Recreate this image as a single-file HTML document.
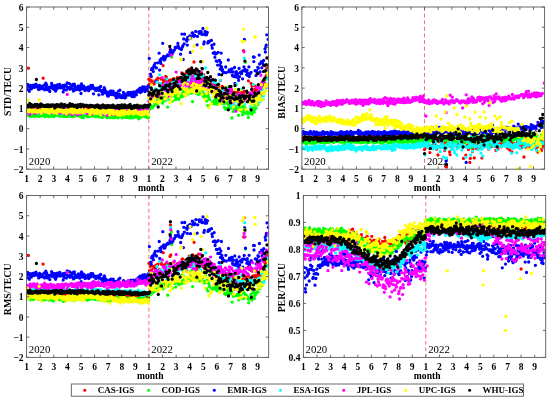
<!DOCTYPE html><html><head><meta charset="utf-8"><style>html,body{margin:0;padding:0;background:#fff;}svg{display:block;}text{font-family:"Liberation Serif","Times New Roman",serif;}</style></head><body>
<svg width="550" height="401" viewBox="0 0 550 401">
<rect width="550" height="401" fill="#fff"/>
<text x="28.8" y="165.2" font-size="10.8">2020</text>
<text x="151.2" y="165.2" font-size="10.8">2022</text>
<line x1="148.8" y1="7.0" x2="148.8" y2="169.2" stroke="#ff3040" stroke-opacity="0.7" stroke-width="1" stroke-dasharray="4,2.6"/>
<clipPath id="c1"><rect x="26.6" y="7.0" width="241.9" height="162.2"/></clipPath>
<g clip-path="url(#c1)" fill="none" stroke-linecap="round" stroke-width="3.3">
<path stroke="#ff0000" d="M26.6 107.6h0M27.0 109.7h0M27.5 109.9h0M27.9 112.1h0M28.4 68.2h0M28.8 109.7h0M29.3 109.9h0M29.7 109.1h0M30.2 109.0h0M30.6 110.5h0M31.1 110.3h0M31.5 109.9h0M32.0 108.7h0M32.4 108.8h0M32.8 110.7h0M33.3 110.6h0M33.7 108.7h0M34.2 107.8h0M34.6 109.5h0M35.1 110.1h0M35.5 108.3h0M36.0 109.7h0M36.4 108.7h0M36.9 107.9h0M37.3 108.8h0M37.8 109.4h0M38.2 108.7h0M38.6 110.1h0M39.1 109.6h0M39.5 110.0h0M40.0 109.7h0M40.4 110.0h0M40.9 109.6h0M41.3 109.8h0M41.8 109.4h0M42.2 109.4h0M42.7 109.2h0M43.1 78.2h0M43.6 111.0h0M44.0 108.2h0M44.5 109.7h0M44.9 110.7h0M45.3 109.7h0M45.8 109.4h0M46.2 108.4h0M46.7 110.6h0M47.1 109.3h0M47.6 109.4h0M48.0 111.2h0M48.5 110.7h0M48.9 108.9h0M49.4 108.8h0M49.8 108.4h0M50.3 109.0h0M50.7 109.1h0M51.1 109.4h0M51.6 108.3h0M52.0 110.4h0M52.5 109.7h0M52.9 109.1h0M53.4 111.1h0M53.8 108.2h0M54.3 110.3h0M54.7 109.6h0M55.2 107.3h0M55.6 110.4h0M56.1 110.1h0M56.5 108.0h0M56.9 110.6h0M57.4 110.0h0M57.8 109.0h0M58.3 109.1h0M58.7 108.9h0M59.2 109.2h0M59.6 108.2h0M60.1 108.5h0M60.5 109.0h0M61.0 110.3h0M61.4 110.3h0M61.9 111.5h0M62.3 108.9h0M62.7 111.4h0M63.2 108.7h0M63.6 107.7h0M64.1 110.7h0M64.5 110.3h0M65.0 110.1h0M65.4 108.7h0M65.9 110.5h0M66.3 109.7h0M66.8 110.1h0M67.2 109.8h0M67.7 108.3h0M68.1 110.6h0M68.5 109.5h0M69.0 109.3h0M69.4 108.7h0M69.9 110.9h0M70.3 108.5h0M70.8 109.2h0M71.2 108.7h0M71.7 109.5h0M72.1 111.3h0M72.6 110.3h0M73.0 108.8h0M73.5 109.6h0M73.9 109.7h0M74.4 107.8h0M74.8 107.4h0M75.2 109.7h0M75.7 107.7h0M76.1 111.7h0M76.6 111.7h0M77.0 108.8h0M77.5 109.9h0M77.9 109.1h0M78.4 109.1h0M78.8 109.7h0M79.3 109.0h0M79.7 109.5h0M80.2 111.2h0M80.6 109.4h0M81.0 109.5h0M81.5 107.8h0M81.9 110.8h0M82.4 109.6h0M82.8 110.1h0M83.3 109.8h0M83.7 108.0h0M84.2 109.3h0M84.6 110.1h0M85.1 109.5h0M85.5 108.9h0M86.0 110.7h0M86.4 110.0h0M86.8 108.1h0M87.3 108.8h0M87.7 109.7h0M88.2 110.2h0M88.6 109.9h0M89.1 111.3h0M89.5 108.7h0M90.0 109.4h0M90.4 109.6h0M90.9 111.0h0M91.3 110.4h0M91.8 109.2h0M92.2 109.5h0M92.6 110.2h0M93.1 109.2h0M93.5 108.8h0M94.0 110.4h0M94.4 110.3h0M94.9 110.6h0M95.3 110.9h0M95.8 108.9h0M96.2 109.2h0M96.7 109.4h0M97.1 110.9h0M97.6 110.8h0M98.0 109.8h0M98.5 110.2h0M98.9 109.6h0M99.3 110.5h0M99.8 109.1h0M100.2 107.9h0M100.7 108.2h0M101.1 108.1h0M101.6 109.7h0M102.0 108.8h0M102.5 110.1h0M102.9 108.8h0M103.4 110.2h0M103.8 110.3h0M104.3 110.4h0M104.7 109.1h0M105.1 109.5h0M105.6 109.6h0M106.0 110.9h0M106.5 109.6h0M106.9 111.2h0M107.4 108.3h0M107.8 109.9h0M108.3 109.6h0M108.7 109.9h0M109.2 111.4h0M109.6 111.2h0M110.1 109.8h0M110.5 108.3h0M110.9 110.9h0M111.4 110.5h0M111.8 109.9h0M112.3 111.5h0M112.7 111.5h0M113.2 110.2h0M113.6 109.9h0M114.1 110.2h0M114.5 108.3h0M115.0 110.0h0M115.4 109.5h0M115.9 108.2h0M116.3 108.1h0M116.7 111.4h0M117.2 110.2h0M117.6 108.7h0M118.1 111.2h0M118.5 110.8h0M119.0 111.2h0M119.4 111.2h0M119.9 111.0h0M120.3 109.7h0M120.8 108.6h0M121.2 108.3h0M121.7 109.8h0M122.1 111.9h0M122.5 109.9h0M123.0 110.2h0M123.4 109.5h0M123.9 110.0h0M124.3 111.7h0M124.8 109.5h0M125.2 112.0h0M125.7 110.6h0M126.1 109.6h0M126.6 109.5h0M127.0 108.3h0M127.5 112.3h0M127.9 109.5h0M128.4 109.2h0M128.8 110.2h0M129.2 109.3h0M129.7 111.0h0M130.1 109.2h0M130.6 109.4h0M131.0 110.9h0M131.5 110.6h0M131.9 110.1h0M132.4 110.6h0M132.8 108.9h0M133.3 109.7h0M133.7 108.6h0M134.2 108.7h0M134.6 109.9h0M135.0 110.1h0M135.5 110.9h0M135.9 110.7h0M136.4 110.7h0M136.8 109.6h0M137.3 110.8h0M137.7 109.9h0M138.2 109.7h0M138.6 110.4h0M139.1 110.1h0M139.5 108.5h0M140.0 108.3h0M140.4 110.7h0M140.8 110.2h0M141.3 110.3h0M141.7 110.2h0M142.2 108.4h0M142.6 109.3h0M143.1 108.7h0M143.5 108.2h0M144.0 110.4h0M144.4 110.2h0M144.9 109.9h0M145.3 108.9h0M145.8 110.1h0M146.2 109.3h0M146.6 108.8h0M147.1 108.8h0M147.5 109.5h0M148.0 110.8h0M148.4 111.6h0M148.8 79.2h0M149.3 84.4h0M150.2 80.7h0M150.6 80.5h0M151.1 76.7h0M151.5 83.8h0M152.0 80.8h0M153.8 83.6h0M154.2 83.9h0M155.1 81.8h0M156.0 80.5h0M156.9 79.4h0M157.3 80.1h0M157.8 78.2h0M159.6 83.6h0M160.9 78.4h0M161.3 79.1h0M162.2 83.5h0M163.1 65.6h0M163.6 80.4h0M164.5 81.5h0M165.4 79.7h0M165.8 76.3h0M166.3 77.2h0M167.2 80.1h0M167.6 80.9h0M168.0 87.8h0M168.9 80.3h0M169.4 80.6h0M169.8 81.2h0M170.3 49.5h0M170.7 79.8h0M171.2 79.8h0M171.6 80.3h0M173.9 78.7h0M174.3 94.6h0M174.7 84.7h0M175.2 94.6h0M175.6 88.7h0M176.1 81.4h0M176.5 86.6h0M177.0 79.1h0M177.4 77.3h0M178.3 78.1h0M179.2 82.5h0M179.7 79.9h0M181.0 78.1h0M181.9 73.0h0M182.3 73.3h0M182.8 80.4h0M183.2 76.6h0M183.7 76.0h0M184.1 76.9h0M184.6 78.7h0M185.5 74.0h0M185.9 77.5h0M186.8 80.2h0M187.3 73.4h0M187.7 84.4h0M188.1 76.7h0M189.0 69.2h0M189.9 77.1h0M190.4 76.6h0M190.8 86.7h0M191.3 79.1h0M191.7 76.8h0M192.6 70.2h0M193.1 77.1h0M193.5 75.8h0M194.0 62.0h0M194.4 75.5h0M195.3 85.3h0M195.7 81.7h0M196.2 76.7h0M196.6 76.4h0M197.1 78.5h0M197.5 71.0h0M198.0 83.4h0M198.4 73.0h0M198.9 78.6h0M199.8 72.9h0M200.2 80.0h0M200.7 80.6h0M201.1 77.9h0M201.5 73.0h0M202.0 79.4h0M202.4 76.8h0M202.9 81.6h0M203.3 76.0h0M203.8 74.8h0M204.2 80.5h0M206.0 81.8h0M206.5 81.9h0M207.3 81.0h0M207.8 83.4h0M210.0 85.5h0M211.4 79.7h0M211.8 83.7h0M212.3 92.7h0M212.7 88.6h0M213.6 85.0h0M214.0 83.1h0M214.5 86.9h0M214.9 84.9h0M215.4 84.4h0M215.8 91.8h0M216.7 88.8h0M217.2 89.5h0M217.6 88.3h0M219.0 95.2h0M219.4 87.8h0M219.9 94.7h0M220.3 80.7h0M220.7 93.6h0M221.2 91.4h0M221.6 96.1h0M222.1 86.3h0M222.5 93.0h0M223.0 88.4h0M223.9 87.6h0M224.3 94.7h0M224.8 87.9h0M225.2 93.6h0M226.1 91.8h0M226.6 91.2h0M227.0 92.1h0M227.4 95.1h0M227.9 96.6h0M228.3 97.8h0M229.7 98.0h0M230.6 91.5h0M231.0 96.2h0M231.5 90.7h0M231.9 97.9h0M232.4 92.1h0M232.8 92.9h0M233.3 93.0h0M233.7 97.5h0M234.1 105.5h0M234.6 92.5h0M235.0 97.2h0M235.5 95.7h0M235.9 93.1h0M236.4 95.0h0M236.8 92.5h0M238.2 92.1h0M240.4 95.6h0M240.8 97.0h0M241.3 92.4h0M241.7 97.6h0M242.6 93.0h0M243.1 98.8h0M243.5 50.7h0M244.0 94.0h0M244.4 91.5h0M245.3 93.2h0M245.8 93.9h0M246.2 94.1h0M247.5 94.9h0M248.0 98.3h0M248.4 80.8h0M248.9 95.7h0M249.8 94.5h0M251.1 83.4h0M252.0 86.3h0M252.9 91.8h0M253.4 91.9h0M253.8 96.4h0M254.2 89.8h0M254.7 85.8h0M255.1 89.4h0M255.6 92.0h0M256.0 95.5h0M256.5 86.9h0M256.9 89.1h0M257.4 90.9h0M258.7 87.2h0M260.1 91.5h0M260.5 87.2h0M261.4 83.8h0M261.8 85.1h0M262.3 91.2h0M262.7 87.4h0M263.2 82.4h0M264.5 83.4h0M265.0 78.7h0M265.4 77.7h0M266.3 75.5h0M266.8 68.4h0M268.1 66.3h0"/>
<path stroke="#00ff00" d="M26.6 115.3h0M27.0 115.1h0M27.5 113.8h0M27.9 111.3h0M28.4 113.7h0M28.8 114.3h0M29.3 115.8h0M29.7 114.9h0M30.2 116.3h0M30.6 115.1h0M31.1 116.3h0M31.5 113.8h0M32.0 112.7h0M32.4 114.0h0M32.8 112.0h0M33.3 116.3h0M33.7 114.1h0M34.2 115.2h0M34.6 114.9h0M35.1 116.3h0M35.5 115.1h0M36.0 115.2h0M36.4 115.9h0M36.9 113.8h0M37.3 114.2h0M37.8 113.7h0M38.2 115.7h0M38.6 115.8h0M39.1 116.4h0M39.5 114.1h0M40.0 114.0h0M40.4 115.1h0M40.9 115.9h0M41.3 115.0h0M41.8 114.5h0M42.2 114.5h0M42.7 115.4h0M43.1 113.8h0M43.6 113.6h0M44.0 116.1h0M44.5 114.7h0M44.9 115.0h0M45.3 116.6h0M45.8 115.7h0M46.2 114.8h0M46.7 113.7h0M47.1 115.9h0M47.6 115.5h0M48.0 115.3h0M48.5 115.6h0M48.9 116.7h0M49.4 114.2h0M49.8 115.4h0M50.3 114.6h0M50.7 114.3h0M51.1 115.6h0M51.6 116.2h0M52.0 115.9h0M52.5 115.7h0M52.9 116.1h0M53.4 115.5h0M53.8 116.7h0M54.3 115.6h0M54.7 115.8h0M55.2 114.9h0M55.6 114.6h0M56.1 113.1h0M56.5 113.8h0M56.9 114.3h0M57.4 115.1h0M57.8 115.0h0M58.3 114.7h0M58.7 115.4h0M59.2 115.1h0M59.6 116.1h0M60.1 114.7h0M60.5 116.1h0M61.0 115.6h0M61.4 115.7h0M61.9 112.2h0M62.3 115.0h0M62.7 114.0h0M63.2 116.5h0M63.6 114.5h0M64.1 115.4h0M64.5 114.1h0M65.0 115.5h0M65.4 116.4h0M65.9 114.3h0M66.3 115.1h0M66.8 116.6h0M67.2 115.2h0M67.7 116.2h0M68.1 114.3h0M68.5 115.0h0M69.0 114.7h0M69.4 116.2h0M69.9 113.6h0M70.3 115.8h0M70.8 114.8h0M71.2 115.4h0M71.7 115.0h0M72.1 116.5h0M72.6 115.0h0M73.0 114.7h0M73.5 116.6h0M73.9 114.0h0M74.4 116.2h0M74.8 115.8h0M75.2 115.8h0M75.7 113.8h0M76.1 115.7h0M76.6 115.6h0M77.0 114.8h0M77.5 115.0h0M77.9 113.8h0M78.4 115.6h0M78.8 115.8h0M79.3 116.0h0M79.7 116.0h0M80.2 114.3h0M80.6 114.6h0M81.0 115.5h0M81.5 115.3h0M81.9 117.6h0M82.4 114.2h0M82.8 114.7h0M83.3 117.5h0M83.7 115.8h0M84.2 115.3h0M84.6 113.6h0M85.1 114.9h0M85.5 113.8h0M86.0 113.4h0M86.4 114.4h0M86.8 116.2h0M87.3 116.7h0M87.7 115.5h0M88.2 114.3h0M88.6 114.7h0M89.1 116.6h0M89.5 114.4h0M90.0 116.2h0M90.4 115.6h0M90.9 114.0h0M91.3 115.0h0M91.8 115.8h0M92.2 116.0h0M92.6 115.1h0M93.1 114.9h0M93.5 115.3h0M94.0 116.0h0M94.4 114.7h0M94.9 114.3h0M95.3 116.5h0M95.8 114.5h0M96.2 116.0h0M96.7 115.6h0M97.1 114.3h0M97.6 116.7h0M98.0 115.5h0M98.5 113.5h0M98.9 113.8h0M99.3 116.1h0M99.8 116.7h0M100.2 114.1h0M100.7 115.3h0M101.1 115.3h0M101.6 117.3h0M102.0 115.5h0M102.5 117.4h0M102.9 116.0h0M103.4 113.6h0M103.8 114.3h0M104.3 114.0h0M104.7 115.7h0M105.1 115.4h0M105.6 116.3h0M106.0 113.6h0M106.5 116.5h0M106.9 117.5h0M107.4 116.5h0M107.8 114.8h0M108.3 116.6h0M108.7 115.8h0M109.2 117.6h0M109.6 116.8h0M110.1 117.5h0M110.5 117.3h0M110.9 116.3h0M111.4 115.4h0M111.8 113.9h0M112.3 115.4h0M112.7 117.3h0M113.2 117.3h0M113.6 117.8h0M114.1 116.2h0M114.5 117.2h0M115.0 116.4h0M115.4 117.4h0M115.9 114.4h0M116.3 116.5h0M116.7 115.3h0M117.2 116.5h0M117.6 113.6h0M118.1 117.8h0M118.5 115.5h0M119.0 114.6h0M119.4 116.2h0M119.9 115.0h0M120.3 116.2h0M120.8 114.8h0M121.2 116.1h0M121.7 114.1h0M122.1 117.9h0M122.5 115.2h0M123.0 116.7h0M123.4 116.6h0M123.9 115.5h0M124.3 116.8h0M124.8 116.9h0M125.2 115.5h0M125.7 117.4h0M126.1 116.4h0M126.6 115.0h0M127.0 117.1h0M127.5 114.8h0M127.9 117.4h0M128.4 115.9h0M128.8 116.1h0M129.2 117.8h0M129.7 115.4h0M130.1 117.9h0M130.6 114.7h0M131.0 114.5h0M131.5 117.0h0M131.9 116.2h0M132.4 116.5h0M132.8 117.9h0M133.3 117.3h0M133.7 116.4h0M134.2 116.3h0M134.6 114.9h0M135.0 116.9h0M135.5 117.0h0M135.9 115.6h0M136.4 115.5h0M136.8 116.6h0M137.3 116.1h0M137.7 117.0h0M138.2 116.6h0M138.6 118.8h0M139.1 118.3h0M139.5 115.4h0M140.0 117.0h0M140.4 117.5h0M140.8 115.7h0M141.3 113.9h0M141.7 115.1h0M142.2 115.7h0M142.6 116.2h0M143.1 114.1h0M143.5 114.2h0M144.0 115.8h0M144.4 116.5h0M144.9 115.9h0M145.3 115.4h0M145.8 116.2h0M146.2 116.6h0M146.6 116.7h0M147.1 117.6h0M147.5 116.3h0M148.0 115.7h0M148.4 117.5h0M148.8 109.5h0M149.3 109.5h0M149.7 106.9h0M150.2 107.2h0M150.6 108.3h0M151.1 105.7h0M151.5 107.8h0M152.0 99.5h0M152.4 107.8h0M154.2 105.7h0M154.6 102.7h0M155.5 103.5h0M156.4 103.4h0M156.9 104.1h0M157.3 100.4h0M157.8 103.3h0M160.0 98.6h0M160.5 99.8h0M160.9 98.2h0M161.8 101.4h0M162.2 102.1h0M162.7 103.2h0M163.1 100.7h0M163.6 97.1h0M164.5 100.3h0M164.9 99.5h0M165.4 96.9h0M165.8 100.3h0M166.3 99.4h0M167.6 107.1h0M168.0 99.0h0M168.9 96.8h0M169.4 99.0h0M170.7 95.6h0M171.2 96.1h0M171.6 57.0h0M172.5 101.0h0M173.0 90.7h0M173.9 95.0h0M174.3 96.4h0M174.7 93.8h0M175.6 99.7h0M176.1 97.2h0M176.5 95.2h0M177.0 96.6h0M177.4 96.2h0M177.9 94.6h0M178.3 98.4h0M178.8 99.3h0M179.2 96.9h0M180.1 96.8h0M180.6 95.9h0M181.4 89.2h0M181.9 96.8h0M182.8 93.2h0M183.2 93.9h0M183.7 90.4h0M184.1 95.6h0M184.6 91.7h0M185.0 91.1h0M185.5 82.6h0M186.4 91.5h0M186.8 92.6h0M187.7 92.5h0M188.6 93.8h0M189.0 85.9h0M189.5 87.9h0M189.9 91.1h0M190.4 90.0h0M190.8 90.7h0M191.3 93.2h0M191.7 83.4h0M192.6 101.7h0M193.1 92.6h0M194.4 90.3h0M195.3 90.5h0M195.7 88.8h0M196.2 91.0h0M196.6 93.6h0M197.1 90.2h0M197.5 91.7h0M198.0 93.7h0M198.4 94.4h0M199.3 92.1h0M199.8 90.9h0M200.2 93.8h0M200.7 91.8h0M201.1 92.6h0M201.5 91.6h0M202.0 91.1h0M202.4 91.3h0M202.9 95.6h0M203.8 96.8h0M204.2 94.1h0M204.7 94.0h0M205.1 96.2h0M205.6 89.6h0M206.0 94.4h0M206.5 100.9h0M207.3 96.2h0M207.8 105.7h0M208.2 94.8h0M208.7 97.5h0M209.1 99.1h0M209.6 99.5h0M211.8 102.9h0M212.3 102.2h0M213.6 101.6h0M214.0 103.8h0M214.5 100.3h0M214.9 102.0h0M215.4 99.7h0M216.7 104.1h0M217.2 99.3h0M217.6 101.7h0M218.5 104.0h0M219.0 102.9h0M219.4 101.0h0M221.2 102.8h0M223.0 103.6h0M223.9 103.4h0M224.3 107.2h0M225.2 96.3h0M225.7 109.2h0M226.6 108.5h0M227.0 103.4h0M227.9 102.4h0M228.3 109.3h0M228.8 105.2h0M229.2 106.4h0M230.1 108.3h0M231.0 107.5h0M231.5 106.1h0M231.9 118.0h0M233.3 111.5h0M234.1 109.3h0M235.9 106.6h0M236.4 109.5h0M237.3 109.3h0M237.7 109.4h0M238.6 115.3h0M239.1 107.5h0M240.4 110.5h0M241.3 108.4h0M241.7 111.1h0M242.2 105.8h0M242.6 114.7h0M243.1 103.4h0M243.5 113.0h0M244.0 106.5h0M244.4 109.8h0M244.9 107.8h0M245.3 62.2h0M246.2 113.1h0M246.7 112.3h0M247.1 111.6h0M247.5 112.5h0M248.0 113.9h0M248.4 117.5h0M248.9 112.8h0M249.3 112.8h0M250.2 102.1h0M250.7 108.4h0M251.6 114.2h0M252.0 112.0h0M252.5 111.0h0M252.9 107.3h0M253.4 112.4h0M253.8 111.5h0M254.2 112.3h0M255.1 109.2h0M255.6 104.8h0M256.0 107.9h0M256.5 103.5h0M257.4 97.8h0M257.8 104.5h0M258.7 100.8h0M259.6 101.6h0M260.1 98.7h0M260.9 94.9h0M261.8 99.6h0M262.7 95.7h0M263.6 93.8h0M264.5 92.0h0M265.4 85.6h0M265.9 83.9h0M267.2 78.5h0M267.6 77.3h0M268.1 77.1h0"/>
<path stroke="#0000ff" d="M26.6 87.9h0M27.0 89.6h0M27.5 84.4h0M27.9 84.8h0M28.4 87.1h0M28.8 87.9h0M29.3 91.3h0M29.7 88.8h0M30.2 85.4h0M30.6 86.2h0M31.1 87.1h0M31.5 88.8h0M32.0 87.8h0M32.4 85.5h0M32.8 85.9h0M33.3 86.8h0M33.7 85.1h0M34.2 87.4h0M34.6 86.5h0M35.1 86.8h0M35.5 86.6h0M36.0 84.1h0M36.4 85.7h0M36.9 85.7h0M37.3 86.3h0M37.8 87.4h0M38.2 86.6h0M38.6 89.6h0M39.1 86.0h0M39.5 85.3h0M40.0 86.7h0M40.4 86.5h0M40.9 88.8h0M41.3 87.3h0M41.8 86.5h0M42.2 87.7h0M42.7 88.4h0M43.1 88.6h0M43.6 88.7h0M44.0 85.1h0M44.5 89.8h0M44.9 85.3h0M45.3 85.2h0M45.8 83.1h0M46.2 87.6h0M46.7 84.8h0M47.1 89.7h0M47.6 88.4h0M48.0 88.3h0M48.5 88.6h0M48.9 87.5h0M49.4 87.5h0M49.8 91.5h0M50.3 87.2h0M50.7 87.1h0M51.1 88.1h0M51.6 83.5h0M52.0 84.8h0M52.5 87.6h0M52.9 87.7h0M53.4 86.3h0M53.8 89.3h0M54.3 85.8h0M54.7 86.5h0M55.2 85.6h0M55.6 91.1h0M56.1 88.7h0M56.5 89.2h0M56.9 87.3h0M57.4 84.9h0M57.8 88.1h0M58.3 86.7h0M58.7 86.9h0M59.2 87.3h0M59.6 84.3h0M60.1 87.7h0M60.5 87.9h0M61.0 87.1h0M61.4 86.7h0M61.9 87.6h0M62.3 87.0h0M62.7 85.5h0M63.2 91.9h0M63.6 87.8h0M64.1 89.6h0M64.5 85.1h0M65.0 85.8h0M65.4 85.5h0M65.9 85.8h0M66.3 89.9h0M66.8 86.7h0M67.2 83.0h0M67.7 88.1h0M68.1 87.5h0M68.5 88.0h0M69.0 88.3h0M69.4 83.6h0M69.9 89.2h0M70.3 86.8h0M70.8 87.5h0M71.2 87.2h0M71.7 88.6h0M72.1 84.8h0M72.6 85.7h0M73.0 84.4h0M73.5 91.0h0M73.9 90.7h0M74.4 84.1h0M74.8 88.5h0M75.2 86.5h0M75.7 87.2h0M76.1 87.9h0M76.6 89.5h0M77.0 88.4h0M77.5 87.8h0M77.9 88.6h0M78.4 85.8h0M78.8 89.4h0M79.3 86.9h0M79.7 90.0h0M80.2 86.6h0M80.6 85.9h0M81.0 93.5h0M81.5 83.9h0M81.9 87.4h0M82.4 88.9h0M82.8 86.2h0M83.3 88.9h0M83.7 86.1h0M84.2 88.5h0M84.6 89.1h0M85.1 90.5h0M85.5 87.9h0M86.0 87.8h0M86.4 88.1h0M86.8 88.8h0M87.3 88.7h0M87.7 89.8h0M88.2 87.0h0M88.6 90.7h0M89.1 88.4h0M89.5 87.2h0M90.0 89.2h0M90.4 88.9h0M90.9 85.4h0M91.3 87.7h0M91.8 85.9h0M92.2 88.1h0M92.6 85.5h0M93.1 87.5h0M93.5 93.8h0M94.0 88.4h0M94.4 89.1h0M94.9 88.1h0M95.3 89.0h0M95.8 90.4h0M96.2 89.2h0M96.7 88.9h0M97.1 88.1h0M97.6 88.8h0M98.0 88.3h0M98.5 90.3h0M98.9 94.8h0M99.3 88.9h0M99.8 87.1h0M100.2 90.2h0M100.7 86.5h0M101.1 91.2h0M101.6 90.8h0M102.0 91.5h0M102.5 94.2h0M102.9 93.5h0M103.4 89.9h0M103.8 92.4h0M104.3 87.7h0M104.7 89.0h0M105.1 92.6h0M105.6 92.7h0M106.0 91.2h0M106.5 93.3h0M106.9 92.5h0M107.4 95.6h0M107.8 93.1h0M108.3 96.2h0M108.7 92.3h0M109.2 92.5h0M109.6 94.5h0M110.1 91.5h0M110.5 91.4h0M110.9 91.0h0M111.4 94.2h0M111.8 94.6h0M112.3 94.5h0M112.7 92.0h0M113.2 91.2h0M113.6 94.5h0M114.1 94.4h0M114.5 93.6h0M115.0 95.4h0M115.4 93.8h0M115.9 93.2h0M116.3 97.8h0M116.7 93.7h0M117.2 96.9h0M117.6 94.8h0M118.1 97.0h0M118.5 91.1h0M119.0 95.6h0M119.4 94.3h0M119.9 90.2h0M120.3 97.2h0M120.8 96.5h0M121.2 97.1h0M121.7 97.7h0M122.1 97.5h0M122.5 95.4h0M123.0 96.6h0M123.4 92.5h0M123.9 94.6h0M124.3 93.4h0M124.8 97.9h0M125.2 95.6h0M125.7 97.4h0M126.1 95.7h0M126.6 94.6h0M127.0 94.9h0M127.5 94.7h0M127.9 92.7h0M128.4 95.0h0M128.8 95.0h0M129.2 92.7h0M129.7 94.1h0M130.1 94.8h0M130.6 95.1h0M131.0 92.5h0M131.5 93.7h0M131.9 96.6h0M132.4 94.6h0M132.8 95.8h0M133.3 92.7h0M133.7 92.0h0M134.2 96.7h0M134.6 93.4h0M135.0 92.8h0M135.5 92.5h0M135.9 92.9h0M136.4 94.8h0M136.8 90.9h0M137.3 91.8h0M137.7 90.4h0M138.2 89.9h0M138.6 91.8h0M139.1 89.3h0M139.5 89.3h0M140.0 88.1h0M140.4 92.6h0M140.8 90.1h0M141.3 91.8h0M141.7 91.3h0M142.2 89.3h0M142.6 86.9h0M143.1 87.7h0M143.5 89.2h0M144.0 89.1h0M144.4 86.9h0M144.9 91.5h0M145.3 89.7h0M145.8 89.2h0M146.2 88.0h0M146.6 88.7h0M147.1 87.6h0M147.5 90.5h0M148.0 85.9h0M148.4 87.2h0M149.3 58.4h0M150.6 74.2h0M151.1 76.2h0M151.5 69.7h0M152.0 68.3h0M152.9 68.7h0M153.3 71.4h0M153.8 66.7h0M154.2 65.3h0M154.6 66.3h0M155.1 63.3h0M156.0 81.6h0M156.4 67.9h0M157.8 62.8h0M159.1 53.2h0M159.6 70.1h0M160.0 60.1h0M160.5 61.4h0M160.9 63.4h0M161.3 58.7h0M162.7 43.3h0M163.1 57.6h0M163.6 56.4h0M164.0 59.9h0M164.5 59.9h0M164.9 59.4h0M165.4 57.9h0M166.3 56.4h0M167.2 55.6h0M167.6 54.9h0M168.5 55.5h0M169.4 55.1h0M169.8 52.1h0M170.3 54.4h0M170.7 50.0h0M171.2 51.7h0M171.6 53.6h0M172.1 54.0h0M172.5 51.3h0M173.0 52.2h0M174.3 50.1h0M175.2 47.3h0M175.6 48.0h0M177.0 47.0h0M177.9 43.5h0M178.3 46.3h0M178.8 48.1h0M179.7 48.6h0M180.6 54.2h0M181.4 49.5h0M181.9 34.1h0M182.3 47.3h0M182.8 46.0h0M183.2 59.4h0M183.7 38.9h0M184.1 43.8h0M184.6 34.2h0M186.4 39.7h0M186.8 41.1h0M187.3 45.1h0M187.7 37.4h0M189.0 38.8h0M189.5 36.7h0M189.9 36.0h0M190.4 52.4h0M190.8 37.8h0M192.2 32.9h0M192.6 33.0h0M193.1 35.5h0M194.0 36.3h0M194.4 35.1h0M194.8 35.6h0M195.7 31.4h0M197.1 44.8h0M197.5 36.4h0M198.9 31.9h0M199.3 33.3h0M199.8 31.7h0M200.2 32.9h0M200.7 33.2h0M201.1 31.7h0M202.0 34.4h0M202.4 33.9h0M202.9 28.5h0M203.8 43.9h0M204.2 41.9h0M204.7 34.7h0M205.1 31.3h0M205.6 33.0h0M206.5 34.8h0M206.9 32.4h0M207.3 32.4h0M207.8 43.0h0M208.2 41.7h0M209.1 42.0h0M209.6 41.2h0M211.4 40.4h0M211.8 45.5h0M212.3 48.2h0M213.2 53.2h0M214.0 44.2h0M214.5 52.5h0M214.9 57.3h0M215.4 54.1h0M216.3 61.0h0M216.7 53.3h0M217.2 61.3h0M217.6 65.1h0M218.1 52.3h0M219.0 74.4h0M219.4 60.3h0M219.9 65.1h0M220.3 69.0h0M220.7 62.5h0M221.2 53.1h0M221.6 67.0h0M222.1 70.6h0M222.5 69.7h0M223.4 72.7h0M224.3 72.3h0M225.7 67.0h0M226.1 72.7h0M228.3 60.0h0M228.8 71.5h0M229.2 69.9h0M230.1 71.8h0M231.0 71.8h0M231.5 69.1h0M231.9 68.9h0M232.4 75.2h0M232.8 75.9h0M233.3 71.9h0M234.1 76.5h0M234.6 67.5h0M235.0 83.3h0M235.5 76.8h0M235.9 74.1h0M236.4 71.7h0M236.8 75.3h0M237.7 73.7h0M238.2 78.3h0M238.6 80.3h0M239.1 68.5h0M239.5 76.6h0M240.4 72.4h0M241.3 73.7h0M241.7 73.5h0M242.2 71.1h0M242.6 78.8h0M243.5 70.7h0M244.0 67.0h0M244.4 39.5h0M245.3 69.7h0M245.8 71.3h0M246.7 74.8h0M247.1 70.3h0M247.5 73.1h0M248.0 75.4h0M248.9 66.9h0M249.3 76.6h0M249.8 73.9h0M250.2 73.5h0M251.1 72.3h0M253.4 57.0h0M253.8 61.6h0M254.2 57.2h0M255.1 70.7h0M256.0 75.6h0M256.5 70.9h0M256.9 72.4h0M257.4 72.8h0M257.8 67.3h0M258.3 68.2h0M259.2 55.1h0M259.6 64.0h0M260.1 72.0h0M261.4 61.7h0M261.8 67.8h0M262.7 63.3h0M263.2 64.8h0M263.6 60.4h0M265.0 48.9h0M265.4 52.1h0M265.9 46.7h0M266.3 45.1h0M266.8 34.8h0M268.1 39.3h0"/>
<path stroke="#00ffff" d="M26.6 112.7h0M27.0 112.1h0M27.5 112.1h0M27.9 108.8h0M28.4 111.6h0M28.8 112.5h0M29.3 111.5h0M29.7 109.7h0M30.2 111.4h0M30.6 111.5h0M31.1 111.0h0M31.5 112.4h0M32.0 111.1h0M32.4 110.7h0M32.8 111.5h0M33.3 111.6h0M33.7 111.1h0M34.2 111.3h0M34.6 111.5h0M35.1 112.4h0M35.5 111.8h0M36.0 111.3h0M36.4 111.0h0M36.9 110.8h0M37.3 112.4h0M37.8 112.1h0M38.2 113.3h0M38.6 111.7h0M39.1 110.7h0M39.5 111.1h0M40.0 110.1h0M40.4 110.9h0M40.9 111.7h0M41.3 111.8h0M41.8 111.2h0M42.2 112.2h0M42.7 111.8h0M43.1 111.6h0M43.6 111.3h0M44.0 110.4h0M44.5 111.3h0M44.9 110.3h0M45.3 112.2h0M45.8 110.3h0M46.2 112.4h0M46.7 111.1h0M47.1 111.1h0M47.6 112.2h0M48.0 111.1h0M48.5 112.1h0M48.9 111.7h0M49.4 112.4h0M49.8 111.4h0M50.3 110.8h0M50.7 113.2h0M51.1 110.8h0M51.6 111.8h0M52.0 110.5h0M52.5 112.5h0M52.9 111.8h0M53.4 111.1h0M53.8 111.4h0M54.3 111.1h0M54.7 111.5h0M55.2 110.5h0M55.6 112.4h0M56.1 111.1h0M56.5 111.3h0M56.9 111.4h0M57.4 113.0h0M57.8 110.7h0M58.3 110.6h0M58.7 111.7h0M59.2 112.1h0M59.6 110.8h0M60.1 111.5h0M60.5 111.7h0M61.0 112.5h0M61.4 113.5h0M61.9 109.8h0M62.3 110.8h0M62.7 112.0h0M63.2 111.7h0M63.6 110.0h0M64.1 110.2h0M64.5 110.2h0M65.0 110.6h0M65.4 110.8h0M65.9 112.0h0M66.3 111.3h0M66.8 111.0h0M67.2 111.4h0M67.7 111.0h0M68.1 111.3h0M68.5 110.6h0M69.0 110.2h0M69.4 112.0h0M69.9 110.9h0M70.3 112.0h0M70.8 111.9h0M71.2 111.4h0M71.7 111.7h0M72.1 111.4h0M72.6 111.1h0M73.0 111.3h0M73.5 111.5h0M73.9 111.6h0M74.4 110.3h0M74.8 110.8h0M75.2 110.8h0M75.7 111.1h0M76.1 110.8h0M76.6 111.2h0M77.0 111.9h0M77.5 111.4h0M77.9 111.7h0M78.4 109.8h0M78.8 110.0h0M79.3 111.3h0M79.7 110.4h0M80.2 112.5h0M80.6 109.3h0M81.0 112.2h0M81.5 112.5h0M81.9 110.1h0M82.4 111.1h0M82.8 111.6h0M83.3 110.5h0M83.7 111.8h0M84.2 112.0h0M84.6 111.8h0M85.1 111.3h0M85.5 112.1h0M86.0 113.1h0M86.4 111.1h0M86.8 111.4h0M87.3 110.9h0M87.7 111.4h0M88.2 110.9h0M88.6 112.5h0M89.1 111.7h0M89.5 112.7h0M90.0 112.5h0M90.4 112.3h0M90.9 110.7h0M91.3 112.3h0M91.8 111.4h0M92.2 111.4h0M92.6 111.3h0M93.1 113.2h0M93.5 112.0h0M94.0 110.9h0M94.4 113.2h0M94.9 112.9h0M95.3 113.5h0M95.8 111.7h0M96.2 110.1h0M96.7 111.9h0M97.1 113.1h0M97.6 113.1h0M98.0 110.7h0M98.5 111.5h0M98.9 110.0h0M99.3 112.3h0M99.8 110.1h0M100.2 110.8h0M100.7 110.7h0M101.1 111.9h0M101.6 110.1h0M102.0 111.4h0M102.5 111.8h0M102.9 113.1h0M103.4 111.2h0M103.8 111.5h0M104.3 113.0h0M104.7 112.2h0M105.1 110.9h0M105.6 110.4h0M106.0 112.7h0M106.5 111.1h0M106.9 111.4h0M107.4 111.2h0M107.8 111.6h0M108.3 112.3h0M108.7 110.8h0M109.2 112.2h0M109.6 112.6h0M110.1 109.7h0M110.5 112.3h0M110.9 111.8h0M111.4 112.8h0M111.8 112.0h0M112.3 112.7h0M112.7 111.9h0M113.2 111.1h0M113.6 111.3h0M114.1 111.2h0M114.5 111.1h0M115.0 111.8h0M115.4 111.4h0M115.9 110.8h0M116.3 111.9h0M116.7 110.9h0M117.2 113.7h0M117.6 110.9h0M118.1 111.2h0M118.5 111.5h0M119.0 112.1h0M119.4 111.8h0M119.9 111.4h0M120.3 111.5h0M120.8 112.4h0M121.2 112.7h0M121.7 111.1h0M122.1 112.5h0M122.5 111.7h0M123.0 112.2h0M123.4 111.3h0M123.9 110.9h0M124.3 112.3h0M124.8 110.8h0M125.2 111.5h0M125.7 112.1h0M126.1 110.7h0M126.6 110.2h0M127.0 110.5h0M127.5 111.2h0M127.9 111.1h0M128.4 110.9h0M128.8 110.3h0M129.2 111.7h0M129.7 111.5h0M130.1 111.1h0M130.6 110.4h0M131.0 111.7h0M131.5 111.2h0M131.9 110.5h0M132.4 111.9h0M132.8 112.6h0M133.3 110.8h0M133.7 111.1h0M134.2 110.8h0M134.6 112.5h0M135.0 111.0h0M135.5 110.9h0M135.9 111.1h0M136.4 111.0h0M136.8 111.2h0M137.3 111.2h0M137.7 112.6h0M138.2 110.1h0M138.6 112.6h0M139.1 110.1h0M139.5 112.3h0M140.0 111.3h0M140.4 110.6h0M140.8 111.6h0M141.3 110.4h0M141.7 113.3h0M142.2 112.7h0M142.6 109.0h0M143.1 111.9h0M143.5 110.6h0M144.0 111.3h0M144.4 111.5h0M144.9 111.9h0M145.3 112.8h0M145.8 111.3h0M146.2 110.1h0M146.6 111.3h0M147.1 111.3h0M147.5 111.0h0M148.0 112.3h0M148.4 111.9h0M148.8 98.4h0M149.3 93.6h0M149.7 92.6h0M150.2 95.6h0M150.6 93.5h0M151.1 93.6h0M151.5 88.6h0M152.4 96.1h0M152.9 95.4h0M153.3 90.6h0M154.6 91.4h0M155.5 88.8h0M156.9 82.2h0M157.3 91.5h0M157.8 91.3h0M158.2 91.2h0M159.6 74.8h0M160.0 90.5h0M160.5 83.4h0M160.9 89.8h0M161.3 87.8h0M161.8 92.7h0M162.2 90.6h0M162.7 93.6h0M164.0 85.2h0M164.5 88.9h0M164.9 86.0h0M165.4 84.5h0M165.8 83.1h0M166.3 95.2h0M166.7 79.1h0M167.2 87.6h0M167.6 88.5h0M168.0 99.4h0M169.4 84.8h0M169.8 84.5h0M170.3 85.9h0M170.7 85.7h0M171.6 83.0h0M172.5 90.2h0M173.9 84.9h0M174.3 80.6h0M174.7 81.5h0M175.6 81.7h0M176.1 83.3h0M176.5 85.1h0M177.0 82.5h0M177.4 83.7h0M177.9 89.5h0M178.8 82.7h0M179.2 83.5h0M179.7 82.0h0M180.1 81.8h0M181.0 83.9h0M181.4 83.0h0M182.3 83.3h0M182.8 79.1h0M183.7 76.3h0M184.1 79.2h0M184.6 79.2h0M185.5 77.1h0M185.9 81.1h0M186.4 80.8h0M186.8 83.0h0M187.3 75.5h0M188.6 79.7h0M189.5 73.7h0M189.9 75.5h0M190.4 76.5h0M191.3 77.9h0M192.2 80.8h0M192.6 77.7h0M193.1 77.5h0M193.5 78.4h0M194.0 77.1h0M194.4 80.7h0M194.8 79.9h0M195.3 73.9h0M195.7 74.9h0M196.2 76.6h0M196.6 81.2h0M197.1 78.9h0M198.4 74.2h0M199.3 85.1h0M199.8 81.3h0M200.2 77.6h0M200.7 85.3h0M202.4 75.0h0M203.3 76.0h0M204.7 79.9h0M205.1 83.2h0M205.6 67.9h0M206.0 83.4h0M206.5 80.1h0M206.9 81.7h0M207.3 79.7h0M207.8 85.4h0M209.1 82.4h0M209.6 84.3h0M210.0 79.6h0M210.5 85.7h0M210.9 83.9h0M211.4 84.2h0M211.8 85.1h0M212.3 85.9h0M212.7 82.0h0M213.2 90.2h0M214.0 81.1h0M214.5 87.4h0M215.4 82.7h0M216.7 94.3h0M217.2 90.2h0M218.1 83.8h0M219.0 89.4h0M219.4 93.9h0M219.9 89.9h0M220.3 80.3h0M220.7 88.8h0M221.2 91.3h0M221.6 91.6h0M222.1 93.2h0M223.4 90.4h0M223.9 92.6h0M224.8 91.0h0M225.2 94.5h0M227.4 91.2h0M227.9 87.1h0M229.2 97.0h0M229.7 93.4h0M230.1 95.1h0M230.6 93.0h0M231.0 101.8h0M231.5 105.9h0M231.9 101.5h0M232.4 102.4h0M232.8 100.5h0M233.3 97.9h0M233.7 105.4h0M234.6 101.8h0M235.0 93.9h0M235.5 95.1h0M235.9 101.0h0M236.4 84.5h0M236.8 98.8h0M238.2 104.3h0M238.6 97.0h0M239.5 95.5h0M240.4 98.3h0M240.8 96.4h0M241.3 98.0h0M241.7 89.1h0M242.2 97.7h0M243.1 95.9h0M243.5 103.7h0M244.0 101.8h0M244.4 58.2h0M244.9 103.9h0M245.8 99.3h0M247.1 99.5h0M247.5 97.7h0M248.0 101.1h0M248.4 95.0h0M248.9 97.7h0M249.8 99.4h0M250.2 102.5h0M250.7 106.1h0M251.1 98.9h0M251.6 94.3h0M252.0 98.2h0M252.5 104.8h0M253.4 84.6h0M253.8 99.6h0M255.1 99.2h0M255.6 97.9h0M256.5 98.6h0M256.9 100.2h0M257.4 97.8h0M258.3 92.6h0M258.7 101.5h0M260.1 101.2h0M260.5 89.0h0M260.9 92.4h0M261.4 88.8h0M261.8 85.4h0M262.7 90.8h0M263.2 99.2h0M263.6 95.4h0M264.1 87.0h0M264.5 88.0h0M265.9 79.6h0M266.8 78.9h0M267.2 73.7h0M267.6 70.8h0"/>
<path stroke="#ff00ff" d="M26.6 111.4h0M27.0 109.6h0M27.5 109.9h0M27.9 112.0h0M28.4 112.5h0M28.8 111.5h0M29.3 113.6h0M29.7 114.6h0M30.2 109.7h0M30.6 110.2h0M31.1 110.0h0M31.5 111.0h0M32.0 112.0h0M32.4 111.2h0M32.8 110.1h0M33.3 111.1h0M33.7 110.6h0M34.2 113.0h0M34.6 111.2h0M35.1 111.0h0M35.5 111.2h0M36.0 109.9h0M36.4 113.0h0M36.9 109.8h0M37.3 108.9h0M37.8 110.2h0M38.2 112.2h0M38.6 110.2h0M39.1 111.8h0M39.5 109.9h0M40.0 111.9h0M40.4 109.8h0M40.9 111.2h0M41.3 110.2h0M41.8 109.3h0M42.2 111.9h0M42.7 111.7h0M43.1 110.0h0M43.6 110.6h0M44.0 110.8h0M44.5 108.4h0M44.9 111.9h0M45.3 111.6h0M45.8 108.1h0M46.2 109.9h0M46.7 111.6h0M47.1 112.0h0M47.6 111.2h0M48.0 108.6h0M48.5 111.9h0M48.9 112.7h0M49.4 111.5h0M49.8 110.5h0M50.3 110.1h0M50.7 111.2h0M51.1 109.8h0M51.6 112.5h0M52.0 110.6h0M52.5 112.5h0M52.9 112.2h0M53.4 110.5h0M53.8 110.5h0M54.3 111.5h0M54.7 110.8h0M55.2 111.3h0M55.6 112.0h0M56.1 112.9h0M56.5 111.3h0M56.9 111.0h0M57.4 109.1h0M57.8 109.2h0M58.3 113.2h0M58.7 111.9h0M59.2 111.6h0M59.6 110.8h0M60.1 109.6h0M60.5 110.2h0M61.0 110.6h0M61.4 112.9h0M61.9 111.7h0M62.3 111.3h0M62.7 111.0h0M63.2 112.5h0M63.6 111.0h0M64.1 109.7h0M64.5 113.6h0M65.0 110.7h0M65.4 110.6h0M65.9 109.6h0M66.3 107.7h0M66.8 114.1h0M67.2 94.4h0M67.7 109.9h0M68.1 112.1h0M68.5 110.8h0M69.0 112.1h0M69.4 111.9h0M69.9 109.4h0M70.3 111.1h0M70.8 110.6h0M71.2 113.5h0M71.7 110.4h0M72.1 114.7h0M72.6 112.0h0M73.0 110.7h0M73.5 113.4h0M73.9 111.2h0M74.4 111.0h0M74.8 109.8h0M75.2 112.9h0M75.7 111.2h0M76.1 112.9h0M76.6 110.7h0M77.0 111.0h0M77.5 114.8h0M77.9 112.8h0M78.4 107.5h0M78.8 109.4h0M79.3 110.9h0M79.7 111.4h0M80.2 108.5h0M80.6 113.9h0M81.0 110.5h0M81.5 113.0h0M81.9 111.6h0M82.4 111.7h0M82.8 111.0h0M83.3 111.4h0M83.7 110.2h0M84.2 112.8h0M84.6 109.4h0M85.1 112.2h0M85.5 110.5h0M86.0 111.6h0M86.4 109.2h0M86.8 112.0h0M87.3 113.6h0M87.7 111.1h0M88.2 110.7h0M88.6 110.8h0M89.1 112.4h0M89.5 110.8h0M90.0 110.5h0M90.4 111.4h0M90.9 111.0h0M91.3 114.6h0M91.8 113.2h0M92.2 106.1h0M92.6 112.8h0M93.1 111.4h0M93.5 108.9h0M94.0 111.0h0M94.4 112.9h0M94.9 111.0h0M95.3 112.6h0M95.8 112.8h0M96.2 112.3h0M96.7 111.1h0M97.1 108.8h0M97.6 111.1h0M98.0 111.5h0M98.5 109.4h0M98.9 111.3h0M99.3 110.8h0M99.8 111.5h0M100.2 108.8h0M100.7 109.4h0M101.1 109.7h0M101.6 111.9h0M102.0 111.5h0M102.5 111.1h0M102.9 113.1h0M103.4 114.4h0M103.8 111.2h0M104.3 110.8h0M104.7 112.5h0M105.1 110.8h0M105.6 109.7h0M106.0 109.9h0M106.5 112.0h0M106.9 110.9h0M107.4 115.3h0M107.8 108.8h0M108.3 113.1h0M108.7 110.9h0M109.2 110.0h0M109.6 113.6h0M110.1 114.4h0M110.5 110.2h0M110.9 106.7h0M111.4 111.1h0M111.8 112.4h0M112.3 109.7h0M112.7 114.2h0M113.2 112.2h0M113.6 111.9h0M114.1 110.1h0M114.5 112.7h0M115.0 114.6h0M115.4 113.1h0M115.9 112.7h0M116.3 111.7h0M116.7 107.3h0M117.2 109.0h0M117.6 111.0h0M118.1 111.6h0M118.5 110.0h0M119.0 110.5h0M119.4 111.8h0M119.9 108.8h0M120.3 109.9h0M120.8 109.9h0M121.2 111.0h0M121.7 111.7h0M122.1 113.1h0M122.5 112.4h0M123.0 112.0h0M123.4 110.1h0M123.9 111.3h0M124.3 111.0h0M124.8 112.4h0M125.2 113.0h0M125.7 109.1h0M126.1 110.5h0M126.6 112.8h0M127.0 112.7h0M127.5 110.5h0M127.9 110.2h0M128.4 108.8h0M128.8 111.6h0M129.2 111.0h0M129.7 109.5h0M130.1 112.2h0M130.6 112.7h0M131.0 112.3h0M131.5 111.4h0M131.9 110.4h0M132.4 112.3h0M132.8 111.8h0M133.3 111.5h0M133.7 112.7h0M134.2 112.4h0M134.6 109.5h0M135.0 110.8h0M135.5 111.5h0M135.9 110.3h0M136.4 111.4h0M136.8 111.1h0M137.3 107.0h0M137.7 109.8h0M138.2 111.0h0M138.6 109.5h0M139.1 108.9h0M139.5 112.8h0M140.0 112.2h0M140.4 110.8h0M140.8 111.2h0M141.3 110.9h0M141.7 112.4h0M142.2 109.8h0M142.6 112.2h0M143.1 112.5h0M143.5 111.2h0M144.0 107.8h0M144.4 111.8h0M144.9 110.3h0M145.3 110.5h0M145.8 111.8h0M146.2 111.6h0M146.6 113.3h0M147.1 111.0h0M147.5 113.6h0M148.0 108.4h0M148.4 111.1h0M148.8 101.3h0M149.3 105.1h0M149.7 94.9h0M150.2 97.0h0M151.1 100.4h0M151.5 93.5h0M152.0 97.2h0M152.9 94.5h0M153.3 96.1h0M153.8 97.5h0M155.5 90.9h0M156.0 96.3h0M156.4 96.9h0M156.9 93.4h0M157.3 93.7h0M157.8 96.9h0M158.2 92.5h0M158.7 96.1h0M159.6 96.0h0M160.5 92.7h0M160.9 93.5h0M161.3 94.4h0M161.8 96.8h0M162.2 77.6h0M162.7 93.3h0M163.1 85.4h0M164.0 87.5h0M164.9 88.1h0M165.4 87.0h0M165.8 90.4h0M166.7 82.2h0M168.0 93.2h0M168.5 90.0h0M168.9 96.6h0M169.8 87.2h0M170.3 87.2h0M170.7 89.0h0M171.2 55.2h0M172.5 86.8h0M173.4 89.2h0M173.9 85.0h0M174.3 83.8h0M175.2 85.1h0M176.1 72.1h0M176.5 88.6h0M177.0 86.9h0M177.4 88.9h0M177.9 87.3h0M178.3 82.0h0M178.8 88.7h0M179.2 86.8h0M179.7 81.3h0M180.6 85.5h0M181.4 84.8h0M181.9 81.4h0M182.8 84.5h0M183.7 85.2h0M184.6 84.9h0M185.5 83.0h0M186.4 82.5h0M186.8 87.9h0M187.3 85.4h0M187.7 86.5h0M188.6 82.8h0M189.0 85.5h0M189.9 85.8h0M190.4 84.4h0M190.8 82.6h0M191.3 81.4h0M191.7 79.2h0M192.2 76.6h0M192.6 82.3h0M193.1 87.9h0M194.0 78.9h0M194.8 89.5h0M195.3 92.5h0M195.7 81.3h0M196.2 86.7h0M196.6 85.6h0M197.1 83.2h0M197.5 84.8h0M198.4 84.2h0M198.9 79.9h0M199.3 81.6h0M199.8 81.9h0M200.7 71.8h0M201.5 82.3h0M202.0 85.8h0M202.9 84.8h0M203.3 82.4h0M203.8 79.6h0M204.2 87.0h0M205.1 86.7h0M205.6 78.5h0M206.0 82.9h0M206.5 83.2h0M206.9 83.0h0M207.3 82.3h0M208.2 88.5h0M208.7 88.1h0M209.1 91.4h0M209.6 87.1h0M210.0 82.9h0M210.5 77.2h0M210.9 84.7h0M211.4 86.7h0M211.8 84.6h0M212.3 86.1h0M212.7 92.0h0M213.2 88.9h0M214.0 86.6h0M214.5 91.5h0M215.8 94.4h0M216.7 94.9h0M217.2 90.8h0M217.6 89.5h0M218.1 90.9h0M218.5 94.0h0M219.0 94.0h0M219.4 90.3h0M219.9 91.2h0M220.3 92.8h0M220.7 93.7h0M221.2 93.0h0M221.6 94.3h0M222.1 96.5h0M222.5 93.6h0M223.0 100.8h0M223.9 93.6h0M224.3 94.2h0M224.8 98.6h0M225.2 89.8h0M225.7 94.8h0M226.1 97.0h0M226.6 92.8h0M227.9 97.2h0M228.3 97.3h0M228.8 93.9h0M229.2 89.7h0M229.7 94.2h0M230.1 102.4h0M231.0 91.5h0M231.5 89.5h0M232.4 98.4h0M232.8 102.0h0M233.3 93.9h0M233.7 95.4h0M235.0 95.9h0M235.5 97.1h0M235.9 111.2h0M236.4 97.2h0M236.8 95.9h0M238.2 96.7h0M238.6 97.8h0M239.1 96.8h0M239.5 93.5h0M240.0 94.5h0M240.8 96.5h0M241.7 96.7h0M242.6 100.4h0M243.1 100.4h0M243.5 94.8h0M244.0 51.8h0M244.9 100.3h0M245.3 98.7h0M246.2 94.0h0M247.1 101.1h0M247.5 98.5h0M248.0 101.0h0M248.9 94.1h0M249.3 92.9h0M250.2 94.8h0M251.1 93.1h0M251.6 94.2h0M252.0 95.1h0M252.5 89.3h0M253.4 97.0h0M253.8 96.2h0M254.7 92.5h0M255.1 96.8h0M256.0 93.9h0M256.5 93.2h0M256.9 87.5h0M257.8 92.8h0M258.3 91.4h0M258.7 86.8h0M259.2 93.2h0M260.1 87.8h0M260.5 88.7h0M260.9 75.4h0M261.4 93.7h0M262.3 82.2h0M262.7 82.8h0M263.2 85.8h0M263.6 80.4h0M264.1 81.1h0M265.0 77.9h0M266.3 71.8h0M268.1 58.0h0"/>
<path stroke="#ffff00" d="M26.6 110.6h0M27.0 110.0h0M27.5 100.5h0M27.9 110.8h0M28.4 111.7h0M28.8 111.8h0M29.3 110.7h0M29.7 109.9h0M30.2 109.2h0M30.6 109.7h0M31.1 109.9h0M31.5 110.4h0M32.0 112.1h0M32.4 111.5h0M32.8 110.2h0M33.3 111.7h0M33.7 111.8h0M34.2 110.7h0M34.6 109.9h0M35.1 111.3h0M35.5 111.7h0M36.0 111.2h0M36.4 111.2h0M36.9 112.3h0M37.3 111.6h0M37.8 111.8h0M38.2 110.2h0M38.6 111.5h0M39.1 100.0h0M39.5 111.5h0M40.0 108.1h0M40.4 111.4h0M40.9 111.6h0M41.3 113.4h0M41.8 107.9h0M42.2 108.6h0M42.7 111.2h0M43.1 109.9h0M43.6 110.8h0M44.0 110.8h0M44.5 109.8h0M44.9 110.6h0M45.3 112.0h0M45.8 109.3h0M46.2 109.0h0M46.7 110.6h0M47.1 110.2h0M47.6 109.5h0M48.0 112.6h0M48.5 108.9h0M48.9 109.9h0M49.4 113.2h0M49.8 108.1h0M50.3 109.6h0M50.7 109.9h0M51.1 111.6h0M51.6 110.0h0M52.0 110.0h0M52.5 109.4h0M52.9 109.5h0M53.4 112.6h0M53.8 109.1h0M54.3 110.2h0M54.7 111.4h0M55.2 111.2h0M55.6 109.5h0M56.1 112.6h0M56.5 110.7h0M56.9 113.4h0M57.4 109.3h0M57.8 111.1h0M58.3 111.4h0M58.7 110.9h0M59.2 110.7h0M59.6 109.9h0M60.1 109.7h0M60.5 109.3h0M61.0 111.4h0M61.4 111.4h0M61.9 111.5h0M62.3 111.5h0M62.7 111.1h0M63.2 112.8h0M63.6 110.5h0M64.1 111.3h0M64.5 110.3h0M65.0 110.8h0M65.4 111.4h0M65.9 112.4h0M66.3 113.8h0M66.8 110.1h0M67.2 110.3h0M67.7 109.2h0M68.1 110.7h0M68.5 111.9h0M69.0 108.8h0M69.4 111.9h0M69.9 108.1h0M70.3 106.4h0M70.8 108.5h0M71.2 112.2h0M71.7 111.0h0M72.1 110.9h0M72.6 109.7h0M73.0 113.0h0M73.5 108.4h0M73.9 108.2h0M74.4 112.6h0M74.8 108.8h0M75.2 110.4h0M75.7 110.6h0M76.1 107.7h0M76.6 111.4h0M77.0 110.3h0M77.5 112.9h0M77.9 109.7h0M78.4 110.1h0M78.8 111.2h0M79.3 110.5h0M79.7 112.5h0M80.2 109.3h0M80.6 110.2h0M81.0 112.7h0M81.5 108.9h0M81.9 110.6h0M82.4 111.8h0M82.8 112.2h0M83.3 111.1h0M83.7 112.9h0M84.2 112.2h0M84.6 111.4h0M85.1 110.1h0M85.5 109.6h0M86.0 110.2h0M86.4 110.9h0M86.8 111.4h0M87.3 110.4h0M87.7 111.1h0M88.2 110.8h0M88.6 111.1h0M89.1 111.4h0M89.5 112.1h0M90.0 114.6h0M90.4 110.2h0M90.9 112.8h0M91.3 112.4h0M91.8 111.1h0M92.2 111.6h0M92.6 108.7h0M93.1 112.9h0M93.5 112.5h0M94.0 111.7h0M94.4 112.5h0M94.9 110.7h0M95.3 113.4h0M95.8 112.4h0M96.2 111.5h0M96.7 108.4h0M97.1 113.4h0M97.6 110.2h0M98.0 110.6h0M98.5 112.0h0M98.9 112.3h0M99.3 112.0h0M99.8 111.6h0M100.2 111.1h0M100.7 115.0h0M101.1 109.7h0M101.6 112.2h0M102.0 112.0h0M102.5 110.8h0M102.9 110.5h0M103.4 110.6h0M103.8 112.3h0M104.3 113.2h0M104.7 110.8h0M105.1 113.8h0M105.6 112.7h0M106.0 111.7h0M106.5 111.0h0M106.9 112.5h0M107.4 111.2h0M107.8 111.7h0M108.3 109.2h0M108.7 109.8h0M109.2 112.0h0M109.6 114.9h0M110.1 113.8h0M110.5 110.9h0M110.9 111.9h0M111.4 109.1h0M111.8 112.8h0M112.3 111.1h0M112.7 112.4h0M113.2 114.2h0M113.6 111.0h0M114.1 112.5h0M114.5 113.6h0M115.0 112.6h0M115.4 111.9h0M115.9 113.7h0M116.3 113.4h0M116.7 112.8h0M117.2 111.3h0M117.6 114.9h0M118.1 113.0h0M118.5 112.8h0M119.0 113.4h0M119.4 112.2h0M119.9 109.6h0M120.3 115.4h0M120.8 113.2h0M121.2 112.5h0M121.7 111.3h0M122.1 111.8h0M122.5 113.6h0M123.0 109.2h0M123.4 111.3h0M123.9 114.8h0M124.3 109.7h0M124.8 110.6h0M125.2 112.2h0M125.7 112.0h0M126.1 112.8h0M126.6 113.4h0M127.0 113.0h0M127.5 112.3h0M127.9 113.6h0M128.4 114.1h0M128.8 111.0h0M129.2 112.5h0M129.7 113.4h0M130.1 112.2h0M130.6 109.6h0M131.0 113.0h0M131.5 112.0h0M131.9 112.4h0M132.4 111.7h0M132.8 109.1h0M133.3 113.4h0M133.7 114.1h0M134.2 113.0h0M134.6 113.1h0M135.0 110.5h0M135.5 110.7h0M135.9 112.8h0M136.4 112.9h0M136.8 112.0h0M137.3 112.5h0M137.7 112.5h0M138.2 113.8h0M138.6 112.5h0M139.1 112.4h0M139.5 113.0h0M140.0 113.1h0M140.4 112.5h0M140.8 115.1h0M141.3 113.2h0M141.7 112.2h0M142.2 111.6h0M142.6 113.6h0M143.1 112.2h0M143.5 114.8h0M144.0 113.5h0M144.4 111.8h0M144.9 111.2h0M145.3 111.7h0M145.8 112.8h0M146.2 113.0h0M146.6 112.0h0M147.1 113.9h0M147.5 114.1h0M148.0 111.3h0M148.4 115.0h0M148.8 97.9h0M149.3 92.0h0M149.7 97.9h0M150.2 100.9h0M150.6 103.1h0M151.1 99.9h0M151.5 84.9h0M152.0 99.8h0M152.4 100.9h0M152.9 99.9h0M154.2 91.3h0M154.6 101.8h0M155.1 97.7h0M155.5 96.2h0M156.0 95.5h0M156.9 93.9h0M157.3 97.6h0M157.8 102.0h0M158.2 102.9h0M159.1 101.0h0M160.5 91.2h0M160.9 100.5h0M161.3 96.7h0M162.2 92.6h0M163.1 93.3h0M164.5 88.3h0M164.9 99.0h0M165.4 94.3h0M165.8 98.7h0M166.3 96.3h0M166.7 94.9h0M167.2 94.7h0M167.6 93.5h0M168.0 93.1h0M169.4 94.2h0M169.8 102.5h0M170.3 98.2h0M170.7 94.3h0M171.2 94.1h0M171.6 99.9h0M172.5 95.2h0M173.0 91.0h0M173.4 90.1h0M173.9 92.8h0M174.3 90.7h0M174.7 90.3h0M175.2 93.0h0M175.6 88.0h0M176.1 92.8h0M176.5 92.3h0M177.0 90.5h0M177.4 89.8h0M177.9 92.3h0M178.3 96.0h0M178.8 92.6h0M179.2 89.1h0M179.7 93.1h0M180.6 59.5h0M181.0 103.6h0M181.4 59.2h0M182.3 88.1h0M183.2 84.4h0M183.7 88.9h0M184.1 94.1h0M184.6 81.2h0M185.0 82.0h0M185.5 90.3h0M185.9 95.8h0M186.8 88.7h0M187.3 92.5h0M187.7 84.2h0M188.6 92.9h0M189.0 90.6h0M189.9 38.1h0M190.4 90.8h0M191.3 89.9h0M191.7 85.6h0M192.2 91.7h0M192.6 51.4h0M193.1 88.6h0M193.5 83.4h0M194.0 46.0h0M194.4 91.3h0M194.8 92.6h0M195.3 87.4h0M195.7 88.8h0M196.2 84.7h0M196.6 86.8h0M197.1 92.5h0M198.0 85.6h0M198.4 87.8h0M199.3 85.9h0M199.8 90.2h0M200.2 85.7h0M200.7 90.9h0M201.1 48.0h0M201.5 88.8h0M202.0 94.3h0M202.4 61.4h0M202.9 84.3h0M203.3 88.3h0M203.8 84.1h0M204.2 89.2h0M204.7 82.1h0M205.1 99.5h0M206.0 89.2h0M206.5 93.5h0M206.9 28.1h0M208.2 82.2h0M208.7 107.6h0M209.1 90.1h0M209.6 85.0h0M210.0 92.0h0M210.5 104.8h0M210.9 89.3h0M211.4 103.6h0M212.3 91.9h0M212.7 90.0h0M213.2 92.9h0M213.6 96.8h0M214.0 92.3h0M214.5 96.1h0M214.9 95.0h0M215.8 94.8h0M216.3 90.1h0M217.2 93.3h0M218.5 91.9h0M219.0 94.9h0M219.4 104.3h0M219.9 98.4h0M220.3 93.6h0M220.7 92.1h0M221.2 88.1h0M221.6 96.7h0M222.1 97.2h0M223.0 102.7h0M223.4 96.0h0M223.9 96.4h0M224.3 95.0h0M224.8 99.7h0M225.2 100.7h0M225.7 87.0h0M226.1 99.2h0M227.0 99.3h0M227.4 94.5h0M228.3 97.2h0M228.8 97.4h0M229.2 96.2h0M231.5 95.6h0M232.4 95.2h0M232.8 101.2h0M233.3 100.5h0M233.7 106.7h0M234.1 95.1h0M235.0 89.7h0M235.5 100.4h0M235.9 89.7h0M236.4 99.1h0M237.3 97.4h0M238.2 101.3h0M238.6 98.3h0M239.1 109.9h0M239.5 96.8h0M240.0 90.1h0M240.8 104.5h0M241.3 109.6h0M241.7 100.5h0M242.2 41.4h0M242.6 101.3h0M243.1 103.1h0M243.5 29.2h0M244.0 41.3h0M245.8 109.4h0M246.7 93.4h0M247.1 101.1h0M248.4 97.4h0M248.9 100.7h0M249.3 99.4h0M249.8 99.3h0M250.2 102.7h0M250.7 97.7h0M251.1 99.0h0M251.6 102.2h0M252.0 105.0h0M252.9 98.4h0M253.4 99.9h0M254.2 101.9h0M254.7 37.0h0M255.1 36.8h0M255.6 98.3h0M256.0 94.0h0M256.5 104.0h0M256.9 100.8h0M257.4 94.7h0M257.8 98.2h0M258.7 99.9h0M259.6 96.0h0M260.1 99.9h0M260.5 99.4h0M261.4 84.7h0M261.8 93.0h0M262.3 92.5h0M262.7 99.9h0M263.2 93.5h0M263.6 94.0h0M264.1 92.0h0M264.5 87.7h0M265.0 79.3h0M265.4 85.0h0M265.9 90.8h0M266.3 85.6h0M266.8 85.8h0M267.2 84.7h0M267.6 73.1h0M268.1 74.9h0"/>
<path stroke="#000000" d="M26.6 106.1h0M27.0 105.9h0M27.5 105.5h0M27.9 106.4h0M28.4 105.4h0M28.8 106.1h0M29.3 106.4h0M29.7 103.3h0M30.2 106.3h0M30.6 104.8h0M31.1 107.0h0M31.5 104.7h0M32.0 105.0h0M32.4 106.6h0M32.8 106.0h0M33.3 106.3h0M33.7 105.6h0M34.2 106.6h0M34.6 106.2h0M35.1 104.5h0M35.5 105.6h0M36.0 104.8h0M36.4 79.5h0M36.9 104.5h0M37.3 105.5h0M37.8 106.4h0M38.2 107.3h0M38.6 105.1h0M39.1 105.0h0M39.5 106.1h0M40.0 105.6h0M40.4 106.8h0M40.9 104.0h0M41.3 104.2h0M41.8 106.0h0M42.2 105.0h0M42.7 105.9h0M43.1 106.2h0M43.6 106.0h0M44.0 105.6h0M44.5 106.3h0M44.9 105.3h0M45.3 105.5h0M45.8 106.4h0M46.2 105.8h0M46.7 106.5h0M47.1 104.9h0M47.6 105.8h0M48.0 106.6h0M48.5 105.0h0M48.9 105.8h0M49.4 106.5h0M49.8 106.7h0M50.3 105.6h0M50.7 106.4h0M51.1 105.0h0M51.6 105.6h0M52.0 105.2h0M52.5 105.1h0M52.9 105.4h0M53.4 104.9h0M53.8 105.3h0M54.3 105.4h0M54.7 108.0h0M55.2 106.9h0M55.6 106.4h0M56.1 105.0h0M56.5 106.8h0M56.9 104.7h0M57.4 105.0h0M57.8 105.0h0M58.3 105.5h0M58.7 105.1h0M59.2 104.8h0M59.6 106.3h0M60.1 104.9h0M60.5 106.9h0M61.0 105.5h0M61.4 104.0h0M61.9 106.0h0M62.3 106.5h0M62.7 105.7h0M63.2 106.2h0M63.6 107.3h0M64.1 104.7h0M64.5 105.8h0M65.0 104.7h0M65.4 105.6h0M65.9 105.9h0M66.3 105.9h0M66.8 105.9h0M67.2 105.6h0M67.7 105.5h0M68.1 107.0h0M68.5 105.8h0M69.0 105.3h0M69.4 105.8h0M69.9 103.7h0M70.3 105.6h0M70.8 106.2h0M71.2 105.1h0M71.7 104.7h0M72.1 105.5h0M72.6 104.3h0M73.0 105.5h0M73.5 105.4h0M73.9 106.6h0M74.4 106.2h0M74.8 105.9h0M75.2 105.4h0M75.7 105.3h0M76.1 105.2h0M76.6 105.7h0M77.0 107.6h0M77.5 106.0h0M77.9 105.0h0M78.4 105.0h0M78.8 105.1h0M79.3 105.5h0M79.7 106.6h0M80.2 104.5h0M80.6 104.5h0M81.0 106.8h0M81.5 105.7h0M81.9 105.4h0M82.4 105.4h0M82.8 104.7h0M83.3 105.7h0M83.7 105.6h0M84.2 106.2h0M84.6 105.5h0M85.1 105.5h0M85.5 105.5h0M86.0 105.7h0M86.4 105.5h0M86.8 106.2h0M87.3 105.4h0M87.7 105.9h0M88.2 106.9h0M88.6 106.1h0M89.1 105.8h0M89.5 106.6h0M90.0 105.3h0M90.4 105.5h0M90.9 106.2h0M91.3 105.6h0M91.8 106.4h0M92.2 106.4h0M92.6 105.7h0M93.1 106.5h0M93.5 106.2h0M94.0 106.2h0M94.4 105.9h0M94.9 107.3h0M95.3 106.6h0M95.8 106.5h0M96.2 105.5h0M96.7 105.2h0M97.1 105.6h0M97.6 106.7h0M98.0 105.1h0M98.5 105.3h0M98.9 107.5h0M99.3 105.8h0M99.8 106.3h0M100.2 107.4h0M100.7 108.1h0M101.1 107.0h0M101.6 106.6h0M102.0 105.4h0M102.5 105.6h0M102.9 105.0h0M103.4 106.9h0M103.8 105.5h0M104.3 107.4h0M104.7 106.3h0M105.1 106.4h0M105.6 105.8h0M106.0 107.2h0M106.5 107.8h0M106.9 105.6h0M107.4 105.5h0M107.8 106.7h0M108.3 107.1h0M108.7 107.2h0M109.2 105.6h0M109.6 106.5h0M110.1 107.1h0M110.5 105.8h0M110.9 107.4h0M111.4 106.8h0M111.8 107.2h0M112.3 106.4h0M112.7 105.2h0M113.2 105.1h0M113.6 107.4h0M114.1 106.4h0M114.5 106.4h0M115.0 107.3h0M115.4 106.4h0M115.9 107.6h0M116.3 107.0h0M116.7 107.2h0M117.2 107.4h0M117.6 105.4h0M118.1 106.2h0M118.5 105.7h0M119.0 105.4h0M119.4 108.5h0M119.9 106.4h0M120.3 106.3h0M120.8 107.3h0M121.2 107.7h0M121.7 104.9h0M122.1 105.7h0M122.5 107.8h0M123.0 105.1h0M123.4 107.4h0M123.9 106.8h0M124.3 107.8h0M124.8 105.0h0M125.2 105.7h0M125.7 107.4h0M126.1 106.4h0M126.6 106.7h0M127.0 106.0h0M127.5 106.8h0M127.9 107.0h0M128.4 105.7h0M128.8 107.3h0M129.2 106.3h0M129.7 105.9h0M130.1 104.5h0M130.6 106.0h0M131.0 106.2h0M131.5 108.7h0M131.9 107.0h0M132.4 107.1h0M132.8 106.3h0M133.3 107.2h0M133.7 107.9h0M134.2 105.7h0M134.6 106.9h0M135.0 105.7h0M135.5 105.8h0M135.9 107.4h0M136.4 106.9h0M136.8 106.0h0M137.3 105.1h0M137.7 106.0h0M138.2 106.4h0M138.6 107.8h0M139.1 107.9h0M139.5 107.6h0M140.0 106.0h0M140.4 106.9h0M140.8 106.7h0M141.3 106.6h0M141.7 106.2h0M142.2 106.6h0M142.6 106.3h0M143.1 107.5h0M143.5 105.9h0M144.0 105.6h0M144.4 105.3h0M144.9 105.2h0M145.3 106.9h0M145.8 106.4h0M146.2 105.6h0M146.6 105.6h0M147.1 106.9h0M147.5 105.8h0M148.0 105.5h0M148.4 106.5h0M148.8 95.0h0M149.3 92.4h0M149.7 104.6h0M150.2 93.7h0M150.6 98.8h0M151.1 88.0h0M151.5 89.5h0M152.4 95.3h0M152.9 92.8h0M153.3 92.3h0M153.8 93.3h0M154.6 90.9h0M156.0 95.6h0M156.4 89.9h0M156.9 95.7h0M157.3 96.5h0M157.8 93.2h0M158.2 107.0h0M158.7 93.7h0M159.1 90.9h0M159.6 85.7h0M160.0 85.9h0M161.3 98.0h0M161.8 89.6h0M162.2 93.2h0M163.1 87.4h0M164.0 88.3h0M164.5 89.1h0M164.9 87.3h0M165.4 88.6h0M165.8 85.1h0M166.3 86.1h0M167.6 90.5h0M168.0 91.9h0M168.5 84.9h0M169.4 86.3h0M169.8 46.5h0M170.3 83.8h0M170.7 89.2h0M172.1 91.6h0M172.5 88.2h0M173.0 87.5h0M173.4 79.3h0M173.9 83.4h0M174.3 86.5h0M174.7 83.6h0M175.6 85.1h0M176.1 81.7h0M176.5 81.9h0M177.4 85.7h0M177.9 78.8h0M178.3 86.6h0M180.1 89.0h0M180.6 77.3h0M181.4 77.8h0M181.9 81.3h0M182.3 73.8h0M182.8 80.4h0M183.2 80.1h0M183.7 74.9h0M184.6 78.2h0M185.0 76.7h0M185.5 80.1h0M185.9 77.2h0M186.4 77.9h0M186.8 71.5h0M187.3 77.6h0M187.7 77.3h0M188.1 70.5h0M189.0 74.0h0M189.5 70.8h0M189.9 72.4h0M190.4 73.8h0M190.8 70.1h0M191.7 68.0h0M192.2 70.3h0M192.6 72.6h0M194.8 70.6h0M195.3 73.3h0M196.2 68.8h0M196.6 91.0h0M197.1 78.7h0M197.5 70.0h0M198.0 74.8h0M198.4 75.8h0M198.9 71.3h0M199.3 78.3h0M199.8 74.7h0M200.7 61.7h0M201.5 74.2h0M202.0 68.3h0M202.4 68.8h0M204.2 84.9h0M204.7 81.3h0M205.1 77.9h0M205.6 81.0h0M206.0 85.7h0M206.9 77.5h0M207.3 83.0h0M207.8 72.5h0M208.2 78.4h0M208.7 79.7h0M209.6 86.9h0M210.0 84.3h0M210.5 76.6h0M210.9 80.7h0M211.8 91.4h0M212.3 86.8h0M213.2 79.7h0M214.0 87.3h0M215.4 80.2h0M215.8 96.9h0M216.3 88.6h0M216.7 95.1h0M217.2 85.2h0M218.1 94.5h0M218.5 84.4h0M219.0 90.7h0M219.4 95.5h0M219.9 100.7h0M220.3 93.6h0M220.7 92.1h0M221.2 98.2h0M221.6 74.8h0M222.1 95.0h0M222.5 87.9h0M223.4 97.9h0M223.9 101.8h0M224.3 94.0h0M224.8 93.3h0M225.7 88.1h0M226.6 90.2h0M227.0 98.5h0M227.4 94.0h0M227.9 90.7h0M228.3 109.8h0M228.8 97.7h0M229.2 96.9h0M229.7 86.7h0M230.1 100.8h0M230.6 102.9h0M231.0 86.4h0M231.5 97.6h0M232.4 98.1h0M232.8 94.7h0M233.3 94.1h0M233.7 94.8h0M234.1 93.2h0M234.6 99.5h0M235.0 85.5h0M235.9 96.9h0M237.3 98.7h0M237.7 98.5h0M238.6 89.5h0M239.1 104.6h0M239.5 96.0h0M240.0 101.1h0M240.4 97.8h0M240.8 102.1h0M241.3 101.0h0M241.7 95.9h0M242.2 101.8h0M242.6 96.1h0M243.1 95.6h0M243.5 87.8h0M244.4 98.5h0M244.9 61.2h0M245.3 97.7h0M245.8 96.2h0M246.2 96.0h0M246.7 91.2h0M247.1 92.6h0M247.5 101.7h0M248.4 96.5h0M249.3 99.3h0M249.8 97.5h0M250.2 95.2h0M251.1 109.9h0M251.6 89.4h0M252.0 101.2h0M253.4 96.9h0M253.8 101.0h0M254.7 92.9h0M255.1 94.6h0M255.6 95.1h0M256.9 93.9h0M257.8 73.7h0M258.3 84.6h0M258.7 92.6h0M263.2 80.6h0M263.6 71.4h0M264.1 79.5h0M264.5 65.5h0M265.0 78.1h0M265.4 70.6h0M266.3 64.6h0M266.8 57.9h0"/>
</g>
<rect x="26.6" y="7.0" width="241.9" height="162.2" fill="none" stroke="#5a5a5a" stroke-width="0.9"/>
<path d="M26.60,169.2v-2.8M26.60,7.0v2.8M40.18,169.2v-2.8M40.18,7.0v2.8M53.76,169.2v-2.8M53.76,7.0v2.8M67.35,169.2v-2.8M67.35,7.0v2.8M80.93,169.2v-2.8M80.93,7.0v2.8M94.51,169.2v-2.8M94.51,7.0v2.8M108.09,169.2v-2.8M108.09,7.0v2.8M121.68,169.2v-2.8M121.68,7.0v2.8M135.26,169.2v-2.8M135.26,7.0v2.8M148.84,169.2v-2.8M148.84,7.0v2.8M162.42,169.2v-2.8M162.42,7.0v2.8M176.00,169.2v-2.8M176.00,7.0v2.8M189.59,169.2v-2.8M189.59,7.0v2.8M203.17,169.2v-2.8M203.17,7.0v2.8M216.75,169.2v-2.8M216.75,7.0v2.8M230.33,169.2v-2.8M230.33,7.0v2.8M243.92,169.2v-2.8M243.92,7.0v2.8M257.50,169.2v-2.8M257.50,7.0v2.8M26.6,7.00h2.8M268.5,7.00h-2.8M26.6,27.28h2.8M268.5,27.28h-2.8M26.6,47.55h2.8M268.5,47.55h-2.8M26.6,67.82h2.8M268.5,67.82h-2.8M26.6,88.10h2.8M268.5,88.10h-2.8M26.6,108.38h2.8M268.5,108.38h-2.8M26.6,128.65h2.8M268.5,128.65h-2.8M26.6,148.92h2.8M268.5,148.92h-2.8M26.6,169.20h2.8M268.5,169.20h-2.8" stroke="#5a5a5a" stroke-width="0.9" fill="none"/>
<g font-size="9.5" font-weight="bold" fill="#000"><text x="23.6" y="10.7" text-anchor="end">6</text><text x="23.6" y="31.0" text-anchor="end">5</text><text x="23.6" y="51.2" text-anchor="end">4</text><text x="23.6" y="71.5" text-anchor="end">3</text><text x="23.6" y="91.8" text-anchor="end">2</text><text x="23.6" y="112.1" text-anchor="end">1</text><text x="23.6" y="132.3" text-anchor="end">0</text><text x="23.6" y="152.6" text-anchor="end">−1</text><text x="23.6" y="172.9" text-anchor="end">−2</text><text x="26.6" y="181.9" text-anchor="middle">1</text><text x="40.2" y="181.9" text-anchor="middle">2</text><text x="53.8" y="181.9" text-anchor="middle">3</text><text x="67.3" y="181.9" text-anchor="middle">4</text><text x="80.9" y="181.9" text-anchor="middle">5</text><text x="94.5" y="181.9" text-anchor="middle">6</text><text x="108.1" y="181.9" text-anchor="middle">7</text><text x="121.7" y="181.9" text-anchor="middle">8</text><text x="135.3" y="181.9" text-anchor="middle">9</text><text x="148.8" y="181.9" text-anchor="middle">1</text><text x="162.4" y="181.9" text-anchor="middle">2</text><text x="176.0" y="181.9" text-anchor="middle">3</text><text x="189.6" y="181.9" text-anchor="middle">4</text><text x="203.2" y="181.9" text-anchor="middle">5</text><text x="216.8" y="181.9" text-anchor="middle">6</text><text x="230.3" y="181.9" text-anchor="middle">7</text><text x="243.9" y="181.9" text-anchor="middle">8</text><text x="257.5" y="181.9" text-anchor="middle">9</text></g>
<text x="151.3" y="190.8" text-anchor="middle" font-size="9.6" font-weight="bold">month</text>
<text x="304.1" y="165.2" font-size="10.8">2020</text>
<text x="426.9" y="165.2" font-size="10.8">2022</text>
<line x1="424.5" y1="7.0" x2="424.5" y2="169.2" stroke="#ff3040" stroke-opacity="0.7" stroke-width="1" stroke-dasharray="4,2.6"/>
<clipPath id="c2"><rect x="301.9" y="7.0" width="242.7" height="162.2"/></clipPath>
<g clip-path="url(#c2)" fill="none" stroke-linecap="round" stroke-width="3.3">
<path stroke="#ff0000" d="M301.9 136.5h0M302.3 137.3h0M302.8 139.1h0M303.2 139.2h0M303.7 139.1h0M304.1 140.1h0M304.6 137.6h0M305.0 139.5h0M305.5 139.4h0M305.9 138.9h0M306.4 139.5h0M306.8 137.7h0M307.3 138.2h0M307.7 139.1h0M308.2 138.9h0M308.6 139.2h0M309.1 139.0h0M309.5 139.1h0M310.0 138.8h0M310.4 138.3h0M310.9 137.1h0M311.3 138.6h0M311.8 138.6h0M312.2 139.0h0M312.6 138.1h0M313.1 139.0h0M313.5 139.6h0M314.0 140.3h0M314.4 137.4h0M314.9 140.2h0M315.3 138.2h0M315.8 140.6h0M316.2 137.4h0M316.7 138.3h0M317.1 137.4h0M317.6 138.2h0M318.0 139.4h0M318.5 136.6h0M318.9 139.7h0M319.4 139.0h0M319.8 139.3h0M320.3 139.3h0M320.7 137.6h0M321.2 137.2h0M321.6 137.9h0M322.0 137.7h0M322.5 139.1h0M322.9 139.4h0M323.4 141.6h0M323.8 139.9h0M324.3 137.0h0M324.7 138.7h0M325.2 138.8h0M325.6 137.3h0M326.1 140.0h0M326.5 139.1h0M327.0 137.4h0M327.4 138.8h0M327.9 138.7h0M328.3 138.9h0M328.8 138.1h0M329.2 138.0h0M329.7 137.6h0M330.1 139.8h0M330.6 139.2h0M331.0 138.8h0M331.5 138.9h0M331.9 139.8h0M332.3 137.8h0M332.8 138.0h0M333.2 137.2h0M333.7 138.4h0M334.1 137.2h0M334.6 139.4h0M335.0 137.9h0M335.5 138.5h0M335.9 137.4h0M336.4 139.8h0M336.8 138.6h0M337.3 140.6h0M337.7 137.6h0M338.2 138.0h0M338.6 137.9h0M339.1 140.6h0M339.5 137.7h0M340.0 137.7h0M340.4 137.9h0M340.9 136.4h0M341.3 138.7h0M341.7 138.9h0M342.2 137.3h0M342.6 139.9h0M343.1 138.2h0M343.5 140.2h0M344.0 138.9h0M344.4 138.2h0M344.9 138.7h0M345.3 136.9h0M345.8 137.0h0M346.2 140.0h0M346.7 139.1h0M347.1 137.3h0M347.6 138.3h0M348.0 136.9h0M348.5 140.4h0M348.9 138.6h0M349.4 139.4h0M349.8 139.0h0M350.3 137.9h0M350.7 138.8h0M351.2 139.2h0M351.6 138.8h0M352.0 138.8h0M352.5 138.6h0M352.9 139.2h0M353.4 137.8h0M353.8 138.7h0M354.3 138.8h0M354.7 137.7h0M355.2 138.0h0M355.6 138.6h0M356.1 138.9h0M356.5 140.8h0M357.0 137.8h0M357.4 138.8h0M357.9 138.9h0M358.3 136.9h0M358.8 136.9h0M359.2 138.1h0M359.7 138.7h0M360.1 139.5h0M360.6 136.4h0M361.0 139.2h0M361.5 138.1h0M361.9 139.6h0M362.3 137.8h0M362.8 138.4h0M363.2 137.3h0M363.7 138.2h0M364.1 138.4h0M364.6 137.1h0M365.0 138.1h0M365.5 139.2h0M365.9 139.9h0M366.4 137.8h0M366.8 139.8h0M367.3 138.5h0M367.7 137.7h0M368.2 138.5h0M368.6 136.7h0M369.1 140.0h0M369.5 137.9h0M370.0 139.4h0M370.4 139.7h0M370.9 138.9h0M371.3 136.6h0M371.7 136.2h0M372.2 138.4h0M372.6 138.1h0M373.1 138.5h0M373.5 139.4h0M374.0 137.1h0M374.4 138.2h0M374.9 137.4h0M375.3 138.5h0M375.8 138.8h0M376.2 138.7h0M376.7 138.5h0M377.1 136.2h0M377.6 136.8h0M378.0 138.4h0M378.5 138.4h0M378.9 140.6h0M379.4 137.4h0M379.8 138.7h0M380.3 137.5h0M380.7 137.4h0M381.2 138.2h0M381.6 138.7h0M382.0 134.5h0M382.5 139.2h0M382.9 136.8h0M383.4 137.4h0M383.8 139.6h0M384.3 138.8h0M384.7 138.0h0M385.2 138.2h0M385.6 138.9h0M386.1 140.0h0M386.5 139.1h0M387.0 139.4h0M387.4 138.0h0M387.9 137.7h0M388.3 138.2h0M388.8 137.0h0M389.2 137.6h0M389.7 137.7h0M390.1 137.9h0M390.6 139.0h0M391.0 136.5h0M391.5 138.8h0M391.9 137.0h0M392.3 139.5h0M392.8 138.5h0M393.2 137.8h0M393.7 137.2h0M394.1 135.6h0M394.6 139.0h0M395.0 138.4h0M395.5 137.7h0M395.9 138.6h0M396.4 137.0h0M396.8 138.1h0M397.3 137.1h0M397.7 138.6h0M398.2 138.5h0M398.6 138.8h0M399.1 138.2h0M399.5 136.9h0M400.0 137.0h0M400.4 138.5h0M400.9 139.3h0M401.3 138.2h0M401.7 136.2h0M402.2 135.9h0M402.6 137.1h0M403.1 137.1h0M403.5 138.1h0M404.0 137.7h0M404.4 138.0h0M404.9 136.1h0M405.3 138.5h0M405.8 138.0h0M406.2 137.3h0M406.7 139.6h0M407.1 138.2h0M407.6 138.9h0M408.0 137.7h0M408.5 139.9h0M408.9 137.3h0M409.4 138.9h0M409.8 138.4h0M410.3 138.1h0M410.7 137.2h0M411.2 137.4h0M411.6 138.5h0M412.0 137.4h0M412.5 137.9h0M412.9 137.2h0M413.4 137.6h0M413.8 136.7h0M414.3 140.1h0M414.7 137.0h0M415.2 138.8h0M415.6 136.1h0M416.1 138.4h0M416.5 137.0h0M417.0 137.7h0M417.4 138.7h0M417.9 138.2h0M418.3 138.2h0M418.8 138.7h0M419.2 139.6h0M419.7 139.7h0M420.1 137.7h0M420.6 138.8h0M421.0 138.6h0M421.4 138.4h0M421.9 138.3h0M422.3 137.4h0M422.8 137.2h0M423.2 137.8h0M423.7 137.7h0M424.1 137.8h0M424.5 149.5h0M425.0 142.1h0M425.9 144.9h0M426.3 147.1h0M426.8 146.0h0M427.2 142.7h0M427.7 147.0h0M429.5 148.3h0M429.9 152.6h0M430.8 145.4h0M431.7 147.6h0M432.6 141.2h0M433.1 148.1h0M433.5 144.1h0M435.3 144.0h0M436.6 149.2h0M437.1 146.8h0M438.0 155.0h0M438.9 141.8h0M439.3 146.7h0M440.2 138.7h0M441.1 147.2h0M441.6 139.2h0M442.0 141.2h0M442.9 142.4h0M443.4 142.0h0M443.8 145.3h0M444.7 150.6h0M445.2 148.2h0M445.6 166.3h0M446.1 143.4h0M446.5 167.0h0M447.0 143.7h0M447.4 140.4h0M449.6 151.9h0M450.1 154.6h0M450.5 146.2h0M451.0 144.0h0M451.4 144.6h0M451.9 145.7h0M452.3 146.3h0M452.8 142.2h0M453.2 143.5h0M454.1 142.4h0M455.0 145.5h0M455.5 145.5h0M456.8 146.3h0M457.7 144.2h0M458.2 146.2h0M458.6 136.6h0M459.0 142.3h0M459.5 142.4h0M459.9 143.7h0M460.4 143.8h0M461.3 144.4h0M461.7 142.8h0M462.6 139.5h0M463.1 142.6h0M463.5 158.4h0M464.0 142.4h0M464.9 142.4h0M465.8 155.1h0M466.2 146.8h0M466.7 138.4h0M467.1 145.3h0M467.6 145.8h0M468.5 149.4h0M468.9 148.1h0M469.4 140.2h0M469.8 162.4h0M470.3 158.4h0M471.1 142.4h0M471.6 145.4h0M472.0 148.0h0M472.5 151.5h0M472.9 148.9h0M473.4 144.4h0M473.8 144.7h0M474.3 157.9h0M474.7 142.8h0M475.6 146.6h0M476.1 147.2h0M476.5 148.5h0M477.0 145.4h0M477.4 148.0h0M477.9 141.6h0M478.3 147.8h0M478.8 146.1h0M479.2 139.8h0M479.7 142.1h0M480.1 147.0h0M481.9 157.9h0M482.4 144.6h0M483.2 147.1h0M483.7 144.6h0M485.9 146.5h0M487.3 139.7h0M487.7 142.6h0M488.2 143.5h0M488.6 149.0h0M489.5 147.0h0M490.0 141.0h0M490.4 144.5h0M490.9 141.3h0M491.3 141.4h0M491.8 146.5h0M492.7 143.1h0M493.1 142.2h0M493.6 145.1h0M494.9 146.0h0M495.3 145.6h0M495.8 150.3h0M496.2 144.8h0M496.7 145.6h0M497.1 141.0h0M497.6 143.5h0M498.0 149.1h0M498.5 145.6h0M498.9 144.6h0M499.8 143.7h0M500.3 145.7h0M500.7 143.9h0M501.2 146.8h0M502.1 144.9h0M502.5 140.1h0M503.0 143.0h0M503.4 141.2h0M503.9 141.4h0M504.3 144.7h0M505.7 144.1h0M506.5 146.5h0M507.0 141.6h0M507.4 148.0h0M507.9 147.0h0M508.3 145.5h0M508.8 145.0h0M509.2 143.1h0M509.7 149.9h0M510.1 143.9h0M510.6 145.8h0M511.0 141.9h0M511.5 138.3h0M511.9 152.0h0M512.4 144.5h0M512.8 143.4h0M514.2 143.9h0M516.4 144.6h0M516.9 146.3h0M517.3 141.9h0M517.8 146.6h0M518.6 141.6h0M519.1 143.5h0M519.5 147.1h0M520.0 143.4h0M520.4 146.4h0M521.3 141.6h0M521.8 147.5h0M522.2 145.2h0M523.6 139.6h0M524.0 157.0h0M524.5 144.3h0M524.9 144.3h0M525.8 147.3h0M527.2 138.8h0M528.1 146.7h0M529.0 146.9h0M529.4 146.3h0M529.9 145.8h0M530.3 139.8h0M530.7 146.5h0M531.2 142.8h0M531.6 143.5h0M532.1 142.4h0M532.5 148.0h0M533.0 142.6h0M533.4 146.0h0M534.8 144.8h0M536.1 148.0h0M536.6 150.0h0M537.5 145.3h0M537.9 152.0h0M538.4 144.7h0M538.8 146.6h0M539.3 146.2h0M540.6 142.0h0M541.1 147.4h0M541.5 150.4h0M542.4 146.3h0M542.8 140.9h0M544.2 146.0h0"/>
<path stroke="#00ff00" d="M301.9 142.6h0M302.3 141.8h0M302.8 140.2h0M303.2 142.7h0M303.7 141.9h0M304.1 143.0h0M304.6 140.9h0M305.0 141.8h0M305.5 140.5h0M305.9 139.8h0M306.4 144.0h0M306.8 143.6h0M307.3 142.4h0M307.7 141.6h0M308.2 142.5h0M308.6 141.0h0M309.1 141.7h0M309.5 143.1h0M310.0 141.7h0M310.4 142.7h0M310.9 143.0h0M311.3 141.9h0M311.8 142.0h0M312.2 140.9h0M312.6 143.2h0M313.1 143.3h0M313.5 141.0h0M314.0 141.9h0M314.4 141.8h0M314.9 141.9h0M315.3 143.2h0M315.8 142.9h0M316.2 141.3h0M316.7 141.5h0M317.1 141.8h0M317.6 140.8h0M318.0 140.1h0M318.5 141.7h0M318.9 140.9h0M319.4 140.5h0M319.8 141.6h0M320.3 141.7h0M320.7 142.7h0M321.2 140.4h0M321.6 141.1h0M322.0 141.4h0M322.5 142.2h0M322.9 140.5h0M323.4 143.1h0M323.8 140.8h0M324.3 140.4h0M324.7 141.6h0M325.2 142.6h0M325.6 142.6h0M326.1 140.7h0M326.5 141.6h0M327.0 140.7h0M327.4 142.2h0M327.9 142.7h0M328.3 138.6h0M328.8 142.4h0M329.2 140.7h0M329.7 140.3h0M330.1 141.4h0M330.6 141.1h0M331.0 141.0h0M331.5 139.6h0M331.9 141.4h0M332.3 140.8h0M332.8 139.6h0M333.2 142.3h0M333.7 142.5h0M334.1 141.2h0M334.6 141.5h0M335.0 140.3h0M335.5 140.4h0M335.9 141.2h0M336.4 140.5h0M336.8 141.4h0M337.3 138.6h0M337.7 140.0h0M338.2 141.3h0M338.6 138.5h0M339.1 140.9h0M339.5 140.2h0M340.0 142.0h0M340.4 142.2h0M340.9 139.4h0M341.3 141.5h0M341.7 142.1h0M342.2 141.9h0M342.6 140.3h0M343.1 141.6h0M343.5 142.1h0M344.0 143.7h0M344.4 142.0h0M344.9 140.9h0M345.3 141.7h0M345.8 141.8h0M346.2 139.0h0M346.7 140.5h0M347.1 141.7h0M347.6 140.6h0M348.0 142.1h0M348.5 140.5h0M348.9 139.5h0M349.4 141.4h0M349.8 139.8h0M350.3 141.6h0M350.7 142.5h0M351.2 141.4h0M351.6 141.4h0M352.0 140.3h0M352.5 141.0h0M352.9 141.9h0M353.4 141.6h0M353.8 141.2h0M354.3 140.7h0M354.7 142.2h0M355.2 141.8h0M355.6 141.3h0M356.1 142.1h0M356.5 140.1h0M357.0 141.2h0M357.4 142.3h0M357.9 142.0h0M358.3 140.1h0M358.8 141.7h0M359.2 142.2h0M359.7 140.5h0M360.1 140.1h0M360.6 142.9h0M361.0 141.0h0M361.5 139.4h0M361.9 139.0h0M362.3 140.1h0M362.8 140.5h0M363.2 142.4h0M363.7 140.4h0M364.1 141.7h0M364.6 141.5h0M365.0 140.5h0M365.5 141.9h0M365.9 141.6h0M366.4 139.3h0M366.8 140.4h0M367.3 142.8h0M367.7 141.9h0M368.2 142.4h0M368.6 140.9h0M369.1 142.3h0M369.5 141.3h0M370.0 141.1h0M370.4 140.7h0M370.9 141.0h0M371.3 140.9h0M371.7 141.2h0M372.2 142.0h0M372.6 140.2h0M373.1 141.1h0M373.5 141.9h0M374.0 142.5h0M374.4 141.0h0M374.9 140.1h0M375.3 140.9h0M375.8 142.4h0M376.2 141.6h0M376.7 142.2h0M377.1 141.5h0M377.6 140.4h0M378.0 141.0h0M378.5 141.3h0M378.9 141.7h0M379.4 141.6h0M379.8 141.0h0M380.3 143.1h0M380.7 141.6h0M381.2 143.2h0M381.6 140.2h0M382.0 142.3h0M382.5 140.3h0M382.9 142.8h0M383.4 139.5h0M383.8 140.4h0M384.3 141.0h0M384.7 141.5h0M385.2 141.4h0M385.6 141.5h0M386.1 140.2h0M386.5 140.6h0M387.0 140.2h0M387.4 141.6h0M387.9 141.4h0M388.3 142.8h0M388.8 143.0h0M389.2 141.0h0M389.7 141.8h0M390.1 141.0h0M390.6 141.3h0M391.0 141.4h0M391.5 141.2h0M391.9 143.2h0M392.3 141.4h0M392.8 140.9h0M393.2 141.2h0M393.7 140.9h0M394.1 143.2h0M394.6 140.4h0M395.0 140.6h0M395.5 140.6h0M395.9 140.9h0M396.4 140.6h0M396.8 140.2h0M397.3 141.5h0M397.7 141.2h0M398.2 140.6h0M398.6 142.4h0M399.1 140.5h0M399.5 141.8h0M400.0 141.6h0M400.4 141.8h0M400.9 140.8h0M401.3 142.3h0M401.7 139.8h0M402.2 141.6h0M402.6 141.8h0M403.1 139.6h0M403.5 141.1h0M404.0 142.6h0M404.4 141.0h0M404.9 140.2h0M405.3 139.6h0M405.8 140.1h0M406.2 141.0h0M406.7 138.5h0M407.1 141.1h0M407.6 142.6h0M408.0 139.0h0M408.5 139.6h0M408.9 140.0h0M409.4 138.6h0M409.8 140.0h0M410.3 140.9h0M410.7 140.5h0M411.2 141.7h0M411.6 140.4h0M412.0 141.7h0M412.5 141.8h0M412.9 142.4h0M413.4 140.9h0M413.8 140.3h0M414.3 141.4h0M414.7 142.6h0M415.2 141.9h0M415.6 141.1h0M416.1 141.2h0M416.5 141.5h0M417.0 142.1h0M417.4 139.3h0M417.9 140.8h0M418.3 140.6h0M418.8 140.8h0M419.2 142.0h0M419.7 139.6h0M420.1 141.4h0M420.6 141.1h0M421.0 141.5h0M421.4 142.1h0M421.9 140.8h0M422.3 141.8h0M422.8 140.9h0M423.2 140.6h0M423.7 139.2h0M424.1 142.3h0M424.5 138.5h0M425.0 140.1h0M425.4 133.0h0M425.9 141.6h0M426.3 138.7h0M426.8 138.3h0M427.2 139.7h0M427.7 145.4h0M428.1 141.2h0M429.9 139.9h0M430.4 138.1h0M431.3 140.7h0M432.2 138.2h0M432.6 141.4h0M433.1 140.7h0M433.5 141.0h0M435.7 138.8h0M436.2 131.6h0M436.6 141.5h0M437.5 137.9h0M438.0 139.8h0M438.4 140.6h0M438.9 131.6h0M439.3 140.7h0M440.2 139.4h0M440.7 139.6h0M441.1 139.4h0M441.6 143.3h0M442.0 138.9h0M443.4 131.5h0M443.8 137.2h0M444.7 138.2h0M445.2 140.3h0M446.5 137.5h0M447.0 144.2h0M447.4 140.0h0M448.3 137.1h0M448.7 142.2h0M449.6 139.6h0M450.1 138.2h0M450.5 137.5h0M451.4 136.6h0M451.9 143.4h0M452.3 139.8h0M452.8 142.2h0M453.2 140.8h0M453.7 140.1h0M454.1 142.0h0M454.6 142.5h0M455.0 141.3h0M455.9 137.2h0M456.4 142.5h0M457.3 142.1h0M457.7 140.0h0M458.6 136.6h0M459.0 138.9h0M459.5 142.2h0M459.9 137.1h0M460.4 140.5h0M460.8 138.6h0M461.3 140.4h0M462.2 136.4h0M462.6 139.3h0M463.5 142.0h0M464.4 139.1h0M464.9 142.3h0M465.3 146.1h0M465.8 138.8h0M466.2 138.8h0M466.7 138.0h0M467.1 138.1h0M467.6 141.2h0M468.5 142.5h0M468.9 138.7h0M470.3 138.6h0M471.1 141.1h0M471.6 147.4h0M472.0 140.5h0M472.5 137.5h0M472.9 142.6h0M473.4 138.7h0M473.8 139.8h0M474.3 140.3h0M475.2 141.9h0M475.6 136.8h0M476.1 139.9h0M476.5 141.4h0M477.0 141.8h0M477.4 136.7h0M477.9 139.9h0M478.3 140.2h0M478.8 138.2h0M479.7 140.6h0M480.1 137.7h0M480.6 137.3h0M481.0 140.4h0M481.5 141.0h0M481.9 139.9h0M482.4 134.2h0M483.2 146.2h0M483.7 140.6h0M484.1 133.1h0M484.6 139.7h0M485.0 138.6h0M485.5 135.8h0M487.7 140.0h0M488.2 138.0h0M489.5 140.6h0M490.0 141.2h0M490.4 144.9h0M490.9 141.0h0M491.3 140.0h0M492.7 138.0h0M493.1 139.5h0M493.6 139.1h0M494.5 143.3h0M494.9 139.9h0M495.3 141.0h0M497.1 138.0h0M498.9 139.2h0M499.8 140.1h0M500.3 138.2h0M501.2 137.8h0M501.6 139.6h0M502.5 141.0h0M503.0 137.6h0M503.9 137.9h0M504.3 141.6h0M504.8 139.3h0M505.2 139.0h0M506.1 139.7h0M507.0 140.0h0M507.4 140.5h0M507.9 139.1h0M509.2 140.2h0M510.1 137.1h0M511.9 147.1h0M512.4 138.7h0M513.3 140.8h0M513.7 138.2h0M514.6 139.3h0M515.1 136.5h0M516.4 137.2h0M517.3 139.7h0M517.8 135.6h0M518.2 139.3h0M518.6 140.4h0M519.1 139.4h0M519.5 138.6h0M520.0 138.4h0M520.4 140.2h0M520.9 137.5h0M521.3 143.1h0M522.2 143.7h0M522.7 139.4h0M523.1 139.7h0M523.6 140.1h0M524.0 138.7h0M524.5 137.5h0M524.9 137.1h0M525.4 137.3h0M526.3 137.6h0M526.7 138.3h0M527.6 137.4h0M528.1 140.1h0M528.5 137.2h0M529.0 141.0h0M529.4 140.9h0M529.9 139.0h0M530.3 137.5h0M531.2 139.3h0M531.6 132.9h0M532.1 139.4h0M532.5 139.0h0M533.4 139.6h0M533.9 135.7h0M534.8 140.2h0M535.7 137.9h0M536.1 138.4h0M537.0 135.3h0M537.9 139.8h0M538.8 139.2h0M539.7 139.7h0M540.6 137.9h0M541.5 134.7h0M542.0 124.7h0M543.3 126.7h0M543.7 124.8h0M544.2 123.8h0"/>
<path stroke="#0000ff" d="M301.9 134.4h0M302.3 133.7h0M302.8 133.6h0M303.2 131.7h0M303.7 131.8h0M304.1 133.7h0M304.6 133.4h0M305.0 134.1h0M305.5 132.6h0M305.9 132.5h0M306.4 133.7h0M306.8 132.7h0M307.3 133.6h0M307.7 133.2h0M308.2 133.2h0M308.6 134.1h0M309.1 133.9h0M309.5 133.5h0M310.0 132.0h0M310.4 131.5h0M310.9 133.7h0M311.3 133.2h0M311.8 133.8h0M312.2 133.1h0M312.6 134.4h0M313.1 134.2h0M313.5 133.4h0M314.0 131.6h0M314.4 132.8h0M314.9 133.4h0M315.3 133.2h0M315.8 136.0h0M316.2 134.3h0M316.7 132.1h0M317.1 133.3h0M317.6 134.4h0M318.0 134.5h0M318.5 133.3h0M318.9 133.4h0M319.4 133.2h0M319.8 133.2h0M320.3 134.7h0M320.7 134.4h0M321.2 133.0h0M321.6 134.6h0M322.0 133.1h0M322.5 132.1h0M322.9 131.6h0M323.4 132.7h0M323.8 132.1h0M324.3 134.3h0M324.7 133.3h0M325.2 133.1h0M325.6 133.3h0M326.1 132.7h0M326.5 132.4h0M327.0 133.4h0M327.4 132.5h0M327.9 133.3h0M328.3 135.1h0M328.8 135.6h0M329.2 135.1h0M329.7 135.1h0M330.1 133.0h0M330.6 133.3h0M331.0 131.7h0M331.5 132.9h0M331.9 134.6h0M332.3 133.7h0M332.8 132.7h0M333.2 134.0h0M333.7 132.8h0M334.1 133.7h0M334.6 133.9h0M335.0 133.8h0M335.5 134.2h0M335.9 133.0h0M336.4 134.3h0M336.8 133.4h0M337.3 133.8h0M337.7 133.5h0M338.2 134.0h0M338.6 133.1h0M339.1 135.1h0M339.5 133.3h0M340.0 132.2h0M340.4 132.3h0M340.9 134.8h0M341.3 131.6h0M341.7 133.1h0M342.2 134.1h0M342.6 134.2h0M343.1 134.9h0M343.5 132.5h0M344.0 134.7h0M344.4 133.1h0M344.9 134.6h0M345.3 132.5h0M345.8 133.8h0M346.2 134.5h0M346.7 132.3h0M347.1 131.6h0M347.6 133.2h0M348.0 135.5h0M348.5 133.2h0M348.9 134.3h0M349.4 134.2h0M349.8 135.0h0M350.3 133.6h0M350.7 131.4h0M351.2 132.3h0M351.6 134.3h0M352.0 135.3h0M352.5 132.5h0M352.9 134.2h0M353.4 132.7h0M353.8 132.5h0M354.3 133.1h0M354.7 132.8h0M355.2 132.3h0M355.6 132.6h0M356.1 132.9h0M356.5 132.7h0M357.0 133.1h0M357.4 132.5h0M357.9 133.5h0M358.3 130.3h0M358.8 133.4h0M359.2 134.1h0M359.7 135.3h0M360.1 131.3h0M360.6 133.2h0M361.0 133.1h0M361.5 132.7h0M361.9 133.7h0M362.3 133.1h0M362.8 133.8h0M363.2 134.6h0M363.7 134.7h0M364.1 134.7h0M364.6 133.8h0M365.0 132.5h0M365.5 133.2h0M365.9 132.7h0M366.4 132.1h0M366.8 133.6h0M367.3 134.0h0M367.7 133.7h0M368.2 132.0h0M368.6 134.8h0M369.1 133.5h0M369.5 133.4h0M370.0 132.5h0M370.4 133.8h0M370.9 132.7h0M371.3 132.5h0M371.7 133.8h0M372.2 131.5h0M372.6 133.5h0M373.1 132.8h0M373.5 133.3h0M374.0 134.8h0M374.4 131.9h0M374.9 134.3h0M375.3 133.6h0M375.8 133.5h0M376.2 134.1h0M376.7 132.7h0M377.1 133.6h0M377.6 134.7h0M378.0 132.0h0M378.5 133.2h0M378.9 134.7h0M379.4 133.6h0M379.8 132.2h0M380.3 133.7h0M380.7 132.9h0M381.2 132.7h0M381.6 132.6h0M382.0 134.5h0M382.5 133.6h0M382.9 133.7h0M383.4 132.5h0M383.8 133.2h0M384.3 131.4h0M384.7 134.2h0M385.2 132.6h0M385.6 132.3h0M386.1 133.3h0M386.5 133.3h0M387.0 133.8h0M387.4 135.1h0M387.9 132.7h0M388.3 133.6h0M388.8 133.1h0M389.2 133.0h0M389.7 132.2h0M390.1 132.6h0M390.6 134.0h0M391.0 132.4h0M391.5 131.6h0M391.9 134.0h0M392.3 132.5h0M392.8 134.6h0M393.2 133.4h0M393.7 133.5h0M394.1 131.1h0M394.6 131.1h0M395.0 132.8h0M395.5 134.1h0M395.9 133.6h0M396.4 131.6h0M396.8 133.6h0M397.3 133.1h0M397.7 133.6h0M398.2 133.3h0M398.6 133.7h0M399.1 131.7h0M399.5 133.8h0M400.0 131.6h0M400.4 132.6h0M400.9 133.9h0M401.3 132.3h0M401.7 132.2h0M402.2 133.2h0M402.6 133.8h0M403.1 134.1h0M403.5 132.4h0M404.0 131.6h0M404.4 134.8h0M404.9 132.5h0M405.3 135.3h0M405.8 133.5h0M406.2 132.2h0M406.7 135.4h0M407.1 132.2h0M407.6 133.9h0M408.0 133.7h0M408.5 134.6h0M408.9 132.1h0M409.4 132.7h0M409.8 133.6h0M410.3 134.0h0M410.7 132.5h0M411.2 133.6h0M411.6 133.1h0M412.0 134.1h0M412.5 133.2h0M412.9 131.3h0M413.4 131.9h0M413.8 133.9h0M414.3 133.3h0M414.7 134.2h0M415.2 133.0h0M415.6 134.3h0M416.1 132.6h0M416.5 132.0h0M417.0 133.1h0M417.4 132.1h0M417.9 131.6h0M418.3 132.3h0M418.8 132.4h0M419.2 135.2h0M419.7 132.5h0M420.1 135.6h0M420.6 132.7h0M421.0 133.7h0M421.4 133.5h0M421.9 132.8h0M422.3 132.7h0M422.8 133.0h0M423.2 133.7h0M423.7 135.2h0M424.1 133.8h0M425.0 134.7h0M426.3 135.5h0M426.8 134.0h0M427.2 133.8h0M427.7 133.6h0M428.6 133.8h0M429.0 130.9h0M429.5 128.9h0M429.9 132.4h0M430.4 133.7h0M430.8 134.3h0M431.7 133.7h0M432.2 134.9h0M433.5 131.9h0M434.9 133.3h0M435.3 130.7h0M435.7 135.1h0M436.2 131.8h0M436.6 132.9h0M437.1 132.5h0M438.4 131.4h0M438.9 132.5h0M439.3 127.4h0M439.8 132.7h0M440.2 131.8h0M440.7 132.7h0M441.1 135.2h0M442.0 131.2h0M442.9 131.5h0M443.4 133.0h0M444.3 132.5h0M445.2 137.7h0M445.6 132.5h0M446.1 161.0h0M446.5 132.8h0M447.0 128.7h0M447.4 132.7h0M447.8 132.4h0M448.3 134.3h0M448.7 133.3h0M450.1 131.8h0M451.0 133.4h0M451.4 131.0h0M452.8 133.5h0M453.7 134.5h0M454.1 130.3h0M454.6 128.3h0M455.5 131.0h0M456.4 133.1h0M457.3 134.7h0M457.7 130.2h0M458.2 133.1h0M458.6 132.0h0M459.0 133.9h0M459.5 131.8h0M459.9 131.4h0M460.4 132.3h0M462.2 129.4h0M462.6 134.5h0M463.1 132.3h0M463.5 132.5h0M464.9 135.0h0M465.3 133.2h0M465.8 132.4h0M466.2 162.4h0M466.7 130.8h0M468.0 133.5h0M468.5 132.7h0M468.9 132.3h0M469.8 131.1h0M470.3 131.5h0M470.7 133.1h0M471.6 134.0h0M472.9 132.5h0M473.4 130.2h0M474.7 138.6h0M475.2 133.8h0M475.6 130.9h0M476.1 132.5h0M476.5 133.6h0M477.0 132.0h0M477.9 133.5h0M478.3 132.3h0M478.8 133.2h0M479.7 130.7h0M480.1 131.0h0M480.6 130.8h0M481.0 129.9h0M481.5 135.6h0M482.4 130.8h0M482.8 132.6h0M483.2 129.9h0M483.7 129.7h0M484.1 128.7h0M485.0 130.7h0M485.5 132.4h0M487.3 134.2h0M487.7 129.3h0M488.2 128.7h0M489.1 130.4h0M490.0 130.9h0M490.4 130.9h0M490.9 133.0h0M491.3 134.4h0M492.2 129.4h0M492.7 125.3h0M493.1 132.3h0M493.6 132.3h0M494.0 131.7h0M494.9 130.4h0M495.3 130.1h0M495.8 129.9h0M496.2 130.7h0M496.7 130.0h0M497.1 131.0h0M497.6 129.7h0M498.0 130.4h0M498.5 128.6h0M499.4 129.6h0M500.3 130.0h0M501.6 128.8h0M502.1 130.0h0M504.3 127.2h0M504.8 129.1h0M505.2 132.3h0M506.1 127.2h0M507.0 128.1h0M507.4 129.3h0M507.9 127.8h0M508.3 129.0h0M508.8 131.6h0M509.2 127.6h0M510.1 127.6h0M510.6 128.4h0M511.0 128.8h0M511.5 127.9h0M511.9 128.8h0M512.4 127.3h0M512.8 130.3h0M513.7 126.2h0M514.2 126.8h0M514.6 127.4h0M515.1 127.5h0M515.5 128.3h0M516.4 129.6h0M517.3 129.1h0M517.8 128.0h0M518.2 124.2h0M518.6 128.0h0M519.5 131.3h0M520.0 129.9h0M520.4 127.0h0M521.3 127.4h0M521.8 126.0h0M522.7 128.9h0M523.1 126.5h0M523.6 130.1h0M524.0 127.7h0M524.9 130.2h0M525.4 128.6h0M525.8 126.5h0M526.3 129.3h0M527.2 127.0h0M529.4 127.3h0M529.9 128.7h0M530.3 129.8h0M531.2 124.7h0M532.1 128.8h0M532.5 126.6h0M533.0 126.7h0M533.4 126.0h0M533.9 127.4h0M534.3 128.0h0M535.2 126.6h0M535.7 132.0h0M536.1 128.4h0M537.5 125.3h0M537.9 122.3h0M538.8 125.2h0M539.3 125.8h0M539.7 125.6h0M541.1 127.6h0M541.5 121.0h0M542.0 127.2h0M542.4 123.5h0M542.8 121.5h0M544.2 121.3h0"/>
<path stroke="#00ffff" d="M301.9 148.3h0M302.3 148.4h0M302.8 147.7h0M303.2 148.3h0M303.7 148.0h0M304.1 148.0h0M304.6 149.1h0M305.0 148.3h0M305.5 148.3h0M305.9 147.4h0M306.4 146.5h0M306.8 148.6h0M307.3 148.4h0M307.7 147.6h0M308.2 150.4h0M308.6 149.7h0M309.1 148.5h0M309.5 147.5h0M310.0 147.3h0M310.4 147.1h0M310.9 148.0h0M311.3 148.6h0M311.8 147.3h0M312.2 148.0h0M312.6 150.2h0M313.1 147.2h0M313.5 148.2h0M314.0 147.0h0M314.4 147.3h0M314.9 147.0h0M315.3 145.8h0M315.8 148.9h0M316.2 149.3h0M316.7 146.1h0M317.1 146.6h0M317.6 147.7h0M318.0 148.8h0M318.5 147.1h0M318.9 145.8h0M319.4 146.5h0M319.8 147.4h0M320.3 149.2h0M320.7 146.3h0M321.2 148.1h0M321.6 146.1h0M322.0 146.9h0M322.5 147.3h0M322.9 147.9h0M323.4 148.2h0M323.8 147.9h0M324.3 147.8h0M324.7 145.6h0M325.2 147.6h0M325.6 148.3h0M326.1 149.1h0M326.5 150.4h0M327.0 148.1h0M327.4 149.4h0M327.9 151.0h0M328.3 147.4h0M328.8 150.4h0M329.2 148.1h0M329.7 148.4h0M330.1 148.2h0M330.6 148.7h0M331.0 145.9h0M331.5 147.5h0M331.9 150.6h0M332.3 147.6h0M332.8 149.6h0M333.2 147.2h0M333.7 149.8h0M334.1 148.7h0M334.6 149.6h0M335.0 148.0h0M335.5 146.8h0M335.9 149.3h0M336.4 149.1h0M336.8 148.1h0M337.3 149.7h0M337.7 146.8h0M338.2 150.2h0M338.6 146.0h0M339.1 148.1h0M339.5 148.5h0M340.0 147.5h0M340.4 147.2h0M340.9 148.0h0M341.3 149.5h0M341.7 147.6h0M342.2 146.0h0M342.6 148.8h0M343.1 146.8h0M343.5 147.2h0M344.0 147.3h0M344.4 149.4h0M344.9 146.9h0M345.3 148.5h0M345.8 148.1h0M346.2 145.7h0M346.7 146.2h0M347.1 147.5h0M347.6 146.9h0M348.0 147.9h0M348.5 143.8h0M348.9 147.8h0M349.4 148.0h0M349.8 145.5h0M350.3 148.9h0M350.7 148.9h0M351.2 149.4h0M351.6 145.5h0M352.0 146.4h0M352.5 149.0h0M352.9 146.9h0M353.4 147.6h0M353.8 146.2h0M354.3 149.2h0M354.7 149.3h0M355.2 148.2h0M355.6 148.9h0M356.1 151.0h0M356.5 148.2h0M357.0 148.5h0M357.4 148.1h0M357.9 149.3h0M358.3 147.6h0M358.8 149.0h0M359.2 148.9h0M359.7 147.7h0M360.1 148.9h0M360.6 148.6h0M361.0 147.8h0M361.5 148.4h0M361.9 146.8h0M362.3 150.2h0M362.8 149.0h0M363.2 147.1h0M363.7 146.8h0M364.1 146.7h0M364.6 147.8h0M365.0 147.8h0M365.5 146.9h0M365.9 145.9h0M366.4 149.3h0M366.8 146.5h0M367.3 146.9h0M367.7 147.3h0M368.2 149.4h0M368.6 147.6h0M369.1 149.0h0M369.5 149.8h0M370.0 149.4h0M370.4 149.5h0M370.9 148.6h0M371.3 147.6h0M371.7 149.1h0M372.2 149.3h0M372.6 146.1h0M373.1 148.9h0M373.5 146.0h0M374.0 149.8h0M374.4 147.2h0M374.9 147.3h0M375.3 147.1h0M375.8 148.1h0M376.2 149.1h0M376.7 147.6h0M377.1 146.6h0M377.6 147.0h0M378.0 146.8h0M378.5 146.9h0M378.9 146.6h0M379.4 147.6h0M379.8 147.7h0M380.3 148.5h0M380.7 146.9h0M381.2 148.8h0M381.6 149.0h0M382.0 148.4h0M382.5 147.7h0M382.9 147.7h0M383.4 147.9h0M383.8 145.2h0M384.3 148.7h0M384.7 147.4h0M385.2 146.8h0M385.6 146.5h0M386.1 148.4h0M386.5 145.4h0M387.0 146.6h0M387.4 148.8h0M387.9 146.2h0M388.3 147.9h0M388.8 146.8h0M389.2 146.2h0M389.7 146.9h0M390.1 147.2h0M390.6 146.5h0M391.0 148.8h0M391.5 147.8h0M391.9 146.1h0M392.3 150.4h0M392.8 145.6h0M393.2 148.6h0M393.7 144.2h0M394.1 146.3h0M394.6 145.4h0M395.0 149.5h0M395.5 145.6h0M395.9 145.0h0M396.4 146.3h0M396.8 145.0h0M397.3 144.8h0M397.7 146.6h0M398.2 144.8h0M398.6 146.1h0M399.1 145.6h0M399.5 147.4h0M400.0 145.8h0M400.4 147.6h0M400.9 146.8h0M401.3 146.1h0M401.7 146.2h0M402.2 144.9h0M402.6 145.0h0M403.1 146.4h0M403.5 147.9h0M404.0 146.0h0M404.4 144.9h0M404.9 146.8h0M405.3 146.1h0M405.8 147.8h0M406.2 148.4h0M406.7 146.7h0M407.1 145.2h0M407.6 145.8h0M408.0 147.4h0M408.5 146.0h0M408.9 146.1h0M409.4 145.8h0M409.8 144.9h0M410.3 147.5h0M410.7 145.0h0M411.2 145.1h0M411.6 145.8h0M412.0 147.0h0M412.5 146.3h0M412.9 147.2h0M413.4 145.1h0M413.8 148.1h0M414.3 146.9h0M414.7 145.4h0M415.2 146.3h0M415.6 144.1h0M416.1 145.5h0M416.5 147.2h0M417.0 145.8h0M417.4 144.2h0M417.9 143.1h0M418.3 144.0h0M418.8 146.3h0M419.2 145.0h0M419.7 145.9h0M420.1 147.3h0M420.6 142.6h0M421.0 145.7h0M421.4 143.7h0M421.9 143.6h0M422.3 145.9h0M422.8 145.1h0M423.2 144.0h0M423.7 146.2h0M424.1 143.9h0M424.5 145.1h0M425.0 155.0h0M425.4 140.2h0M425.9 143.2h0M426.3 146.1h0M426.8 146.1h0M427.2 146.7h0M428.1 143.2h0M428.6 147.4h0M429.0 143.2h0M430.4 146.7h0M431.3 145.7h0M432.6 148.8h0M433.1 146.5h0M433.5 142.7h0M434.0 145.8h0M435.3 142.6h0M435.7 148.5h0M436.2 141.5h0M436.6 146.1h0M437.1 147.5h0M437.5 145.9h0M438.0 147.0h0M438.4 138.9h0M439.8 147.7h0M440.2 151.4h0M440.7 146.4h0M441.1 145.2h0M441.6 142.4h0M442.0 144.2h0M442.5 141.5h0M442.9 147.4h0M443.4 157.2h0M443.8 146.1h0M445.2 149.6h0M445.6 145.3h0M446.1 158.2h0M446.5 157.9h0M447.4 147.2h0M448.3 142.8h0M449.6 145.5h0M450.1 143.4h0M450.5 145.0h0M451.4 149.6h0M451.9 142.4h0M452.3 146.4h0M452.8 147.2h0M453.2 145.5h0M453.7 149.7h0M454.6 152.5h0M455.0 145.3h0M455.5 143.6h0M455.9 145.5h0M456.8 155.0h0M457.3 148.9h0M458.2 140.1h0M458.6 145.9h0M459.5 145.3h0M459.9 147.0h0M460.4 143.0h0M461.3 144.7h0M461.7 150.1h0M462.2 145.4h0M462.6 144.9h0M463.1 147.1h0M464.4 146.3h0M465.3 139.8h0M465.8 157.3h0M466.2 147.0h0M467.1 147.3h0M468.0 141.6h0M468.5 147.3h0M468.9 146.2h0M469.4 145.2h0M469.8 147.1h0M470.3 146.0h0M470.7 155.0h0M471.1 136.9h0M471.6 142.7h0M472.0 143.3h0M472.5 151.1h0M472.9 145.7h0M474.3 146.4h0M475.2 146.8h0M475.6 145.4h0M476.1 146.6h0M476.5 145.8h0M478.3 149.7h0M479.2 146.5h0M480.6 144.2h0M481.0 153.2h0M481.5 148.9h0M481.9 145.1h0M482.4 148.8h0M482.8 156.2h0M483.2 147.0h0M483.7 143.7h0M485.0 146.0h0M485.5 138.6h0M485.9 144.4h0M486.4 143.6h0M486.8 146.5h0M487.3 142.2h0M487.7 144.2h0M488.2 147.1h0M488.6 148.2h0M489.1 148.8h0M490.0 147.8h0M490.4 142.1h0M491.3 143.1h0M492.7 142.2h0M493.1 145.8h0M494.0 142.5h0M494.9 144.3h0M495.3 145.1h0M495.8 146.0h0M496.2 145.6h0M496.7 143.2h0M497.1 150.1h0M497.6 145.2h0M498.0 141.5h0M499.4 145.3h0M499.8 145.4h0M500.7 146.3h0M501.2 146.6h0M503.4 145.0h0M503.9 144.9h0M505.2 144.8h0M505.7 144.2h0M506.1 146.6h0M506.5 144.0h0M507.0 142.2h0M507.4 146.2h0M507.9 144.5h0M508.3 142.9h0M508.8 142.2h0M509.2 147.0h0M509.7 144.7h0M510.6 144.4h0M511.0 145.5h0M511.5 153.2h0M511.9 146.4h0M512.4 145.8h0M512.8 148.4h0M514.2 144.7h0M514.6 147.5h0M515.5 144.2h0M516.4 147.2h0M516.9 152.8h0M517.3 146.4h0M517.8 143.9h0M518.2 140.7h0M519.1 143.5h0M519.5 147.6h0M520.0 148.6h0M520.4 143.8h0M520.9 142.7h0M521.8 139.8h0M523.1 141.1h0M523.6 147.1h0M524.0 142.4h0M524.5 143.5h0M524.9 146.5h0M525.8 142.7h0M526.3 145.6h0M526.7 144.6h0M527.2 138.8h0M527.6 142.6h0M528.1 143.9h0M528.5 145.1h0M529.4 144.8h0M529.9 142.0h0M531.2 144.9h0M531.6 149.3h0M532.5 146.1h0M533.0 147.5h0M533.4 142.9h0M534.3 141.5h0M534.8 147.0h0M536.1 141.9h0M536.6 150.3h0M537.0 142.9h0M537.5 145.4h0M537.9 145.6h0M538.8 143.1h0M539.3 145.6h0M539.7 142.2h0M540.2 146.5h0M540.6 144.0h0M542.0 142.3h0M542.8 137.1h0M543.3 143.7h0M543.7 142.9h0"/>
<path stroke="#ff00ff" d="M301.9 104.7h0M302.3 103.8h0M302.8 103.6h0M303.2 102.4h0M303.7 103.3h0M304.1 103.2h0M304.6 103.4h0M305.0 103.3h0M305.5 101.4h0M305.9 104.5h0M306.4 104.4h0M306.8 104.1h0M307.3 102.1h0M307.7 103.0h0M308.2 104.0h0M308.6 101.6h0M309.1 100.5h0M309.5 101.8h0M310.0 102.9h0M310.4 103.6h0M310.9 104.8h0M311.3 103.9h0M311.8 103.1h0M312.2 101.4h0M312.6 104.1h0M313.1 102.7h0M313.5 104.6h0M314.0 105.2h0M314.4 104.5h0M314.9 104.9h0M315.3 104.8h0M315.8 104.1h0M316.2 102.1h0M316.7 103.4h0M317.1 103.9h0M317.6 103.6h0M318.0 101.4h0M318.5 105.7h0M318.9 102.8h0M319.4 104.9h0M319.8 101.6h0M320.3 103.8h0M320.7 102.9h0M321.2 106.6h0M321.6 102.4h0M322.0 104.0h0M322.5 105.7h0M322.9 102.9h0M323.4 103.6h0M323.8 104.2h0M324.3 105.8h0M324.7 104.3h0M325.2 103.2h0M325.6 104.3h0M326.1 100.8h0M326.5 103.8h0M327.0 103.3h0M327.4 103.5h0M327.9 104.2h0M328.3 104.0h0M328.8 102.3h0M329.2 104.1h0M329.7 102.9h0M330.1 104.1h0M330.6 105.4h0M331.0 102.6h0M331.5 104.3h0M331.9 102.7h0M332.3 101.7h0M332.8 104.5h0M333.2 102.3h0M333.7 102.8h0M334.1 104.4h0M334.6 101.7h0M335.0 102.9h0M335.5 102.9h0M335.9 103.8h0M336.4 105.6h0M336.8 103.6h0M337.3 100.5h0M337.7 102.0h0M338.2 103.3h0M338.6 104.2h0M339.1 104.1h0M339.5 102.3h0M340.0 100.7h0M340.4 101.7h0M340.9 101.8h0M341.3 101.7h0M341.7 104.0h0M342.2 104.3h0M342.6 100.1h0M343.1 102.3h0M343.5 102.9h0M344.0 101.9h0M344.4 101.4h0M344.9 101.4h0M345.3 102.3h0M345.8 101.4h0M346.2 100.9h0M346.7 99.6h0M347.1 100.7h0M347.6 101.4h0M348.0 101.4h0M348.5 101.1h0M348.9 102.0h0M349.4 103.4h0M349.8 101.2h0M350.3 102.1h0M350.7 102.8h0M351.2 102.5h0M351.6 102.8h0M352.0 100.1h0M352.5 100.7h0M352.9 102.9h0M353.4 101.3h0M353.8 101.8h0M354.3 101.9h0M354.7 100.7h0M355.2 99.6h0M355.6 104.1h0M356.1 100.0h0M356.5 102.0h0M357.0 103.8h0M357.4 100.7h0M357.9 101.0h0M358.3 103.2h0M358.8 101.2h0M359.2 100.4h0M359.7 99.8h0M360.1 101.4h0M360.6 102.4h0M361.0 103.7h0M361.5 100.1h0M361.9 102.1h0M362.3 101.9h0M362.8 101.7h0M363.2 105.4h0M363.7 100.2h0M364.1 101.4h0M364.6 103.0h0M365.0 100.5h0M365.5 101.6h0M365.9 100.2h0M366.4 103.8h0M366.8 103.5h0M367.3 100.8h0M367.7 102.6h0M368.2 101.2h0M368.6 103.9h0M369.1 99.6h0M369.5 103.1h0M370.0 99.0h0M370.4 98.7h0M370.9 102.1h0M371.3 101.9h0M371.7 101.8h0M372.2 101.7h0M372.6 100.5h0M373.1 100.3h0M373.5 101.5h0M374.0 99.3h0M374.4 102.4h0M374.9 102.7h0M375.3 100.0h0M375.8 102.6h0M376.2 101.9h0M376.7 103.4h0M377.1 101.0h0M377.6 102.0h0M378.0 100.6h0M378.5 99.8h0M378.9 100.6h0M379.4 102.6h0M379.8 103.8h0M380.3 100.0h0M380.7 102.7h0M381.2 102.1h0M381.6 100.7h0M382.0 100.1h0M382.5 101.7h0M382.9 103.4h0M383.4 100.1h0M383.8 98.6h0M384.3 101.6h0M384.7 102.4h0M385.2 97.7h0M385.6 102.2h0M386.1 103.0h0M386.5 101.8h0M387.0 98.7h0M387.4 98.8h0M387.9 105.7h0M388.3 102.4h0M388.8 101.6h0M389.2 100.4h0M389.7 103.2h0M390.1 103.3h0M390.6 98.5h0M391.0 100.4h0M391.5 98.8h0M391.9 101.5h0M392.3 101.9h0M392.8 103.7h0M393.2 103.0h0M393.7 99.4h0M394.1 98.8h0M394.6 103.8h0M395.0 104.0h0M395.5 100.1h0M395.9 101.6h0M396.4 100.1h0M396.8 102.3h0M397.3 102.1h0M397.7 99.1h0M398.2 100.0h0M398.6 101.9h0M399.1 99.1h0M399.5 99.7h0M400.0 102.3h0M400.4 101.0h0M400.9 102.2h0M401.3 101.0h0M401.7 99.5h0M402.2 102.1h0M402.6 102.7h0M403.1 99.9h0M403.5 98.5h0M404.0 98.2h0M404.4 102.2h0M404.9 102.5h0M405.3 102.5h0M405.8 100.9h0M406.2 102.3h0M406.7 101.4h0M407.1 99.4h0M407.6 98.0h0M408.0 102.0h0M408.5 99.5h0M408.9 100.0h0M409.4 102.3h0M409.8 102.4h0M410.3 101.7h0M410.7 100.8h0M411.2 100.9h0M411.6 101.5h0M412.0 101.5h0M412.5 99.4h0M412.9 97.7h0M413.4 100.1h0M413.8 100.4h0M414.3 98.6h0M414.7 100.3h0M415.2 98.2h0M415.6 97.3h0M416.1 97.2h0M416.5 100.0h0M417.0 99.0h0M417.4 98.6h0M417.9 99.3h0M418.3 98.9h0M418.8 97.6h0M419.2 97.6h0M419.7 101.7h0M420.1 96.5h0M420.6 98.6h0M421.0 97.4h0M421.4 101.4h0M421.9 99.9h0M422.3 97.5h0M422.8 100.6h0M423.2 96.0h0M423.7 102.1h0M424.1 99.5h0M424.5 101.3h0M425.0 102.4h0M425.4 102.0h0M425.9 116.0h0M426.8 103.0h0M427.2 100.8h0M427.7 102.0h0M428.6 100.0h0M429.0 101.3h0M429.5 103.7h0M431.3 101.3h0M431.7 101.4h0M432.2 103.1h0M432.6 102.5h0M433.1 101.1h0M433.5 100.2h0M434.0 101.8h0M434.4 99.8h0M435.3 102.3h0M436.2 100.8h0M436.6 100.9h0M437.1 103.5h0M437.5 103.4h0M438.0 103.2h0M438.4 102.3h0M438.9 102.7h0M439.8 101.7h0M440.7 101.5h0M441.1 101.2h0M441.6 102.4h0M442.5 99.4h0M443.8 103.9h0M444.3 102.5h0M444.7 102.7h0M445.6 100.0h0M446.1 112.5h0M446.5 102.5h0M447.0 102.8h0M448.3 101.5h0M449.2 103.9h0M449.6 102.2h0M450.1 95.2h0M451.0 100.6h0M451.9 102.0h0M452.3 97.2h0M452.8 100.6h0M453.2 100.8h0M453.7 102.2h0M454.1 102.7h0M454.6 102.1h0M455.0 102.1h0M455.5 100.9h0M456.4 99.6h0M457.3 100.1h0M457.7 100.5h0M458.6 101.6h0M459.5 102.6h0M460.4 103.0h0M461.3 100.9h0M462.2 102.0h0M462.6 107.9h0M463.1 101.5h0M463.5 101.0h0M464.4 101.3h0M464.9 102.5h0M465.8 101.6h0M466.2 94.8h0M466.7 103.5h0M467.1 101.0h0M467.6 101.7h0M468.0 99.4h0M468.5 98.7h0M468.9 102.6h0M469.8 100.0h0M470.7 101.2h0M471.1 99.1h0M471.6 100.0h0M472.0 97.0h0M472.5 99.4h0M472.9 102.3h0M473.4 98.3h0M474.3 99.9h0M474.7 102.2h0M475.2 101.7h0M475.6 101.8h0M476.5 101.8h0M477.4 99.7h0M477.9 97.6h0M478.8 98.5h0M479.2 97.2h0M479.7 98.5h0M480.1 100.8h0M481.0 97.5h0M481.5 99.4h0M481.9 98.6h0M482.4 98.9h0M482.8 103.7h0M483.2 97.9h0M484.1 102.4h0M484.6 99.1h0M485.0 100.8h0M485.5 99.7h0M485.9 97.6h0M486.4 97.9h0M486.8 98.4h0M487.3 99.8h0M487.7 98.5h0M488.2 100.9h0M488.6 97.1h0M489.1 105.4h0M490.0 97.0h0M490.4 96.9h0M491.8 99.2h0M492.7 98.7h0M493.1 102.4h0M493.6 98.3h0M494.0 95.9h0M494.5 97.3h0M494.9 101.3h0M495.3 99.5h0M495.8 97.6h0M496.2 93.8h0M496.7 98.4h0M497.1 97.1h0M497.6 97.4h0M498.0 98.1h0M498.5 97.2h0M498.9 96.9h0M499.8 99.7h0M500.3 99.5h0M500.7 98.9h0M501.2 98.5h0M501.6 101.3h0M502.1 99.1h0M502.5 97.7h0M503.9 100.7h0M504.3 98.0h0M504.8 97.6h0M505.2 97.2h0M505.7 100.5h0M506.1 97.6h0M507.0 97.9h0M507.4 99.2h0M508.3 98.9h0M508.8 96.1h0M509.2 98.4h0M509.7 97.4h0M511.0 98.3h0M511.5 99.0h0M511.9 98.8h0M512.4 94.5h0M512.8 97.8h0M514.2 99.1h0M514.6 97.4h0M515.1 96.8h0M515.5 96.1h0M516.0 97.2h0M516.9 96.4h0M517.8 96.0h0M518.6 97.7h0M519.1 96.5h0M519.5 95.9h0M520.0 95.7h0M520.9 95.1h0M521.3 94.7h0M522.2 94.3h0M523.1 94.9h0M523.6 97.7h0M524.0 96.2h0M524.9 96.1h0M525.4 94.2h0M526.3 91.7h0M527.2 95.6h0M527.6 94.6h0M528.1 97.0h0M528.5 91.2h0M529.4 94.4h0M529.9 95.1h0M530.7 97.1h0M531.2 95.3h0M532.1 93.9h0M532.5 95.7h0M533.0 95.0h0M533.9 95.4h0M534.3 93.0h0M534.8 96.3h0M535.2 94.7h0M536.1 94.4h0M536.6 96.8h0M537.0 92.9h0M537.5 95.5h0M538.4 93.3h0M538.8 95.9h0M539.3 93.3h0M539.7 93.8h0M540.2 95.4h0M541.1 95.7h0M542.4 93.5h0M544.2 83.1h0"/>
<path stroke="#ffff00" d="M301.9 119.3h0M302.3 118.6h0M302.8 122.6h0M303.2 118.9h0M303.7 118.4h0M304.1 121.5h0M304.6 118.1h0M305.0 120.1h0M305.5 119.0h0M305.9 118.0h0M306.4 119.5h0M306.8 118.8h0M307.3 115.8h0M307.7 119.0h0M308.2 118.9h0M308.6 116.8h0M309.1 117.2h0M309.5 118.2h0M310.0 116.0h0M310.4 119.9h0M310.9 117.2h0M311.3 121.4h0M311.8 121.8h0M312.2 121.7h0M312.6 119.2h0M313.1 117.6h0M313.5 121.1h0M314.0 122.6h0M314.4 117.6h0M314.9 117.6h0M315.3 120.8h0M315.8 118.2h0M316.2 123.4h0M316.7 123.6h0M317.1 118.5h0M317.6 119.4h0M318.0 120.1h0M318.5 120.4h0M318.9 120.1h0M319.4 116.2h0M319.8 121.4h0M320.3 122.2h0M320.7 119.6h0M321.2 118.7h0M321.6 119.5h0M322.0 118.7h0M322.5 119.4h0M322.9 118.6h0M323.4 120.8h0M323.8 120.2h0M324.3 118.9h0M324.7 117.8h0M325.2 121.0h0M325.6 117.2h0M326.1 119.5h0M326.5 119.2h0M327.0 121.2h0M327.4 119.6h0M327.9 117.7h0M328.3 118.0h0M328.8 119.3h0M329.2 118.2h0M329.7 115.9h0M330.1 117.2h0M330.6 119.8h0M331.0 118.8h0M331.5 121.4h0M331.9 121.1h0M332.3 120.3h0M332.8 120.1h0M333.2 120.1h0M333.7 117.3h0M334.1 118.1h0M334.6 120.2h0M335.0 119.8h0M335.5 119.8h0M335.9 120.9h0M336.4 120.0h0M336.8 120.7h0M337.3 122.1h0M337.7 122.2h0M338.2 120.1h0M338.6 121.1h0M339.1 119.6h0M339.5 120.1h0M340.0 121.8h0M340.4 123.2h0M340.9 119.4h0M341.3 122.3h0M341.7 122.5h0M342.2 122.9h0M342.6 120.3h0M343.1 120.2h0M343.5 121.1h0M344.0 124.2h0M344.4 121.9h0M344.9 123.2h0M345.3 123.5h0M345.8 122.0h0M346.2 123.6h0M346.7 123.4h0M347.1 123.5h0M347.6 119.8h0M348.0 124.2h0M348.5 124.2h0M348.9 122.1h0M349.4 123.2h0M349.8 122.5h0M350.3 123.6h0M350.7 123.8h0M351.2 121.4h0M351.6 122.9h0M352.0 124.9h0M352.5 120.7h0M352.9 121.3h0M353.4 119.4h0M353.8 122.0h0M354.3 122.0h0M354.7 125.3h0M355.2 122.1h0M355.6 122.8h0M356.1 117.1h0M356.5 123.3h0M357.0 119.3h0M357.4 121.7h0M357.9 118.7h0M358.3 122.2h0M358.8 118.1h0M359.2 121.9h0M359.7 119.0h0M360.1 119.5h0M360.6 119.8h0M361.0 120.8h0M361.5 116.7h0M361.9 120.6h0M362.3 119.6h0M362.8 114.4h0M363.2 117.6h0M363.7 119.1h0M364.1 116.4h0M364.6 119.2h0M365.0 117.3h0M365.5 114.9h0M365.9 119.6h0M366.4 113.8h0M366.8 118.1h0M367.3 114.1h0M367.7 118.3h0M368.2 118.5h0M368.6 117.5h0M369.1 117.2h0M369.5 117.6h0M370.0 109.8h0M370.4 119.7h0M370.9 115.7h0M371.3 114.7h0M371.7 117.6h0M372.2 119.9h0M372.6 119.0h0M373.1 120.6h0M373.5 118.5h0M374.0 120.4h0M374.4 120.2h0M374.9 121.2h0M375.3 119.7h0M375.8 124.7h0M376.2 119.3h0M376.7 120.7h0M377.1 118.5h0M377.6 124.5h0M378.0 121.1h0M378.5 120.2h0M378.9 119.3h0M379.4 121.6h0M379.8 120.3h0M380.3 120.5h0M380.7 124.4h0M381.2 122.8h0M381.6 123.7h0M382.0 119.9h0M382.5 120.1h0M382.9 124.0h0M383.4 122.2h0M383.8 119.1h0M384.3 125.1h0M384.7 122.8h0M385.2 128.5h0M385.6 116.9h0M386.1 122.3h0M386.5 119.2h0M387.0 119.9h0M387.4 116.7h0M387.9 123.2h0M388.3 125.4h0M388.8 121.4h0M389.2 121.7h0M389.7 121.2h0M390.1 120.4h0M390.6 122.2h0M391.0 120.2h0M391.5 122.6h0M391.9 124.1h0M392.3 121.2h0M392.8 125.2h0M393.2 121.3h0M393.7 120.4h0M394.1 121.7h0M394.6 125.3h0M395.0 127.9h0M395.5 120.2h0M395.9 124.9h0M396.4 122.1h0M396.8 121.1h0M397.3 126.6h0M397.7 126.0h0M398.2 126.0h0M398.6 124.9h0M399.1 121.5h0M399.5 123.1h0M400.0 124.8h0M400.4 127.2h0M400.9 129.6h0M401.3 123.2h0M401.7 127.9h0M402.2 125.1h0M402.6 128.5h0M403.1 127.7h0M403.5 127.9h0M404.0 126.6h0M404.4 126.9h0M404.9 129.1h0M405.3 129.2h0M405.8 129.3h0M406.2 129.0h0M406.7 126.7h0M407.1 125.3h0M407.6 128.0h0M408.0 126.3h0M408.5 124.8h0M408.9 127.9h0M409.4 124.3h0M409.8 129.3h0M410.3 128.7h0M410.7 130.8h0M411.2 125.6h0M411.6 129.7h0M412.0 128.2h0M412.5 130.2h0M412.9 126.2h0M413.4 130.4h0M413.8 131.5h0M414.3 129.4h0M414.7 131.6h0M415.2 134.9h0M415.6 130.5h0M416.1 129.5h0M416.5 128.9h0M417.0 127.2h0M417.4 132.6h0M417.9 129.1h0M418.3 131.3h0M418.8 131.3h0M419.2 132.7h0M419.7 130.5h0M420.1 129.9h0M420.6 128.4h0M421.0 131.6h0M421.4 130.6h0M421.9 132.5h0M422.3 129.1h0M422.8 130.4h0M423.2 127.9h0M423.7 128.2h0M424.1 129.3h0M424.5 128.8h0M425.0 130.6h0M425.4 130.9h0M425.9 131.2h0M426.3 131.4h0M426.8 126.9h0M427.2 128.9h0M427.7 127.5h0M428.1 130.1h0M428.6 127.7h0M429.9 131.8h0M430.4 128.1h0M430.8 132.0h0M431.3 126.6h0M431.7 128.5h0M432.6 126.8h0M433.1 128.1h0M433.5 129.7h0M434.0 129.1h0M434.9 129.5h0M436.2 116.0h0M436.6 126.0h0M437.1 128.9h0M438.0 129.2h0M438.9 130.0h0M440.2 129.5h0M440.7 128.3h0M441.1 119.0h0M441.6 130.9h0M442.0 131.7h0M442.5 129.1h0M442.9 126.7h0M443.4 130.6h0M443.8 129.8h0M445.2 112.0h0M445.6 127.6h0M446.1 134.7h0M446.5 129.1h0M447.0 96.0h0M447.4 127.7h0M448.3 123.1h0M448.7 130.8h0M449.2 128.8h0M449.6 127.3h0M450.1 125.8h0M450.5 126.5h0M451.0 127.6h0M451.4 129.6h0M451.9 125.7h0M452.3 130.9h0M452.8 126.8h0M453.2 130.0h0M453.7 129.4h0M454.1 108.0h0M454.6 129.3h0M455.0 127.7h0M455.5 130.2h0M456.4 132.6h0M456.8 114.5h0M457.3 130.3h0M458.2 126.0h0M459.0 131.4h0M459.5 132.5h0M459.9 133.4h0M460.4 132.9h0M460.8 124.9h0M461.3 128.1h0M461.7 136.6h0M462.6 128.8h0M463.1 126.4h0M463.5 128.2h0M464.4 128.4h0M464.9 117.0h0M465.8 129.2h0M466.2 106.0h0M467.1 129.7h0M467.6 130.5h0M468.0 134.7h0M468.5 128.0h0M468.9 129.7h0M469.4 129.3h0M469.8 119.0h0M470.3 129.4h0M470.7 123.5h0M471.1 125.7h0M471.6 139.1h0M472.0 131.6h0M472.5 131.5h0M472.9 127.0h0M473.8 126.5h0M474.3 129.2h0M475.2 112.0h0M475.6 130.8h0M476.1 127.7h0M476.5 125.9h0M477.0 129.3h0M477.4 132.5h0M477.9 128.9h0M478.3 124.7h0M478.8 130.9h0M479.2 127.0h0M479.7 124.5h0M480.1 117.0h0M480.6 126.0h0M481.0 127.3h0M481.9 127.1h0M482.4 130.0h0M482.8 127.1h0M484.1 112.0h0M484.6 128.4h0M485.0 126.6h0M485.5 118.1h0M485.9 130.9h0M486.4 126.6h0M486.8 128.3h0M487.3 128.3h0M488.2 127.7h0M488.6 127.5h0M489.1 125.1h0M489.5 126.1h0M490.0 103.0h0M490.4 128.2h0M490.9 126.7h0M491.8 123.7h0M492.2 126.3h0M493.1 131.3h0M494.5 131.5h0M494.9 116.0h0M495.3 129.5h0M495.8 128.2h0M496.2 131.4h0M496.7 127.6h0M497.1 119.0h0M497.6 129.7h0M498.0 128.6h0M498.9 129.4h0M499.4 131.8h0M499.8 117.0h0M500.3 128.4h0M500.7 132.4h0M501.2 125.4h0M501.6 122.5h0M502.1 132.0h0M503.0 132.8h0M503.4 127.6h0M504.3 126.9h0M504.8 126.4h0M505.2 128.1h0M507.4 128.2h0M508.3 129.6h0M508.8 130.0h0M509.2 128.0h0M509.7 122.6h0M510.1 127.7h0M511.0 127.1h0M511.5 129.2h0M511.9 121.0h0M512.4 128.9h0M513.3 128.7h0M514.2 132.4h0M514.6 130.6h0M515.1 128.9h0M515.5 128.5h0M516.0 128.7h0M516.9 129.9h0M517.3 133.4h0M517.8 168.6h0M518.2 128.3h0M518.6 129.5h0M519.1 136.5h0M519.5 131.7h0M520.0 133.1h0M521.8 124.5h0M522.7 134.9h0M523.1 140.8h0M524.5 138.8h0M524.9 139.3h0M525.4 140.2h0M525.8 136.6h0M526.3 137.9h0M526.7 137.8h0M527.2 141.2h0M527.6 141.8h0M528.1 149.0h0M529.0 138.4h0M529.4 140.5h0M530.3 166.3h0M530.7 142.8h0M531.2 140.1h0M531.6 147.6h0M532.1 139.5h0M532.5 141.8h0M533.0 146.4h0M533.4 141.2h0M533.9 145.3h0M534.8 138.4h0M535.7 133.0h0M536.1 134.3h0M536.6 143.5h0M537.5 140.3h0M537.9 143.8h0M538.4 139.1h0M538.8 142.4h0M539.3 143.2h0M539.7 151.4h0M540.2 144.5h0M540.6 146.6h0M541.1 137.8h0M541.5 137.0h0M542.0 138.2h0M542.4 136.4h0M542.8 133.9h0M543.3 135.1h0M543.7 131.4h0M544.2 139.6h0"/>
<path stroke="#000000" d="M301.9 139.0h0M302.3 139.2h0M302.8 140.7h0M303.2 138.4h0M303.7 139.4h0M304.1 137.6h0M304.6 137.0h0M305.0 137.0h0M305.5 136.9h0M305.9 139.4h0M306.4 138.8h0M306.8 137.6h0M307.3 137.8h0M307.7 137.1h0M308.2 139.2h0M308.6 139.3h0M309.1 137.2h0M309.5 140.5h0M310.0 137.8h0M310.4 137.2h0M310.9 137.4h0M311.3 139.1h0M311.8 139.2h0M312.2 138.0h0M312.6 139.1h0M313.1 139.2h0M313.5 139.7h0M314.0 138.2h0M314.4 138.6h0M314.9 137.1h0M315.3 138.8h0M315.8 138.8h0M316.2 137.4h0M316.7 137.4h0M317.1 138.9h0M317.6 138.9h0M318.0 140.8h0M318.5 139.5h0M318.9 138.4h0M319.4 140.7h0M319.8 138.0h0M320.3 139.2h0M320.7 140.0h0M321.2 140.5h0M321.6 139.3h0M322.0 138.7h0M322.5 137.8h0M322.9 139.5h0M323.4 137.3h0M323.8 138.6h0M324.3 139.9h0M324.7 140.3h0M325.2 138.6h0M325.6 137.3h0M326.1 138.4h0M326.5 138.7h0M327.0 140.5h0M327.4 137.4h0M327.9 138.4h0M328.3 138.0h0M328.8 139.3h0M329.2 140.0h0M329.7 137.2h0M330.1 138.2h0M330.6 138.9h0M331.0 139.0h0M331.5 140.8h0M331.9 138.9h0M332.3 137.6h0M332.8 140.0h0M333.2 138.1h0M333.7 139.4h0M334.1 137.6h0M334.6 139.2h0M335.0 137.1h0M335.5 139.7h0M335.9 137.8h0M336.4 138.9h0M336.8 138.4h0M337.3 140.5h0M337.7 138.1h0M338.2 138.0h0M338.6 137.8h0M339.1 139.3h0M339.5 138.5h0M340.0 139.4h0M340.4 135.8h0M340.9 139.2h0M341.3 138.5h0M341.7 139.3h0M342.2 137.7h0M342.6 139.2h0M343.1 138.7h0M343.5 139.6h0M344.0 139.5h0M344.4 139.9h0M344.9 137.0h0M345.3 138.5h0M345.8 138.6h0M346.2 136.1h0M346.7 138.2h0M347.1 138.2h0M347.6 137.8h0M348.0 138.4h0M348.5 138.6h0M348.9 140.2h0M349.4 138.9h0M349.8 136.3h0M350.3 137.6h0M350.7 137.5h0M351.2 140.0h0M351.6 138.6h0M352.0 139.3h0M352.5 138.1h0M352.9 138.6h0M353.4 140.3h0M353.8 136.8h0M354.3 139.1h0M354.7 137.9h0M355.2 139.2h0M355.6 139.9h0M356.1 139.1h0M356.5 139.0h0M357.0 137.5h0M357.4 139.2h0M357.9 140.2h0M358.3 140.3h0M358.8 138.7h0M359.2 136.8h0M359.7 137.9h0M360.1 139.7h0M360.6 137.6h0M361.0 138.4h0M361.5 138.5h0M361.9 138.0h0M362.3 138.9h0M362.8 139.8h0M363.2 137.7h0M363.7 139.0h0M364.1 136.9h0M364.6 137.4h0M365.0 139.6h0M365.5 136.8h0M365.9 137.0h0M366.4 139.6h0M366.8 138.1h0M367.3 138.6h0M367.7 138.9h0M368.2 140.6h0M368.6 137.6h0M369.1 138.2h0M369.5 136.2h0M370.0 137.4h0M370.4 137.5h0M370.9 137.7h0M371.3 137.1h0M371.7 139.2h0M372.2 138.9h0M372.6 138.7h0M373.1 139.2h0M373.5 140.4h0M374.0 139.9h0M374.4 140.3h0M374.9 137.4h0M375.3 137.4h0M375.8 137.4h0M376.2 140.5h0M376.7 138.2h0M377.1 139.2h0M377.6 136.3h0M378.0 136.9h0M378.5 138.2h0M378.9 137.8h0M379.4 137.4h0M379.8 137.9h0M380.3 139.8h0M380.7 138.1h0M381.2 137.8h0M381.6 138.7h0M382.0 137.8h0M382.5 139.4h0M382.9 139.7h0M383.4 136.6h0M383.8 136.3h0M384.3 137.7h0M384.7 139.7h0M385.2 135.8h0M385.6 140.2h0M386.1 138.2h0M386.5 138.3h0M387.0 139.0h0M387.4 138.8h0M387.9 138.7h0M388.3 138.4h0M388.8 138.4h0M389.2 136.5h0M389.7 136.9h0M390.1 136.8h0M390.6 138.3h0M391.0 139.0h0M391.5 139.2h0M391.9 136.8h0M392.3 137.8h0M392.8 138.4h0M393.2 138.5h0M393.7 136.4h0M394.1 137.8h0M394.6 139.3h0M395.0 138.1h0M395.5 138.7h0M395.9 137.7h0M396.4 137.8h0M396.8 137.9h0M397.3 137.2h0M397.7 136.9h0M398.2 137.1h0M398.6 137.7h0M399.1 137.4h0M399.5 137.4h0M400.0 137.5h0M400.4 135.3h0M400.9 138.9h0M401.3 138.3h0M401.7 137.9h0M402.2 137.6h0M402.6 137.1h0M403.1 137.0h0M403.5 138.0h0M404.0 137.8h0M404.4 137.6h0M404.9 135.8h0M405.3 135.1h0M405.8 136.4h0M406.2 136.9h0M406.7 137.5h0M407.1 137.9h0M407.6 138.2h0M408.0 138.8h0M408.5 136.7h0M408.9 137.7h0M409.4 137.1h0M409.8 137.1h0M410.3 136.1h0M410.7 135.9h0M411.2 137.9h0M411.6 138.3h0M412.0 135.4h0M412.5 137.0h0M412.9 135.3h0M413.4 135.8h0M413.8 137.4h0M414.3 137.0h0M414.7 137.2h0M415.2 137.5h0M415.6 135.4h0M416.1 137.6h0M416.5 137.5h0M417.0 133.8h0M417.4 136.7h0M417.9 138.2h0M418.3 136.5h0M418.8 136.7h0M419.2 137.1h0M419.7 135.9h0M420.1 135.9h0M420.6 135.7h0M421.0 135.9h0M421.4 135.6h0M421.9 134.9h0M422.3 135.3h0M422.8 137.0h0M423.2 135.1h0M423.7 136.0h0M424.1 136.0h0M424.5 153.6h0M425.0 133.9h0M425.4 135.4h0M425.9 139.6h0M426.3 139.7h0M426.8 138.3h0M427.2 135.3h0M428.1 136.3h0M428.6 137.6h0M429.0 138.0h0M429.5 136.1h0M430.4 148.4h0M431.7 137.5h0M432.2 136.1h0M432.6 137.3h0M433.1 139.4h0M433.5 141.8h0M434.0 134.9h0M434.4 137.6h0M434.9 138.8h0M435.3 135.9h0M435.7 137.2h0M437.1 133.1h0M437.5 138.9h0M438.0 140.7h0M438.9 137.6h0M439.8 136.8h0M440.2 136.2h0M440.7 135.2h0M441.1 139.1h0M441.6 140.8h0M442.0 135.3h0M443.4 138.3h0M443.8 136.4h0M444.3 137.5h0M445.2 148.1h0M445.6 136.5h0M446.1 137.8h0M446.5 164.5h0M447.8 136.1h0M448.3 137.9h0M448.7 138.6h0M449.2 134.6h0M449.6 138.2h0M450.1 139.3h0M450.5 137.2h0M451.4 134.2h0M451.9 139.8h0M452.3 138.2h0M453.2 136.6h0M453.7 137.8h0M454.1 138.1h0M455.9 132.4h0M456.4 134.4h0M457.3 138.6h0M457.7 137.1h0M458.2 128.9h0M458.6 135.9h0M459.0 138.5h0M459.5 133.8h0M460.4 138.3h0M460.8 137.3h0M461.3 136.7h0M461.7 141.7h0M462.2 137.9h0M462.6 137.5h0M463.1 147.0h0M463.5 138.1h0M464.0 136.1h0M464.9 139.3h0M465.3 138.2h0M465.8 136.6h0M466.2 139.0h0M466.7 134.2h0M467.6 139.0h0M468.0 133.2h0M468.5 139.0h0M470.7 140.0h0M471.1 138.4h0M472.0 139.8h0M472.5 141.3h0M472.9 139.9h0M473.4 135.2h0M473.8 139.6h0M474.3 141.7h0M474.7 138.6h0M475.2 134.4h0M475.6 139.6h0M476.5 137.9h0M477.4 137.4h0M477.9 139.5h0M478.3 142.4h0M480.1 137.0h0M480.6 139.6h0M481.0 137.2h0M481.5 135.7h0M481.9 139.9h0M482.8 141.4h0M483.2 135.8h0M483.7 140.2h0M484.1 145.0h0M484.6 140.9h0M485.5 131.5h0M485.9 140.2h0M486.4 139.9h0M486.8 136.6h0M487.7 138.3h0M488.2 139.5h0M489.1 135.0h0M490.0 137.8h0M491.3 137.5h0M491.8 137.2h0M492.2 136.1h0M492.7 130.2h0M493.1 138.4h0M494.0 140.7h0M494.5 141.9h0M494.9 136.8h0M495.3 137.1h0M495.8 135.8h0M496.2 134.5h0M496.7 139.0h0M497.1 146.7h0M497.6 137.6h0M498.0 139.0h0M498.5 137.0h0M499.4 136.3h0M499.8 134.4h0M500.3 139.1h0M500.7 138.1h0M501.6 140.2h0M502.5 133.9h0M503.0 136.2h0M503.4 136.1h0M503.9 136.6h0M504.3 137.7h0M504.8 136.1h0M505.2 134.1h0M505.7 136.4h0M506.1 136.9h0M506.5 135.4h0M507.0 135.3h0M507.4 135.5h0M508.3 135.1h0M508.8 133.9h0M509.2 134.6h0M509.7 132.4h0M510.1 139.9h0M510.6 135.9h0M511.0 135.4h0M511.9 137.4h0M513.3 133.2h0M513.7 136.5h0M514.6 134.5h0M515.1 136.1h0M515.5 134.0h0M516.0 133.6h0M516.4 134.8h0M516.9 133.8h0M517.3 135.4h0M517.8 132.6h0M518.2 134.4h0M518.6 134.4h0M519.1 132.7h0M519.5 135.3h0M520.4 133.7h0M520.9 134.1h0M521.3 135.2h0M521.8 135.7h0M522.2 132.2h0M522.7 133.0h0M523.1 127.7h0M523.6 132.9h0M524.5 135.2h0M525.4 129.7h0M525.8 136.0h0M526.3 133.6h0M527.2 133.9h0M527.6 135.1h0M528.1 135.0h0M529.4 133.7h0M529.9 131.1h0M530.7 136.3h0M531.2 137.0h0M531.6 136.3h0M533.0 133.3h0M533.9 133.3h0M534.3 134.5h0M534.8 134.3h0M539.3 130.7h0M539.7 125.4h0M540.2 118.6h0M540.6 123.7h0M541.1 123.3h0M541.5 125.4h0M542.4 118.1h0M542.8 114.5h0"/>
</g>
<rect x="301.9" y="7.0" width="242.7" height="162.2" fill="none" stroke="#5a5a5a" stroke-width="0.9"/>
<path d="M301.90,169.2v-2.8M301.90,7.0v2.8M315.53,169.2v-2.8M315.53,7.0v2.8M329.15,169.2v-2.8M329.15,7.0v2.8M342.78,169.2v-2.8M342.78,7.0v2.8M356.41,169.2v-2.8M356.41,7.0v2.8M370.04,169.2v-2.8M370.04,7.0v2.8M383.66,169.2v-2.8M383.66,7.0v2.8M397.29,169.2v-2.8M397.29,7.0v2.8M410.92,169.2v-2.8M410.92,7.0v2.8M424.54,169.2v-2.8M424.54,7.0v2.8M438.17,169.2v-2.8M438.17,7.0v2.8M451.80,169.2v-2.8M451.80,7.0v2.8M465.43,169.2v-2.8M465.43,7.0v2.8M479.05,169.2v-2.8M479.05,7.0v2.8M492.68,169.2v-2.8M492.68,7.0v2.8M506.31,169.2v-2.8M506.31,7.0v2.8M519.93,169.2v-2.8M519.93,7.0v2.8M533.56,169.2v-2.8M533.56,7.0v2.8M301.9,7.00h2.8M544.6,7.00h-2.8M301.9,27.28h2.8M544.6,27.28h-2.8M301.9,47.55h2.8M544.6,47.55h-2.8M301.9,67.82h2.8M544.6,67.82h-2.8M301.9,88.10h2.8M544.6,88.10h-2.8M301.9,108.38h2.8M544.6,108.38h-2.8M301.9,128.65h2.8M544.6,128.65h-2.8M301.9,148.92h2.8M544.6,148.92h-2.8M301.9,169.20h2.8M544.6,169.20h-2.8" stroke="#5a5a5a" stroke-width="0.9" fill="none"/>
<g font-size="9.5" font-weight="bold" fill="#000"><text x="298.9" y="10.7" text-anchor="end">6</text><text x="298.9" y="31.0" text-anchor="end">5</text><text x="298.9" y="51.2" text-anchor="end">4</text><text x="298.9" y="71.5" text-anchor="end">3</text><text x="298.9" y="91.8" text-anchor="end">2</text><text x="298.9" y="112.1" text-anchor="end">1</text><text x="298.9" y="132.3" text-anchor="end">0</text><text x="298.9" y="152.6" text-anchor="end">−1</text><text x="298.9" y="172.9" text-anchor="end">−2</text><text x="301.9" y="181.9" text-anchor="middle">1</text><text x="315.5" y="181.9" text-anchor="middle">2</text><text x="329.2" y="181.9" text-anchor="middle">3</text><text x="342.8" y="181.9" text-anchor="middle">4</text><text x="356.4" y="181.9" text-anchor="middle">5</text><text x="370.0" y="181.9" text-anchor="middle">6</text><text x="383.7" y="181.9" text-anchor="middle">7</text><text x="397.3" y="181.9" text-anchor="middle">8</text><text x="410.9" y="181.9" text-anchor="middle">9</text><text x="424.5" y="181.9" text-anchor="middle">1</text><text x="438.2" y="181.9" text-anchor="middle">2</text><text x="451.8" y="181.9" text-anchor="middle">3</text><text x="465.4" y="181.9" text-anchor="middle">4</text><text x="479.1" y="181.9" text-anchor="middle">5</text><text x="492.7" y="181.9" text-anchor="middle">6</text><text x="506.3" y="181.9" text-anchor="middle">7</text><text x="519.9" y="181.9" text-anchor="middle">8</text><text x="533.6" y="181.9" text-anchor="middle">9</text></g>
<text x="427.2" y="190.8" text-anchor="middle" font-size="9.6" font-weight="bold">month</text>
<text x="28.8" y="353.4" font-size="10.8">2020</text>
<text x="151.3" y="353.4" font-size="10.8">2022</text>
<line x1="148.9" y1="195.5" x2="148.9" y2="357.4" stroke="#ff3040" stroke-opacity="0.7" stroke-width="1" stroke-dasharray="4,2.6"/>
<clipPath id="c3"><rect x="26.6" y="195.5" width="242.1" height="161.9"/></clipPath>
<g clip-path="url(#c3)" fill="none" stroke-linecap="round" stroke-width="3.3">
<path stroke="#ff0000" d="M26.6 294.5h0M27.0 296.1h0M27.5 295.5h0M27.9 297.3h0M28.4 255.4h0M28.8 294.9h0M29.3 296.2h0M29.7 294.6h0M30.2 294.5h0M30.6 296.1h0M31.1 295.6h0M31.5 296.1h0M32.0 294.9h0M32.4 294.6h0M32.9 296.3h0M33.3 296.0h0M33.7 294.5h0M34.2 293.7h0M34.6 295.3h0M35.1 296.1h0M35.5 294.9h0M36.0 295.6h0M36.4 294.7h0M36.9 293.7h0M37.3 295.0h0M37.8 295.1h0M38.2 294.2h0M38.7 295.1h0M39.1 296.0h0M39.6 295.1h0M40.0 295.7h0M40.4 294.8h0M40.9 296.1h0M41.3 295.8h0M41.8 295.8h0M42.2 295.5h0M42.7 294.7h0M43.1 264.1h0M43.6 296.2h0M44.0 294.0h0M44.5 295.2h0M44.9 296.1h0M45.4 296.0h0M45.8 295.9h0M46.3 294.7h0M46.7 296.8h0M47.1 294.9h0M47.6 294.9h0M48.0 295.2h0M48.5 295.8h0M48.9 295.5h0M49.4 294.7h0M49.8 294.3h0M50.3 295.5h0M50.7 294.4h0M51.2 295.1h0M51.6 294.8h0M52.1 296.1h0M52.5 295.5h0M53.0 294.9h0M53.4 297.0h0M53.8 294.5h0M54.3 296.6h0M54.7 294.9h0M55.2 293.2h0M55.6 296.1h0M56.1 295.8h0M56.5 293.5h0M57.0 296.8h0M57.4 296.1h0M57.9 295.6h0M58.3 295.1h0M58.8 295.5h0M59.2 294.7h0M59.7 294.5h0M60.1 294.6h0M60.5 295.4h0M61.0 295.4h0M61.4 296.1h0M61.9 296.1h0M62.3 295.3h0M62.8 297.3h0M63.2 295.0h0M63.7 292.9h0M64.1 296.8h0M64.6 296.5h0M65.0 296.2h0M65.5 295.6h0M65.9 296.2h0M66.4 295.4h0M66.8 296.5h0M67.2 295.0h0M67.7 294.5h0M68.1 295.5h0M68.6 295.3h0M69.0 295.4h0M69.5 294.7h0M69.9 297.4h0M70.4 295.1h0M70.8 294.4h0M71.3 294.5h0M71.7 296.0h0M72.2 297.1h0M72.6 296.8h0M73.1 293.9h0M73.5 295.5h0M73.9 295.1h0M74.4 293.7h0M74.8 293.8h0M75.3 295.5h0M75.7 293.5h0M76.2 297.2h0M76.6 297.2h0M77.1 294.7h0M77.5 295.5h0M78.0 295.4h0M78.4 295.0h0M78.9 295.5h0M79.3 295.3h0M79.8 295.7h0M80.2 296.9h0M80.6 295.2h0M81.1 294.2h0M81.5 294.2h0M82.0 296.4h0M82.4 295.4h0M82.9 296.6h0M83.3 296.4h0M83.8 294.2h0M84.2 295.2h0M84.7 295.5h0M85.1 296.3h0M85.6 294.6h0M86.0 296.7h0M86.5 295.3h0M86.9 294.5h0M87.3 294.9h0M87.8 296.2h0M88.2 296.2h0M88.7 295.8h0M89.1 297.6h0M89.6 294.9h0M90.0 295.0h0M90.5 294.8h0M90.9 297.1h0M91.4 295.6h0M91.8 295.2h0M92.3 295.8h0M92.7 296.1h0M93.1 295.9h0M93.6 294.1h0M94.0 296.5h0M94.5 295.7h0M94.9 295.8h0M95.4 296.5h0M95.8 295.7h0M96.3 296.1h0M96.7 295.4h0M97.2 296.9h0M97.6 296.6h0M98.1 295.3h0M98.5 296.6h0M99.0 295.7h0M99.4 296.8h0M99.8 295.0h0M100.3 293.9h0M100.7 294.2h0M101.2 294.2h0M101.6 296.5h0M102.1 295.5h0M102.5 296.0h0M103.0 294.9h0M103.4 295.0h0M103.9 296.6h0M104.3 296.1h0M104.8 295.5h0M105.2 295.9h0M105.7 295.6h0M106.1 296.6h0M106.5 297.1h0M107.0 296.6h0M107.4 295.0h0M107.9 296.3h0M108.3 295.0h0M108.8 295.7h0M109.2 297.3h0M109.7 297.0h0M110.1 295.6h0M110.6 293.7h0M111.0 296.4h0M111.5 295.9h0M111.9 296.0h0M112.4 297.6h0M112.8 297.3h0M113.2 296.7h0M113.7 296.1h0M114.1 296.4h0M114.6 294.6h0M115.0 295.6h0M115.5 296.2h0M115.9 294.1h0M116.4 294.8h0M116.8 296.6h0M117.3 296.1h0M117.7 295.0h0M118.2 297.6h0M118.6 297.8h0M119.1 296.6h0M119.5 297.0h0M119.9 297.1h0M120.4 295.6h0M120.8 295.2h0M121.3 294.5h0M121.7 296.3h0M122.2 297.4h0M122.6 295.8h0M123.1 295.9h0M123.5 295.6h0M124.0 296.6h0M124.4 298.1h0M124.9 295.4h0M125.3 297.2h0M125.8 296.5h0M126.2 296.4h0M126.6 296.5h0M127.1 294.9h0M127.5 298.6h0M128.0 295.7h0M128.4 295.5h0M128.9 296.3h0M129.3 296.2h0M129.8 296.8h0M130.2 295.4h0M130.7 295.8h0M131.1 296.1h0M131.6 296.5h0M132.0 295.8h0M132.5 296.8h0M132.9 294.2h0M133.3 296.2h0M133.8 294.5h0M134.2 294.8h0M134.7 296.0h0M135.1 296.6h0M135.6 297.2h0M136.0 296.5h0M136.5 297.0h0M136.9 295.8h0M137.4 297.2h0M137.8 296.2h0M138.3 296.4h0M138.7 295.5h0M139.2 296.7h0M139.6 294.4h0M140.0 295.3h0M140.5 296.6h0M140.9 296.7h0M141.4 296.5h0M141.8 296.0h0M142.3 294.6h0M142.7 295.3h0M143.2 294.6h0M143.6 293.7h0M144.1 295.7h0M144.5 296.4h0M145.0 295.7h0M145.4 294.9h0M145.9 296.0h0M146.3 295.4h0M146.7 295.3h0M147.2 295.3h0M147.6 295.8h0M148.1 296.9h0M148.5 297.6h0M148.9 263.3h0M149.4 270.8h0M150.3 266.4h0M150.7 265.5h0M151.2 262.3h0M151.6 270.0h0M152.1 265.8h0M153.9 267.9h0M154.3 266.3h0M155.2 267.2h0M156.1 265.2h0M157.0 266.2h0M157.4 264.7h0M157.9 264.2h0M159.7 269.4h0M161.0 262.8h0M161.5 264.3h0M162.4 264.7h0M163.2 252.7h0M163.7 265.5h0M164.6 268.8h0M165.5 264.7h0M165.9 263.6h0M166.4 264.0h0M167.3 266.6h0M167.7 267.4h0M168.2 272.9h0M169.1 264.0h0M169.5 265.2h0M170.0 256.4h0M170.4 225.0h0M170.8 254.9h0M171.3 265.9h0M171.7 267.2h0M174.0 262.0h0M174.4 274.2h0M174.9 269.7h0M175.3 279.7h0M175.8 274.0h0M176.2 266.7h0M176.7 271.4h0M177.1 265.6h0M177.5 263.6h0M178.4 264.6h0M179.3 267.9h0M179.8 265.4h0M181.1 263.5h0M182.0 259.2h0M182.5 258.9h0M182.9 268.2h0M183.4 263.2h0M183.8 262.6h0M184.3 263.2h0M184.7 264.9h0M185.6 260.1h0M186.0 264.0h0M186.9 267.4h0M187.4 260.1h0M187.8 263.7h0M188.3 263.3h0M189.2 256.1h0M190.1 259.1h0M190.5 261.9h0M191.0 273.9h0M191.4 264.7h0M191.9 262.4h0M192.7 255.0h0M193.2 261.9h0M193.6 262.9h0M194.1 242.3h0M194.5 256.1h0M195.4 271.6h0M195.9 267.2h0M196.3 261.6h0M196.8 260.0h0M197.2 262.9h0M197.7 257.3h0M198.1 269.0h0M198.6 254.2h0M199.0 265.0h0M199.9 258.5h0M200.3 264.9h0M200.8 265.1h0M201.2 263.6h0M201.7 258.1h0M202.1 266.1h0M202.6 261.7h0M203.0 266.9h0M203.5 263.2h0M203.9 261.5h0M204.4 265.5h0M206.2 261.8h0M206.6 267.6h0M207.5 265.9h0M207.9 269.0h0M210.2 270.3h0M211.5 266.8h0M212.0 270.0h0M212.4 278.0h0M212.9 272.1h0M213.8 269.7h0M214.2 269.8h0M214.7 272.3h0M215.1 271.5h0M215.5 270.9h0M216.0 276.1h0M216.9 274.6h0M217.3 275.6h0M217.8 273.4h0M219.1 279.3h0M219.6 272.8h0M220.0 276.7h0M220.5 266.4h0M220.9 278.0h0M221.4 277.7h0M221.8 281.2h0M222.3 270.0h0M222.7 277.5h0M223.1 273.7h0M224.0 273.3h0M224.5 279.1h0M224.9 273.5h0M225.4 277.6h0M226.3 276.7h0M226.7 277.8h0M227.2 277.8h0M227.6 281.2h0M228.1 282.5h0M228.5 282.2h0M229.8 282.6h0M230.7 275.8h0M231.2 282.0h0M231.6 274.4h0M232.1 281.1h0M232.5 276.7h0M233.0 277.7h0M233.4 278.6h0M233.9 279.3h0M234.3 289.3h0M234.8 277.0h0M235.2 282.9h0M235.7 282.7h0M236.1 274.5h0M236.6 279.8h0M237.0 278.0h0M238.3 277.4h0M240.6 280.3h0M241.0 280.8h0M241.5 278.4h0M241.9 281.1h0M242.8 279.0h0M243.3 283.7h0M243.7 237.0h0M244.2 217.8h0M244.6 275.8h0M245.5 279.3h0M245.9 277.5h0M246.4 278.7h0M247.7 281.5h0M248.2 275.5h0M248.6 266.7h0M249.1 280.5h0M250.0 278.1h0M251.3 270.7h0M252.2 271.0h0M253.1 275.9h0M253.5 276.2h0M254.0 280.4h0M254.4 276.6h0M254.9 270.6h0M255.3 275.3h0M255.8 277.4h0M256.2 281.1h0M256.7 271.0h0M257.1 275.1h0M257.6 275.5h0M258.9 272.6h0M260.2 275.1h0M260.7 270.4h0M261.6 269.2h0M262.0 267.6h0M262.5 276.2h0M262.9 272.1h0M263.4 267.6h0M264.7 269.9h0M265.2 263.6h0M265.6 261.6h0M266.5 261.0h0M267.0 255.6h0M268.3 252.3h0"/>
<path stroke="#00ff00" d="M26.6 297.7h0M27.0 298.0h0M27.5 298.2h0M27.9 294.7h0M28.4 297.0h0M28.8 296.7h0M29.3 299.2h0M29.7 298.0h0M30.2 299.8h0M30.6 299.4h0M31.1 297.3h0M31.5 295.9h0M32.0 295.9h0M32.4 297.4h0M32.9 295.3h0M33.3 299.5h0M33.7 297.4h0M34.2 297.2h0M34.6 298.0h0M35.1 298.3h0M35.5 297.3h0M36.0 298.1h0M36.4 298.5h0M36.9 297.7h0M37.3 296.5h0M37.8 296.0h0M38.2 299.1h0M38.7 298.5h0M39.1 299.0h0M39.6 297.3h0M40.0 296.3h0M40.4 297.3h0M40.9 299.0h0M41.3 298.2h0M41.8 297.7h0M42.2 298.3h0M42.7 299.5h0M43.1 297.2h0M43.6 297.6h0M44.0 299.7h0M44.5 297.9h0M44.9 298.1h0M45.4 298.4h0M45.8 299.5h0M46.3 298.3h0M46.7 297.3h0M47.1 298.4h0M47.6 299.3h0M48.0 297.3h0M48.5 299.1h0M48.9 300.2h0M49.4 297.5h0M49.8 297.7h0M50.3 297.2h0M50.7 298.3h0M51.2 298.5h0M51.6 299.6h0M52.1 298.3h0M52.5 297.8h0M53.0 300.9h0M53.4 297.9h0M53.8 300.0h0M54.3 299.5h0M54.7 298.8h0M55.2 298.4h0M55.6 298.2h0M56.1 297.9h0M56.5 297.4h0M57.0 298.2h0M57.4 299.5h0M57.9 297.7h0M58.3 297.3h0M58.8 298.7h0M59.2 298.3h0M59.7 299.8h0M60.1 298.7h0M60.5 299.2h0M61.0 299.4h0M61.4 298.8h0M61.9 297.8h0M62.3 299.2h0M62.8 297.6h0M63.2 301.3h0M63.7 298.2h0M64.1 299.4h0M64.6 297.2h0M65.0 298.1h0M65.5 300.7h0M65.9 297.7h0M66.4 297.9h0M66.8 299.1h0M67.2 299.2h0M67.7 299.0h0M68.1 297.3h0M68.6 296.6h0M69.0 297.7h0M69.5 299.5h0M69.9 297.1h0M70.4 298.5h0M70.8 299.6h0M71.3 299.1h0M71.7 298.1h0M72.2 299.9h0M72.6 297.8h0M73.1 298.6h0M73.5 300.7h0M73.9 297.5h0M74.4 300.3h0M74.8 298.7h0M75.3 298.1h0M75.7 297.4h0M76.2 298.8h0M76.6 299.5h0M77.1 298.4h0M77.5 297.9h0M78.0 297.3h0M78.4 298.9h0M78.9 299.4h0M79.3 298.4h0M79.8 298.7h0M80.2 297.9h0M80.6 297.5h0M81.1 299.6h0M81.5 298.7h0M82.0 299.4h0M82.4 297.3h0M82.9 298.9h0M83.3 299.8h0M83.8 298.3h0M84.2 299.1h0M84.7 298.0h0M85.1 297.2h0M85.6 297.6h0M86.0 298.3h0M86.5 299.3h0M86.9 300.1h0M87.3 300.1h0M87.8 297.9h0M88.2 298.4h0M88.7 297.9h0M89.1 299.4h0M89.6 298.4h0M90.0 298.8h0M90.5 298.6h0M90.9 298.9h0M91.4 298.9h0M91.8 297.8h0M92.3 298.6h0M92.7 297.7h0M93.1 298.5h0M93.6 297.9h0M94.0 299.1h0M94.5 298.2h0M94.9 298.2h0M95.4 299.6h0M95.8 298.2h0M96.3 299.1h0M96.7 298.3h0M97.2 298.5h0M97.6 299.7h0M98.1 298.3h0M98.5 296.5h0M99.0 297.6h0M99.4 299.9h0M99.8 299.8h0M100.3 296.9h0M100.7 298.3h0M101.2 297.9h0M101.6 299.8h0M102.1 299.4h0M102.5 300.2h0M103.0 299.1h0M103.4 297.1h0M103.9 297.6h0M104.3 297.7h0M104.8 297.6h0M105.2 298.4h0M105.7 297.9h0M106.1 298.0h0M106.5 298.7h0M107.0 300.8h0M107.4 298.3h0M107.9 299.3h0M108.3 300.1h0M108.8 299.1h0M109.2 300.0h0M109.7 299.5h0M110.1 300.0h0M110.6 300.7h0M111.0 299.8h0M111.5 299.4h0M111.9 297.3h0M112.4 298.6h0M112.8 298.9h0M113.2 298.7h0M113.7 300.6h0M114.1 298.9h0M114.6 300.1h0M115.0 299.4h0M115.5 299.9h0M115.9 298.0h0M116.4 298.0h0M116.8 298.5h0M117.3 299.7h0M117.7 297.4h0M118.2 300.6h0M118.6 297.4h0M119.1 298.6h0M119.5 299.7h0M119.9 298.9h0M120.4 299.5h0M120.8 298.7h0M121.3 299.9h0M121.7 297.6h0M122.2 300.4h0M122.6 299.0h0M123.1 298.7h0M123.5 300.0h0M124.0 298.3h0M124.4 299.4h0M124.9 299.3h0M125.3 299.0h0M125.8 299.3h0M126.2 300.4h0M126.6 298.1h0M127.1 299.4h0M127.5 299.3h0M128.0 300.2h0M128.4 298.1h0M128.9 299.4h0M129.3 301.1h0M129.8 299.7h0M130.2 301.3h0M130.7 298.3h0M131.1 299.8h0M131.6 299.9h0M132.0 298.2h0M132.5 301.0h0M132.9 301.7h0M133.3 300.9h0M133.8 301.2h0M134.2 300.2h0M134.7 298.6h0M135.1 300.3h0M135.6 299.5h0M136.0 299.4h0M136.5 298.5h0M136.9 299.2h0M137.4 298.4h0M137.8 300.1h0M138.3 300.2h0M138.7 300.9h0M139.2 299.6h0M139.6 298.2h0M140.0 300.0h0M140.5 300.2h0M140.9 298.7h0M141.4 297.0h0M141.8 299.7h0M142.3 299.2h0M142.7 299.7h0M143.2 298.0h0M143.6 297.2h0M144.1 300.1h0M144.5 299.3h0M145.0 299.1h0M145.4 298.5h0M145.9 298.6h0M146.3 299.8h0M146.7 299.2h0M147.2 300.5h0M147.6 299.8h0M148.1 300.2h0M148.5 299.3h0M148.9 295.5h0M149.4 294.6h0M149.8 294.8h0M150.3 291.9h0M150.7 294.3h0M151.2 292.1h0M151.6 293.4h0M152.1 283.3h0M152.5 292.6h0M154.3 291.5h0M154.8 289.3h0M155.6 289.1h0M156.5 290.0h0M157.0 289.4h0M157.4 286.3h0M157.9 288.8h0M160.1 285.3h0M160.6 287.9h0M161.0 284.0h0M161.9 288.2h0M162.4 288.2h0M162.8 288.9h0M163.2 288.9h0M163.7 283.2h0M164.6 286.7h0M165.0 285.8h0M165.5 283.5h0M165.9 285.1h0M166.4 286.0h0M167.7 295.2h0M168.2 286.1h0M169.1 283.8h0M169.5 285.2h0M170.8 282.8h0M171.3 232.0h0M171.7 244.5h0M172.6 288.1h0M173.1 276.7h0M174.0 281.6h0M174.4 283.4h0M174.9 281.1h0M175.8 287.0h0M176.2 282.3h0M176.7 281.7h0M177.1 282.2h0M177.5 282.3h0M178.0 281.0h0M178.4 283.9h0M178.9 284.6h0M179.3 282.8h0M180.2 284.0h0M180.7 281.4h0M181.6 275.3h0M182.0 283.2h0M182.9 280.7h0M183.4 280.8h0M183.8 276.4h0M184.3 282.9h0M184.7 278.2h0M185.1 278.2h0M185.6 269.5h0M186.5 279.0h0M186.9 279.4h0M187.8 278.5h0M188.7 280.6h0M189.2 272.1h0M189.6 272.7h0M190.1 278.1h0M190.5 277.0h0M191.0 277.9h0M191.4 280.3h0M191.9 270.1h0M192.7 286.7h0M193.2 279.6h0M194.5 277.3h0M195.4 276.8h0M195.9 272.9h0M196.3 277.5h0M196.8 280.8h0M197.2 276.1h0M197.7 278.7h0M198.1 280.3h0M198.6 280.8h0M199.5 278.1h0M199.9 278.4h0M200.3 280.4h0M200.8 278.0h0M201.2 278.6h0M201.7 279.1h0M202.1 277.8h0M202.6 277.9h0M203.0 282.6h0M203.9 282.9h0M204.4 281.3h0M204.8 281.3h0M205.3 282.5h0M205.7 276.0h0M206.2 280.9h0M206.6 288.7h0M207.5 280.1h0M207.9 291.1h0M208.4 282.9h0M208.8 283.9h0M209.3 285.8h0M209.7 286.9h0M212.0 288.8h0M212.4 289.0h0M213.8 287.4h0M214.2 289.1h0M214.7 284.3h0M215.1 287.6h0M215.5 285.9h0M216.9 290.7h0M217.3 285.6h0M217.8 288.0h0M218.7 288.3h0M219.1 288.8h0M219.6 286.7h0M221.4 289.5h0M223.1 289.8h0M224.0 289.2h0M224.5 293.5h0M225.4 283.3h0M225.8 294.7h0M226.7 293.3h0M227.2 290.2h0M228.1 289.1h0M228.5 293.6h0M229.0 291.2h0M229.4 292.4h0M230.3 293.8h0M231.2 293.0h0M231.6 291.5h0M232.1 302.1h0M233.4 296.3h0M234.3 295.9h0M236.1 288.3h0M236.6 295.4h0M237.4 294.1h0M237.9 295.4h0M238.8 299.9h0M239.2 294.4h0M240.6 296.9h0M241.5 293.9h0M241.9 298.1h0M242.4 291.8h0M242.8 298.7h0M243.3 289.5h0M243.7 298.4h0M244.2 292.7h0M244.6 227.7h0M245.0 294.3h0M245.5 249.0h0M246.4 295.4h0M246.8 297.3h0M247.3 296.7h0M247.7 297.2h0M248.2 299.1h0M248.6 302.8h0M249.1 299.0h0M249.5 298.9h0M250.4 288.9h0M250.9 294.5h0M251.8 300.1h0M252.2 296.8h0M252.6 297.3h0M253.1 292.4h0M253.5 296.6h0M254.0 296.9h0M254.4 298.4h0M255.3 294.8h0M255.8 292.7h0M256.2 293.6h0M256.7 289.8h0M257.6 284.3h0M258.0 291.8h0M258.9 286.8h0M259.8 288.4h0M260.2 285.5h0M261.1 282.6h0M262.0 285.8h0M262.9 282.4h0M263.8 280.4h0M264.7 279.2h0M265.6 273.5h0M266.1 272.1h0M267.4 266.8h0M267.8 265.6h0M268.3 265.2h0"/>
<path stroke="#0000ff" d="M26.6 275.8h0M27.0 277.7h0M27.5 272.4h0M27.9 273.0h0M28.4 275.3h0M28.8 275.9h0M29.3 279.3h0M29.7 276.8h0M30.2 273.6h0M30.6 274.4h0M31.1 275.1h0M31.5 277.0h0M32.0 275.8h0M32.4 273.6h0M32.9 274.0h0M33.3 274.8h0M33.7 273.1h0M34.2 275.5h0M34.6 274.8h0M35.1 275.1h0M35.5 274.6h0M36.0 272.2h0M36.4 273.8h0M36.9 273.8h0M37.3 274.3h0M37.8 275.4h0M38.2 274.7h0M38.7 277.9h0M39.1 274.2h0M39.6 273.4h0M40.0 274.8h0M40.4 274.3h0M40.9 276.8h0M41.3 275.5h0M41.8 274.6h0M42.2 275.6h0M42.7 276.3h0M43.1 276.7h0M43.6 276.8h0M44.0 273.2h0M44.5 277.9h0M44.9 273.2h0M45.4 273.1h0M45.8 271.2h0M46.3 275.5h0M46.7 273.0h0M47.1 277.9h0M47.6 276.6h0M48.0 276.5h0M48.5 276.8h0M48.9 275.5h0M49.4 275.6h0M49.8 279.6h0M50.3 275.2h0M50.7 275.3h0M51.2 276.3h0M51.6 271.7h0M52.1 273.0h0M52.5 275.7h0M53.0 275.6h0M53.4 274.1h0M53.8 277.1h0M54.3 273.7h0M54.7 274.6h0M55.2 273.7h0M55.6 279.3h0M56.1 276.8h0M56.5 277.1h0M57.0 275.4h0M57.4 273.1h0M57.9 276.1h0M58.3 274.8h0M58.8 275.0h0M59.2 275.3h0M59.7 272.3h0M60.1 275.6h0M60.5 276.0h0M61.0 275.1h0M61.4 274.8h0M61.9 275.6h0M62.3 275.1h0M62.8 273.6h0M63.2 280.0h0M63.7 275.7h0M64.1 277.6h0M64.6 273.3h0M65.0 274.0h0M65.5 273.4h0M65.9 274.0h0M66.4 278.0h0M66.8 274.7h0M67.2 271.0h0M67.7 276.0h0M68.1 275.6h0M68.6 275.9h0M69.0 276.4h0M69.5 271.6h0M69.9 277.3h0M70.4 274.8h0M70.8 275.4h0M71.3 275.4h0M71.7 276.8h0M72.2 272.9h0M72.6 273.5h0M73.1 272.5h0M73.5 278.9h0M73.9 278.7h0M74.4 272.0h0M74.8 276.5h0M75.3 274.8h0M75.7 275.4h0M76.2 275.8h0M76.6 277.3h0M77.1 276.6h0M77.5 275.7h0M78.0 276.7h0M78.4 273.9h0M78.9 277.5h0M79.3 275.1h0M79.8 278.2h0M80.2 274.8h0M80.6 274.1h0M81.1 281.6h0M81.5 272.0h0M82.0 275.6h0M82.4 276.9h0M82.9 274.5h0M83.3 277.0h0M83.8 274.1h0M84.2 276.3h0M84.7 277.4h0M85.1 278.5h0M85.6 276.0h0M86.0 276.0h0M86.5 276.1h0M86.9 276.9h0M87.3 276.7h0M87.8 277.7h0M88.2 275.0h0M88.7 278.5h0M89.1 276.5h0M89.6 275.4h0M90.0 277.3h0M90.5 277.1h0M90.9 273.6h0M91.4 275.8h0M91.8 274.0h0M92.3 276.1h0M92.7 273.7h0M93.1 275.4h0M93.6 281.8h0M94.0 276.5h0M94.5 277.2h0M94.9 276.1h0M95.4 277.1h0M95.8 278.6h0M96.3 277.3h0M96.7 277.2h0M97.2 276.2h0M97.6 276.9h0M98.1 276.3h0M98.5 278.1h0M99.0 283.0h0M99.4 276.8h0M99.8 275.2h0M100.3 278.3h0M100.7 274.5h0M101.2 279.3h0M101.6 278.8h0M102.1 279.3h0M102.5 282.4h0M103.0 281.5h0M103.4 277.7h0M103.9 280.4h0M104.3 275.9h0M104.8 277.0h0M105.2 280.7h0M105.7 280.8h0M106.1 279.4h0M106.5 281.2h0M107.0 280.5h0M107.4 283.5h0M107.9 281.2h0M108.3 284.2h0M108.8 280.6h0M109.2 280.5h0M109.7 282.7h0M110.1 279.7h0M110.6 279.5h0M111.0 279.1h0M111.5 282.2h0M111.9 282.3h0M112.4 282.6h0M112.8 280.0h0M113.2 279.2h0M113.7 282.6h0M114.1 282.5h0M114.6 281.7h0M115.0 283.3h0M115.5 281.9h0M115.9 281.4h0M116.4 285.7h0M116.8 281.8h0M117.3 284.7h0M117.7 282.8h0M118.2 285.0h0M118.6 279.3h0M119.1 283.8h0M119.5 282.4h0M119.9 278.2h0M120.4 285.1h0M120.8 284.7h0M121.3 285.0h0M121.7 285.7h0M122.2 285.4h0M122.6 283.4h0M123.1 284.6h0M123.5 280.7h0M124.0 282.5h0M124.4 281.6h0M124.9 285.9h0M125.3 283.5h0M125.8 285.6h0M126.2 283.8h0M126.6 282.6h0M127.1 282.9h0M127.5 282.6h0M128.0 280.8h0M128.4 283.2h0M128.9 282.8h0M129.3 280.8h0M129.8 281.8h0M130.2 282.8h0M130.7 283.3h0M131.1 280.2h0M131.6 281.9h0M132.0 284.6h0M132.5 282.6h0M132.9 283.6h0M133.3 280.9h0M133.8 280.1h0M134.2 284.6h0M134.7 281.3h0M135.1 281.0h0M135.6 280.5h0M136.0 281.0h0M136.5 282.7h0M136.9 279.0h0M137.4 280.1h0M137.8 278.6h0M138.3 277.9h0M138.7 279.9h0M139.2 277.2h0M139.6 277.4h0M140.0 276.1h0M140.5 280.7h0M140.9 278.3h0M141.4 279.9h0M141.8 279.5h0M142.3 277.6h0M142.7 275.1h0M143.2 275.9h0M143.6 277.0h0M144.1 277.3h0M144.5 274.7h0M145.0 279.6h0M145.4 277.7h0M145.9 277.3h0M146.3 276.1h0M146.7 276.8h0M147.2 275.8h0M147.6 278.5h0M148.1 273.8h0M148.5 275.3h0M149.4 246.6h0M150.7 262.1h0M151.2 264.3h0M151.6 257.8h0M152.1 256.5h0M153.0 256.9h0M153.4 259.8h0M153.9 255.1h0M154.3 253.6h0M154.8 254.4h0M155.2 251.4h0M156.1 269.7h0M156.5 256.0h0M157.9 251.1h0M159.2 241.5h0M159.7 258.5h0M160.1 248.2h0M160.6 249.8h0M161.0 251.7h0M161.5 247.0h0M162.8 231.7h0M163.2 245.9h0M163.7 244.8h0M164.1 248.2h0M164.6 248.2h0M165.0 247.7h0M165.5 246.1h0M166.4 244.7h0M167.3 244.0h0M167.7 243.2h0M168.6 243.8h0M169.5 243.0h0M170.0 240.4h0M170.4 236.1h0M170.8 238.3h0M171.3 240.1h0M171.7 241.9h0M172.2 242.3h0M172.6 239.5h0M173.1 240.5h0M174.4 238.4h0M175.3 235.6h0M175.8 236.4h0M177.1 235.3h0M178.0 231.7h0M178.4 234.7h0M178.9 236.5h0M179.8 237.0h0M180.7 242.5h0M181.6 237.7h0M182.0 222.6h0M182.5 235.6h0M182.9 234.3h0M183.4 247.6h0M183.8 227.3h0M184.3 232.2h0M184.7 222.5h0M186.5 228.2h0M186.9 229.3h0M187.4 233.4h0M187.8 225.8h0M189.2 227.0h0M189.6 225.0h0M190.1 224.4h0M190.5 233.7h0M191.0 226.3h0M192.3 221.2h0M192.7 221.3h0M193.2 223.9h0M194.1 224.7h0M194.5 223.5h0M195.0 224.0h0M195.9 219.7h0M197.2 233.2h0M197.7 224.8h0M199.0 219.8h0M199.5 221.6h0M199.9 220.1h0M200.3 221.3h0M200.8 221.5h0M201.2 220.1h0M202.1 222.7h0M202.6 222.2h0M203.0 216.9h0M203.9 232.4h0M204.4 230.3h0M204.8 223.1h0M205.3 219.7h0M205.7 221.2h0M206.6 223.2h0M207.1 220.7h0M207.5 220.8h0M207.9 231.4h0M208.4 230.2h0M209.3 230.4h0M209.7 229.5h0M211.5 228.7h0M212.0 234.0h0M212.4 236.6h0M213.3 241.6h0M214.2 232.6h0M214.7 240.9h0M215.1 245.5h0M215.5 242.3h0M216.4 249.4h0M216.9 241.6h0M217.3 249.6h0M217.8 253.4h0M218.2 240.6h0M219.1 262.7h0M219.6 248.7h0M220.0 253.5h0M220.5 257.4h0M220.9 250.9h0M221.4 241.5h0M221.8 255.4h0M222.3 259.0h0M222.7 258.1h0M223.6 261.1h0M224.5 260.6h0M225.8 255.3h0M226.3 261.1h0M228.5 248.4h0M229.0 259.9h0M229.4 258.2h0M230.3 260.2h0M231.2 260.2h0M231.6 257.5h0M232.1 257.3h0M232.5 263.5h0M233.0 264.2h0M233.4 260.2h0M234.3 264.8h0M234.8 255.9h0M235.2 271.6h0M235.7 265.2h0M236.1 262.4h0M236.6 260.0h0M237.0 263.6h0M237.9 262.0h0M238.3 266.6h0M238.8 268.6h0M239.2 256.9h0M239.7 265.0h0M240.6 260.7h0M241.5 262.1h0M241.9 261.9h0M242.4 259.3h0M242.8 267.2h0M243.7 259.0h0M244.2 255.4h0M244.6 227.9h0M245.5 248.2h0M245.9 259.6h0M246.8 263.2h0M247.3 258.7h0M247.7 261.5h0M248.2 263.7h0M249.1 255.3h0M249.5 264.9h0M250.0 262.3h0M250.4 261.9h0M251.3 260.7h0M253.5 245.4h0M254.0 250.0h0M254.4 245.6h0M255.3 258.9h0M256.2 264.0h0M256.7 259.2h0M257.1 260.7h0M257.6 261.2h0M258.0 255.7h0M258.5 256.6h0M259.4 243.5h0M259.8 252.4h0M260.2 260.4h0M261.6 250.1h0M262.0 255.9h0M262.9 251.6h0M263.4 253.2h0M263.8 248.7h0M265.2 237.3h0M265.6 240.1h0M266.1 235.1h0M266.5 233.3h0M267.0 222.9h0M268.3 227.4h0"/>
<path stroke="#00ffff" d="M26.6 291.6h0M27.0 291.2h0M27.5 291.8h0M27.9 289.0h0M28.4 291.2h0M28.8 291.7h0M29.3 290.3h0M29.7 289.7h0M30.2 290.8h0M30.6 291.6h0M31.1 291.9h0M31.5 291.3h0M32.0 290.5h0M32.4 290.9h0M32.9 289.3h0M33.3 289.9h0M33.7 290.5h0M34.2 291.4h0M34.6 291.6h0M35.1 292.4h0M35.5 291.4h0M36.0 290.5h0M36.4 291.3h0M36.9 290.6h0M37.3 290.0h0M37.8 292.1h0M38.2 292.1h0M38.7 292.0h0M39.1 291.1h0M39.6 291.6h0M40.0 291.7h0M40.4 290.0h0M40.9 290.2h0M41.3 292.7h0M41.8 291.9h0M42.2 291.8h0M42.7 290.7h0M43.1 291.9h0M43.6 292.6h0M44.0 291.4h0M44.5 291.4h0M44.9 289.4h0M45.4 292.8h0M45.8 290.3h0M46.3 293.1h0M46.7 291.6h0M47.1 291.3h0M47.6 291.6h0M48.0 290.7h0M48.5 291.6h0M48.9 291.3h0M49.4 293.5h0M49.8 291.3h0M50.3 290.5h0M50.7 291.4h0M51.2 288.9h0M51.6 291.2h0M52.1 289.4h0M52.5 289.4h0M53.0 291.8h0M53.4 289.0h0M53.8 291.0h0M54.3 290.6h0M54.7 291.0h0M55.2 289.9h0M55.6 293.3h0M56.1 291.3h0M56.5 289.0h0M57.0 291.4h0M57.4 290.8h0M57.9 291.2h0M58.3 289.2h0M58.8 290.7h0M59.2 290.3h0M59.7 290.7h0M60.1 292.0h0M60.5 290.3h0M61.0 290.9h0M61.4 292.3h0M61.9 288.7h0M62.3 291.5h0M62.8 289.8h0M63.2 292.8h0M63.7 290.1h0M64.1 289.9h0M64.6 290.6h0M65.0 291.1h0M65.5 290.6h0M65.9 290.3h0M66.4 291.3h0M66.8 292.2h0M67.2 290.5h0M67.7 291.7h0M68.1 291.6h0M68.6 291.1h0M69.0 289.2h0M69.5 292.3h0M69.9 290.4h0M70.4 291.4h0M70.8 293.1h0M71.3 292.4h0M71.7 291.7h0M72.2 291.8h0M72.6 290.9h0M73.1 293.9h0M73.5 291.2h0M73.9 291.2h0M74.4 292.0h0M74.8 290.0h0M75.3 290.0h0M75.7 289.8h0M76.2 292.5h0M76.6 292.1h0M77.1 290.6h0M77.5 291.8h0M78.0 291.5h0M78.4 291.2h0M78.9 289.2h0M79.3 290.0h0M79.8 290.2h0M80.2 291.0h0M80.6 287.4h0M81.1 291.4h0M81.5 291.4h0M82.0 290.1h0M82.4 289.9h0M82.9 291.4h0M83.3 289.8h0M83.8 290.7h0M84.2 291.7h0M84.7 290.6h0M85.1 290.6h0M85.6 291.7h0M86.0 291.9h0M86.5 291.8h0M86.9 289.4h0M87.3 290.0h0M87.8 291.7h0M88.2 291.5h0M88.7 292.7h0M89.1 291.4h0M89.6 292.0h0M90.0 292.6h0M90.5 293.2h0M90.9 289.6h0M91.4 292.7h0M91.8 291.8h0M92.3 291.5h0M92.7 289.9h0M93.1 292.5h0M93.6 290.7h0M94.0 289.4h0M94.5 291.1h0M94.9 290.8h0M95.4 291.9h0M95.8 291.5h0M96.3 289.4h0M96.7 290.4h0M97.2 293.6h0M97.6 291.4h0M98.1 292.0h0M98.5 289.7h0M99.0 290.7h0M99.4 292.2h0M99.8 290.9h0M100.3 290.6h0M100.7 289.8h0M101.2 291.7h0M101.6 291.2h0M102.1 291.8h0M102.5 292.2h0M103.0 293.0h0M103.4 292.0h0M103.9 291.4h0M104.3 292.3h0M104.8 291.2h0M105.2 291.5h0M105.7 289.8h0M106.1 291.1h0M106.5 290.6h0M107.0 291.2h0M107.4 291.1h0M107.9 291.2h0M108.3 293.7h0M108.8 290.1h0M109.2 292.0h0M109.7 292.7h0M110.1 291.0h0M110.6 291.3h0M111.0 293.2h0M111.5 293.1h0M111.9 290.8h0M112.4 293.3h0M112.8 291.5h0M113.2 291.7h0M113.7 292.3h0M114.1 291.7h0M114.6 291.4h0M115.0 292.4h0M115.5 290.4h0M115.9 290.8h0M116.4 292.7h0M116.8 288.9h0M117.3 294.3h0M117.7 290.3h0M118.2 293.6h0M118.6 292.3h0M119.1 293.5h0M119.5 290.1h0M119.9 292.8h0M120.4 293.3h0M120.8 293.0h0M121.3 294.1h0M121.7 293.1h0M122.2 292.8h0M122.6 293.5h0M123.1 293.0h0M123.5 292.7h0M124.0 291.2h0M124.4 293.3h0M124.9 290.9h0M125.3 292.0h0M125.8 292.9h0M126.2 291.9h0M126.6 292.4h0M127.1 292.5h0M127.5 292.1h0M128.0 290.9h0M128.4 292.1h0M128.9 292.4h0M129.3 292.2h0M129.8 292.5h0M130.2 290.9h0M130.7 290.1h0M131.1 292.2h0M131.6 293.0h0M132.0 292.0h0M132.5 291.8h0M132.9 293.4h0M133.3 292.0h0M133.8 292.4h0M134.2 292.8h0M134.7 292.1h0M135.1 292.9h0M135.6 292.8h0M136.0 292.4h0M136.5 291.5h0M136.9 292.1h0M137.4 291.5h0M137.8 293.9h0M138.3 290.1h0M138.7 292.6h0M139.2 291.9h0M139.6 292.9h0M140.0 293.7h0M140.5 292.3h0M140.9 291.8h0M141.4 291.9h0M141.8 295.1h0M142.3 295.4h0M142.7 292.0h0M143.2 292.6h0M143.6 292.6h0M144.1 292.5h0M144.5 291.6h0M145.0 295.1h0M145.4 293.7h0M145.9 294.0h0M146.3 293.1h0M146.7 292.5h0M147.2 293.0h0M147.6 293.6h0M148.1 293.0h0M148.5 294.3h0M148.9 282.5h0M149.4 273.2h0M149.8 279.1h0M150.3 280.8h0M150.7 277.7h0M151.2 277.8h0M151.6 273.0h0M152.5 281.3h0M153.0 278.8h0M153.4 276.2h0M154.8 275.6h0M155.6 273.7h0M157.0 266.4h0M157.4 275.8h0M157.9 277.1h0M158.3 275.8h0M159.7 261.4h0M160.1 273.9h0M160.6 270.0h0M161.0 274.4h0M161.5 272.0h0M161.9 277.1h0M162.4 274.7h0M162.8 280.5h0M164.1 269.6h0M164.6 271.2h0M165.0 270.8h0M165.5 269.8h0M165.9 269.4h0M166.4 280.1h0M166.8 265.8h0M167.3 271.8h0M167.7 267.8h0M168.2 282.9h0M169.5 268.4h0M170.0 269.9h0M170.4 265.0h0M170.8 227.7h0M171.7 267.8h0M172.6 276.0h0M174.0 270.1h0M174.4 266.8h0M174.9 267.1h0M175.8 265.6h0M176.2 269.6h0M176.7 270.0h0M177.1 267.3h0M177.5 269.1h0M178.0 272.5h0M178.9 265.2h0M179.3 268.9h0M179.8 268.0h0M180.2 267.2h0M181.1 265.1h0M181.6 267.1h0M182.5 270.3h0M182.9 264.6h0M183.8 262.1h0M184.3 264.3h0M184.7 265.5h0M185.6 263.0h0M186.0 264.8h0M186.5 266.3h0M186.9 268.5h0M187.4 260.8h0M188.7 265.0h0M189.6 261.0h0M190.1 256.7h0M190.5 261.7h0M191.4 262.9h0M192.3 267.4h0M192.7 262.8h0M193.2 262.9h0M193.6 264.1h0M194.1 262.3h0M194.5 266.1h0M195.0 261.6h0M195.4 261.7h0M195.9 261.5h0M196.3 262.9h0M196.8 264.6h0M197.2 264.4h0M198.6 259.7h0M199.5 269.8h0M199.9 266.8h0M200.3 262.9h0M200.8 270.4h0M202.6 259.4h0M203.5 261.4h0M204.8 265.8h0M205.3 265.3h0M205.7 253.0h0M206.2 268.9h0M206.6 264.4h0M207.1 262.6h0M207.5 264.7h0M207.9 271.2h0M209.3 267.6h0M209.7 271.6h0M210.2 265.5h0M210.6 271.5h0M211.1 268.8h0M211.5 270.6h0M212.0 270.7h0M212.4 270.4h0M212.9 266.5h0M213.3 273.6h0M214.2 265.8h0M214.7 273.6h0M215.5 268.9h0M216.9 280.0h0M217.3 274.9h0M218.2 270.1h0M219.1 274.7h0M219.6 278.5h0M220.0 274.6h0M220.5 265.7h0M220.9 274.6h0M221.4 273.9h0M221.8 276.5h0M222.3 279.3h0M223.6 275.3h0M224.0 277.2h0M224.9 275.4h0M225.4 278.5h0M227.6 276.2h0M228.1 272.4h0M229.4 281.4h0M229.8 278.5h0M230.3 279.0h0M230.7 278.2h0M231.2 287.0h0M231.6 288.3h0M232.1 285.5h0M232.5 287.1h0M233.0 285.8h0M233.4 281.2h0M233.9 288.7h0M234.8 285.9h0M235.2 278.4h0M235.7 275.4h0M236.1 284.1h0M236.6 269.7h0M237.0 281.2h0M238.3 287.8h0M238.8 280.1h0M239.7 280.4h0M240.6 281.5h0M241.0 276.7h0M241.5 281.6h0M241.9 274.6h0M242.4 283.8h0M243.3 281.1h0M243.7 285.7h0M244.2 283.5h0M244.6 222.7h0M245.0 288.5h0M245.9 285.6h0M247.3 285.3h0M247.7 280.9h0M248.2 286.2h0M248.6 280.2h0M249.1 281.2h0M250.0 284.6h0M250.4 285.8h0M250.9 289.4h0M251.3 285.6h0M251.8 280.0h0M252.2 283.0h0M252.6 288.0h0M253.5 270.1h0M254.0 285.0h0M255.3 283.4h0M255.8 279.9h0M256.7 282.2h0M257.1 282.9h0M257.6 283.0h0M258.5 278.7h0M258.9 284.2h0M260.2 286.5h0M260.7 271.9h0M261.1 278.1h0M261.6 273.8h0M262.0 270.6h0M262.9 276.5h0M263.4 283.0h0M263.8 281.1h0M264.3 271.7h0M264.7 273.5h0M266.1 266.1h0M267.0 266.6h0M267.4 260.1h0M267.8 257.4h0"/>
<path stroke="#ff00ff" d="M26.6 287.5h0M27.0 285.6h0M27.5 285.6h0M27.9 285.9h0M28.4 286.9h0M28.8 286.3h0M29.3 287.6h0M29.7 288.0h0M30.2 283.8h0M30.6 286.6h0M31.1 286.4h0M31.5 286.7h0M32.0 285.6h0M32.4 286.0h0M32.9 286.1h0M33.3 284.7h0M33.7 283.6h0M34.2 285.9h0M34.6 285.9h0M35.1 286.4h0M35.5 287.4h0M36.0 285.9h0M36.4 287.0h0M36.9 283.8h0M37.3 285.5h0M37.8 285.1h0M38.2 287.9h0M38.7 287.1h0M39.1 287.6h0M39.6 286.8h0M40.0 287.8h0M40.4 286.0h0M40.9 285.2h0M41.3 285.7h0M41.8 285.5h0M42.2 286.9h0M42.7 284.8h0M43.1 287.3h0M43.6 285.4h0M44.0 287.3h0M44.5 283.2h0M44.9 287.0h0M45.4 286.1h0M45.8 286.8h0M46.3 284.7h0M46.7 287.0h0M47.1 288.6h0M47.6 285.9h0M48.0 284.9h0M48.5 287.4h0M48.9 289.0h0M49.4 287.2h0M49.8 285.7h0M50.3 286.4h0M50.7 284.1h0M51.2 285.8h0M51.6 286.9h0M52.1 286.0h0M52.5 287.6h0M53.0 287.3h0M53.4 284.9h0M53.8 286.5h0M54.3 286.1h0M54.7 286.6h0M55.2 288.0h0M55.6 286.1h0M56.1 288.0h0M56.5 285.8h0M57.0 284.8h0M57.4 285.9h0M57.9 284.3h0M58.3 286.9h0M58.8 287.5h0M59.2 285.1h0M59.7 285.6h0M60.1 284.9h0M60.5 286.1h0M61.0 287.7h0M61.4 287.4h0M61.9 284.1h0M62.3 285.1h0M62.8 286.1h0M63.2 287.6h0M63.7 286.7h0M64.1 284.5h0M64.6 285.2h0M65.0 284.6h0M65.5 284.6h0M65.9 284.0h0M66.4 284.6h0M66.8 288.6h0M67.2 272.4h0M67.7 284.6h0M68.1 286.3h0M68.6 284.9h0M69.0 285.1h0M69.5 285.0h0M69.9 284.4h0M70.4 284.6h0M70.8 283.9h0M71.3 284.2h0M71.7 283.6h0M72.2 286.4h0M72.6 285.0h0M73.1 284.1h0M73.5 286.3h0M73.9 286.3h0M74.4 284.4h0M74.8 284.4h0M75.3 286.8h0M75.7 285.5h0M76.2 286.7h0M76.6 283.3h0M77.1 283.9h0M77.5 287.7h0M78.0 285.4h0M78.4 282.9h0M78.9 284.1h0M79.3 283.9h0M79.8 283.2h0M80.2 285.2h0M80.6 284.8h0M81.1 284.8h0M81.5 287.6h0M82.0 284.3h0M82.4 284.5h0M82.9 286.0h0M83.3 284.5h0M83.8 283.2h0M84.2 284.1h0M84.7 283.6h0M85.1 286.0h0M85.6 286.1h0M86.0 283.7h0M86.5 284.1h0M86.9 285.5h0M87.3 286.1h0M87.8 287.8h0M88.2 283.3h0M88.7 284.4h0M89.1 286.6h0M89.6 283.6h0M90.0 284.4h0M90.5 283.7h0M90.9 286.5h0M91.4 288.1h0M91.8 285.1h0M92.3 282.5h0M92.7 285.3h0M93.1 286.9h0M93.6 281.8h0M94.0 285.9h0M94.5 283.4h0M94.9 282.3h0M95.4 285.9h0M95.8 285.9h0M96.3 285.6h0M96.7 284.8h0M97.2 282.6h0M97.6 283.6h0M98.1 284.9h0M98.5 281.9h0M99.0 285.5h0M99.4 285.5h0M99.8 283.6h0M100.3 284.2h0M100.7 284.1h0M101.2 285.4h0M101.6 284.6h0M102.1 285.3h0M102.5 283.9h0M103.0 284.2h0M103.4 285.5h0M103.9 285.6h0M104.3 286.4h0M104.8 284.1h0M105.2 285.4h0M105.7 284.4h0M106.1 283.3h0M106.5 283.9h0M107.0 284.7h0M107.4 288.4h0M107.9 282.3h0M108.3 283.1h0M108.8 284.6h0M109.2 284.8h0M109.7 282.6h0M110.1 286.9h0M110.6 285.4h0M111.0 282.3h0M111.5 282.3h0M111.9 283.0h0M112.4 287.2h0M112.8 287.0h0M113.2 285.4h0M113.7 284.1h0M114.1 285.4h0M114.6 287.1h0M115.0 283.8h0M115.5 284.7h0M115.9 283.2h0M116.4 285.0h0M116.8 282.7h0M117.3 285.2h0M117.7 285.9h0M118.2 283.2h0M118.6 281.8h0M119.1 286.2h0M119.5 287.1h0M119.9 282.2h0M120.4 284.1h0M120.8 282.8h0M121.3 285.3h0M121.7 285.5h0M122.2 283.6h0M122.6 284.1h0M123.1 285.4h0M123.5 282.1h0M124.0 283.3h0M124.4 285.3h0M124.9 284.9h0M125.3 286.3h0M125.8 283.1h0M126.2 282.7h0M126.6 286.0h0M127.1 286.5h0M127.5 282.9h0M128.0 281.7h0M128.4 280.7h0M128.9 285.5h0M129.3 285.4h0M129.8 284.6h0M130.2 284.7h0M130.7 286.2h0M131.1 285.2h0M131.6 283.1h0M132.0 281.3h0M132.5 285.7h0M132.9 283.4h0M133.3 283.6h0M133.8 286.1h0M134.2 286.1h0M134.7 283.9h0M135.1 283.9h0M135.6 284.3h0M136.0 284.3h0M136.5 284.9h0M136.9 282.9h0M137.4 279.2h0M137.8 282.8h0M138.3 283.7h0M138.7 281.3h0M139.2 282.4h0M139.6 282.7h0M140.0 281.6h0M140.5 280.8h0M140.9 283.5h0M141.4 282.4h0M141.8 282.9h0M142.3 282.1h0M142.7 283.0h0M143.2 282.0h0M143.6 281.4h0M144.1 283.0h0M144.5 280.7h0M145.0 281.8h0M145.4 280.9h0M145.9 285.0h0M146.3 283.6h0M146.7 282.3h0M147.2 283.8h0M147.6 281.0h0M148.1 283.6h0M148.5 282.9h0M148.9 278.3h0M149.4 281.8h0M149.8 274.0h0M150.3 282.9h0M151.2 278.9h0M151.6 272.1h0M152.1 275.7h0M153.0 272.4h0M153.4 274.5h0M153.9 277.1h0M155.6 270.4h0M156.1 274.7h0M156.5 276.2h0M157.0 273.1h0M157.4 272.6h0M157.9 274.3h0M158.3 272.0h0M158.8 273.5h0M159.7 275.0h0M160.6 271.6h0M161.0 272.2h0M161.5 274.5h0M161.9 276.4h0M162.4 260.0h0M162.8 272.9h0M163.2 266.6h0M164.1 267.9h0M165.0 268.2h0M165.5 267.1h0M165.9 270.6h0M166.8 262.1h0M168.2 273.7h0M168.6 270.4h0M169.1 275.8h0M170.0 266.6h0M170.4 272.5h0M170.8 229.8h0M171.3 239.2h0M172.6 267.1h0M173.5 270.4h0M174.0 266.0h0M174.4 261.1h0M175.3 265.2h0M176.2 254.5h0M176.7 266.1h0M177.1 266.8h0M177.5 268.5h0M178.0 267.9h0M178.4 263.7h0M178.9 269.1h0M179.3 267.4h0M179.8 262.1h0M180.7 265.0h0M181.6 264.7h0M182.0 262.0h0M182.9 265.2h0M183.8 266.3h0M184.7 266.3h0M185.6 263.6h0M186.5 263.7h0M186.9 271.3h0M187.4 266.0h0M187.8 266.6h0M188.7 263.6h0M189.2 266.6h0M190.1 266.4h0M190.5 261.3h0M191.0 264.5h0M191.4 262.3h0M191.9 260.7h0M192.3 257.3h0M192.7 261.9h0M193.2 268.7h0M194.1 259.6h0M195.0 269.2h0M195.4 270.3h0M195.9 261.7h0M196.3 264.5h0M196.8 265.0h0M197.2 264.5h0M197.7 263.6h0M198.6 264.1h0M199.0 261.5h0M199.5 262.8h0M199.9 263.1h0M200.8 254.2h0M201.7 262.3h0M202.1 264.2h0M203.0 263.9h0M203.5 261.1h0M203.9 259.5h0M204.4 266.9h0M205.3 264.8h0M205.7 259.0h0M206.2 262.3h0M206.6 262.7h0M207.1 265.0h0M207.5 261.4h0M208.4 269.1h0M208.8 266.9h0M209.3 270.5h0M209.7 266.4h0M210.2 261.7h0M210.6 257.1h0M211.1 263.6h0M211.5 266.1h0M212.0 263.7h0M212.4 266.2h0M212.9 268.7h0M213.3 271.0h0M214.2 264.4h0M214.7 268.2h0M216.0 271.9h0M216.9 271.9h0M217.3 271.0h0M217.8 267.5h0M218.2 267.0h0M218.7 270.3h0M219.1 272.9h0M219.6 268.8h0M220.0 268.4h0M220.5 267.0h0M220.9 270.7h0M221.4 269.4h0M221.8 270.6h0M222.3 272.7h0M222.7 269.9h0M223.1 274.8h0M224.0 271.5h0M224.5 271.8h0M224.9 274.7h0M225.4 267.9h0M225.8 273.5h0M226.3 273.7h0M226.7 269.6h0M228.1 274.9h0M228.5 273.2h0M229.0 270.4h0M229.4 267.0h0M229.8 272.6h0M230.3 276.3h0M231.2 268.8h0M231.6 268.0h0M232.5 274.6h0M233.0 275.0h0M233.4 270.9h0M233.9 271.3h0M235.2 272.4h0M235.7 273.7h0M236.1 282.4h0M236.6 270.6h0M237.0 272.0h0M238.3 273.5h0M238.8 273.1h0M239.2 272.0h0M239.7 269.1h0M240.1 270.6h0M241.0 271.4h0M241.9 271.4h0M242.8 275.1h0M243.3 274.2h0M243.7 269.9h0M244.2 233.5h0M245.0 237.0h0M245.5 271.8h0M246.4 268.2h0M247.3 273.4h0M247.7 273.8h0M248.2 274.4h0M249.1 269.6h0M249.5 267.3h0M250.4 266.9h0M251.3 268.5h0M251.8 268.5h0M252.2 270.8h0M252.6 262.7h0M253.5 270.3h0M254.0 270.3h0M254.9 269.0h0M255.3 270.9h0M256.2 267.8h0M256.7 268.7h0M257.1 263.9h0M258.0 268.1h0M258.5 265.5h0M258.9 264.1h0M259.4 267.9h0M260.2 263.7h0M260.7 265.9h0M261.1 252.9h0M261.6 268.8h0M262.5 258.7h0M262.9 260.7h0M263.4 261.5h0M263.8 257.5h0M264.3 259.0h0M265.2 256.5h0M266.5 250.2h0M268.3 233.1h0"/>
<path stroke="#ffff00" d="M26.6 296.6h0M27.0 295.8h0M27.5 288.2h0M27.9 296.7h0M28.4 297.2h0M28.8 298.7h0M29.3 296.1h0M29.7 296.3h0M30.2 295.3h0M30.6 295.2h0M31.1 296.2h0M31.5 296.2h0M32.0 296.0h0M32.4 297.3h0M32.9 296.1h0M33.3 296.3h0M33.7 296.6h0M34.2 296.2h0M34.6 294.3h0M35.1 297.5h0M35.5 296.5h0M36.0 298.0h0M36.4 298.2h0M36.9 299.2h0M37.3 297.4h0M37.8 296.8h0M38.2 297.0h0M38.7 298.7h0M39.1 286.3h0M39.6 296.6h0M40.0 294.9h0M40.4 296.7h0M40.9 299.1h0M41.3 300.9h0M41.8 293.8h0M42.2 294.9h0M42.7 297.6h0M43.1 296.5h0M43.6 297.2h0M44.0 295.3h0M44.5 296.8h0M44.9 297.8h0M45.4 298.0h0M45.8 295.2h0M46.3 295.3h0M46.7 296.4h0M47.1 296.3h0M47.6 295.3h0M48.0 299.1h0M48.5 295.4h0M48.9 295.8h0M49.4 298.1h0M49.8 295.0h0M50.3 294.7h0M50.7 296.1h0M51.2 297.5h0M51.6 296.9h0M52.1 296.3h0M52.5 294.9h0M53.0 295.1h0M53.4 298.4h0M53.8 294.8h0M54.3 294.5h0M54.7 296.3h0M55.2 297.3h0M55.6 295.4h0M56.1 299.4h0M56.5 297.5h0M57.0 299.6h0M57.4 295.9h0M57.9 297.4h0M58.3 296.3h0M58.8 296.4h0M59.2 297.1h0M59.7 296.2h0M60.1 296.1h0M60.5 296.1h0M61.0 297.6h0M61.4 298.0h0M61.9 298.7h0M62.3 298.6h0M62.8 297.4h0M63.2 299.4h0M63.7 296.7h0M64.1 297.6h0M64.6 297.4h0M65.0 298.3h0M65.5 297.3h0M65.9 299.5h0M66.4 300.9h0M66.8 297.5h0M67.2 296.8h0M67.7 295.8h0M68.1 297.5h0M68.6 299.6h0M69.0 296.0h0M69.5 299.3h0M69.9 295.8h0M70.4 293.7h0M70.8 296.2h0M71.3 299.7h0M71.7 298.6h0M72.2 297.1h0M72.6 297.5h0M73.1 300.7h0M73.5 295.7h0M73.9 295.9h0M74.4 299.8h0M74.8 296.5h0M75.3 298.1h0M75.7 297.5h0M76.2 295.3h0M76.6 299.3h0M77.1 296.9h0M77.5 299.6h0M78.0 295.8h0M78.4 297.2h0M78.9 298.3h0M79.3 298.5h0M79.8 299.5h0M80.2 296.8h0M80.6 295.2h0M81.1 300.1h0M81.5 295.1h0M82.0 297.6h0M82.4 297.4h0M82.9 299.3h0M83.3 296.5h0M83.8 299.9h0M84.2 297.9h0M84.7 297.4h0M85.1 296.4h0M85.6 296.4h0M86.0 295.0h0M86.5 297.4h0M86.9 297.5h0M87.3 293.8h0M87.8 296.2h0M88.2 296.7h0M88.7 295.5h0M89.1 297.3h0M89.6 296.9h0M90.0 297.3h0M90.5 296.4h0M90.9 295.2h0M91.4 297.6h0M91.8 294.2h0M92.3 297.0h0M92.7 294.6h0M93.1 297.7h0M93.6 297.2h0M94.0 296.7h0M94.5 292.2h0M94.9 296.9h0M95.4 297.0h0M95.8 295.6h0M96.3 296.6h0M96.7 294.9h0M97.2 298.9h0M97.6 296.9h0M98.1 296.2h0M98.5 298.4h0M99.0 298.6h0M99.4 298.7h0M99.8 297.7h0M100.3 299.0h0M100.7 300.4h0M101.2 296.4h0M101.6 297.7h0M102.1 299.8h0M102.5 297.6h0M103.0 296.9h0M103.4 296.7h0M103.9 299.2h0M104.3 299.4h0M104.8 297.4h0M105.2 301.5h0M105.7 300.0h0M106.1 299.3h0M106.5 297.3h0M107.0 298.7h0M107.4 298.9h0M107.9 298.8h0M108.3 295.3h0M108.8 297.8h0M109.2 299.3h0M109.7 303.2h0M110.1 298.0h0M110.6 298.1h0M111.0 297.7h0M111.5 295.6h0M111.9 297.2h0M112.4 298.6h0M112.8 300.4h0M113.2 300.8h0M113.7 298.0h0M114.1 299.2h0M114.6 299.8h0M115.0 299.7h0M115.5 298.2h0M115.9 300.8h0M116.4 301.0h0M116.8 299.5h0M117.3 299.3h0M117.7 301.4h0M118.2 299.3h0M118.6 299.7h0M119.1 301.4h0M119.5 300.5h0M119.9 296.1h0M120.4 303.2h0M120.8 300.2h0M121.3 299.1h0M121.7 299.4h0M122.2 299.9h0M122.6 301.7h0M123.1 297.2h0M123.5 298.2h0M124.0 302.0h0M124.4 297.6h0M124.9 298.8h0M125.3 300.5h0M125.8 299.4h0M126.2 301.1h0M126.6 301.3h0M127.1 301.4h0M127.5 300.5h0M128.0 301.9h0M128.4 302.3h0M128.9 299.2h0M129.3 300.8h0M129.8 301.7h0M130.2 300.5h0M130.7 297.9h0M131.1 301.1h0M131.6 300.0h0M132.0 300.7h0M132.5 299.9h0M132.9 297.0h0M133.3 301.6h0M133.8 301.7h0M134.2 301.3h0M134.7 301.4h0M135.1 298.7h0M135.6 298.8h0M136.0 301.0h0M136.5 301.2h0M136.9 300.2h0M137.4 300.6h0M137.8 300.7h0M138.3 301.9h0M138.7 300.8h0M139.2 300.5h0M139.6 300.1h0M140.0 301.3h0M140.5 300.8h0M140.9 303.4h0M141.4 301.5h0M141.8 300.0h0M142.3 299.9h0M142.7 301.7h0M143.2 300.3h0M143.6 302.5h0M144.1 301.7h0M144.5 300.1h0M145.0 299.5h0M145.4 299.7h0M145.9 301.0h0M146.3 300.9h0M146.7 300.3h0M147.2 302.1h0M147.6 302.4h0M148.1 299.6h0M148.5 303.3h0M148.9 286.2h0M149.4 280.3h0M149.8 286.2h0M150.3 289.1h0M150.7 291.2h0M151.2 288.2h0M151.6 273.2h0M152.1 288.2h0M152.5 289.2h0M153.0 288.2h0M154.3 279.5h0M154.8 290.1h0M155.2 285.9h0M155.6 284.5h0M156.1 283.8h0M157.0 282.2h0M157.4 286.0h0M157.9 290.3h0M158.3 291.2h0M159.2 289.3h0M160.6 277.4h0M161.0 288.7h0M161.5 285.0h0M162.4 281.0h0M163.2 281.6h0M164.6 276.6h0M165.0 287.3h0M165.5 281.3h0M165.9 286.9h0M166.4 284.5h0M166.8 283.2h0M167.3 283.0h0M167.7 281.8h0M168.2 281.4h0M169.5 278.7h0M170.0 290.8h0M170.4 285.9h0M170.8 282.6h0M171.3 269.5h0M171.7 288.2h0M172.6 283.1h0M173.1 279.3h0M173.5 278.5h0M174.0 281.1h0M174.4 278.9h0M174.9 278.6h0M175.3 281.3h0M175.8 276.3h0M176.2 281.0h0M176.7 280.5h0M177.1 278.9h0M177.5 278.1h0M178.0 280.6h0M178.4 278.3h0M178.9 280.9h0M179.3 277.4h0M179.8 281.4h0M180.7 247.8h0M181.1 288.2h0M181.6 247.6h0M182.5 276.4h0M183.4 272.7h0M183.8 277.1h0M184.3 282.2h0M184.7 269.4h0M185.1 270.2h0M185.6 278.7h0M186.0 283.2h0M186.9 277.1h0M187.4 280.8h0M187.8 272.5h0M188.7 281.2h0M189.2 277.2h0M190.1 226.5h0M190.5 272.9h0M191.4 278.2h0M191.9 273.9h0M192.3 279.6h0M192.7 239.8h0M193.2 276.9h0M193.6 271.8h0M194.1 233.9h0M194.5 279.6h0M195.0 280.5h0M195.4 275.7h0M195.9 275.8h0M196.3 273.0h0M196.8 275.0h0M197.2 280.8h0M198.1 273.9h0M198.6 276.1h0M199.5 271.1h0M199.9 278.4h0M200.3 274.0h0M200.8 279.1h0M201.2 236.4h0M201.7 276.9h0M202.1 282.6h0M202.6 249.7h0M203.0 272.6h0M203.5 276.6h0M203.9 272.2h0M204.4 275.9h0M204.8 270.4h0M205.3 287.8h0M206.2 277.6h0M206.6 281.8h0M207.1 216.5h0M208.4 267.7h0M208.8 295.9h0M209.3 278.4h0M209.7 272.1h0M210.2 280.2h0M210.6 293.0h0M211.1 277.7h0M211.5 291.9h0M212.4 280.3h0M212.9 278.3h0M213.3 281.0h0M213.8 285.0h0M214.2 272.5h0M214.7 284.5h0M215.1 283.3h0M216.0 282.8h0M216.4 278.4h0M217.3 281.6h0M218.7 280.2h0M219.1 281.0h0M219.6 292.6h0M220.0 286.7h0M220.5 281.8h0M220.9 280.5h0M221.4 275.4h0M221.8 285.0h0M222.3 285.5h0M223.1 291.0h0M223.6 284.2h0M224.0 282.7h0M224.5 283.3h0M224.9 287.8h0M225.4 288.8h0M225.8 274.9h0M226.3 287.3h0M227.2 287.3h0M227.6 282.8h0M228.5 285.5h0M229.0 285.6h0M229.4 284.5h0M231.6 284.0h0M232.5 283.5h0M233.0 289.5h0M233.4 288.8h0M233.9 294.2h0M234.3 283.4h0M235.2 278.1h0M235.7 288.7h0M236.1 277.3h0M236.6 287.4h0M237.4 285.7h0M238.3 289.3h0M238.8 286.6h0M239.2 298.2h0M239.7 285.2h0M240.1 278.4h0M241.0 292.8h0M241.5 297.4h0M241.9 268.1h0M242.4 220.8h0M242.8 289.6h0M243.3 290.2h0M243.7 217.6h0M244.2 229.6h0M245.9 297.3h0M246.8 281.2h0M247.3 286.9h0M248.6 284.2h0M249.1 287.0h0M249.5 285.5h0M250.0 286.6h0M250.4 289.4h0M250.9 284.7h0M251.3 284.8h0M251.8 287.4h0M252.2 285.8h0M253.1 285.2h0M253.5 285.9h0M254.4 270.8h0M254.9 217.5h0M255.3 224.5h0M255.8 281.2h0M256.2 280.7h0M256.7 289.1h0M257.1 283.9h0M257.6 280.8h0M258.0 282.3h0M258.9 286.6h0M259.8 284.0h0M260.2 287.7h0M260.7 284.2h0M261.6 271.5h0M262.0 278.3h0M262.5 279.3h0M262.9 285.1h0M263.4 278.9h0M263.8 275.5h0M264.3 277.1h0M264.7 272.3h0M265.2 266.8h0M265.6 272.5h0M266.1 278.0h0M266.5 273.3h0M267.0 273.9h0M267.4 272.6h0M267.8 261.4h0M268.3 262.2h0"/>
<path stroke="#000000" d="M26.6 292.2h0M27.0 291.9h0M27.5 290.9h0M27.9 292.7h0M28.4 291.4h0M28.8 292.7h0M29.3 293.2h0M29.7 290.3h0M30.2 293.1h0M30.6 290.8h0M31.1 293.1h0M31.5 291.4h0M32.0 291.6h0M32.4 293.3h0M32.9 292.0h0M33.3 292.3h0M33.7 292.4h0M34.2 291.9h0M34.6 292.7h0M35.1 291.3h0M35.5 292.3h0M36.0 290.9h0M36.4 263.5h0M36.9 291.1h0M37.3 291.6h0M37.8 292.4h0M38.2 292.9h0M38.7 291.5h0M39.1 291.3h0M39.6 292.9h0M40.0 291.8h0M40.4 292.9h0M40.9 290.8h0M41.3 291.0h0M41.8 292.1h0M42.2 291.2h0M42.7 291.2h0M43.1 292.0h0M43.6 292.3h0M44.0 291.0h0M44.5 292.7h0M44.9 291.3h0M45.4 291.2h0M45.8 291.8h0M46.3 291.7h0M46.7 292.6h0M47.1 291.5h0M47.6 291.7h0M48.0 293.3h0M48.5 291.3h0M48.9 291.5h0M49.4 292.0h0M49.8 292.9h0M50.3 292.4h0M50.7 292.6h0M51.2 291.3h0M51.6 291.1h0M52.1 292.0h0M52.5 291.4h0M53.0 291.9h0M53.4 290.9h0M53.8 291.0h0M54.3 292.2h0M54.7 294.2h0M55.2 292.9h0M55.6 292.4h0M56.1 290.4h0M56.5 292.8h0M57.0 291.5h0M57.4 290.8h0M57.9 291.6h0M58.3 291.5h0M58.8 291.8h0M59.2 290.9h0M59.7 293.1h0M60.1 290.8h0M60.5 293.4h0M61.0 291.7h0M61.4 290.5h0M61.9 291.5h0M62.3 292.9h0M62.8 292.2h0M63.2 292.7h0M63.7 293.1h0M64.1 291.1h0M64.6 291.8h0M65.0 292.0h0M65.5 291.6h0M65.9 292.2h0M66.4 291.9h0M66.8 292.5h0M67.2 291.6h0M67.7 291.7h0M68.1 292.7h0M68.6 291.6h0M69.0 291.0h0M69.5 292.6h0M69.9 290.2h0M70.4 291.9h0M70.8 293.3h0M71.3 291.6h0M71.7 291.2h0M72.2 292.1h0M72.6 290.8h0M73.1 291.8h0M73.5 291.0h0M73.9 292.6h0M74.4 293.3h0M74.8 292.5h0M75.3 292.1h0M75.7 291.0h0M76.2 291.5h0M76.6 291.7h0M77.1 293.9h0M77.5 292.2h0M78.0 290.6h0M78.4 291.9h0M78.9 291.2h0M79.3 292.0h0M79.8 292.5h0M80.2 290.3h0M80.6 290.6h0M81.1 292.8h0M81.5 292.4h0M82.0 291.5h0M82.4 291.0h0M82.9 290.4h0M83.3 291.9h0M83.8 292.6h0M84.2 292.7h0M84.7 291.3h0M85.1 292.2h0M85.6 291.9h0M86.0 292.0h0M86.5 292.0h0M86.9 292.3h0M87.3 291.2h0M87.8 292.5h0M88.2 292.9h0M88.7 293.0h0M89.1 292.5h0M89.6 292.4h0M90.0 292.2h0M90.5 292.4h0M90.9 292.0h0M91.4 292.1h0M91.8 292.6h0M92.3 292.4h0M92.7 291.1h0M93.1 293.1h0M93.6 292.5h0M94.0 293.3h0M94.5 292.6h0M94.9 293.8h0M95.4 293.2h0M95.8 293.3h0M96.3 291.5h0M96.7 291.4h0M97.2 291.8h0M97.6 292.6h0M98.1 290.7h0M98.5 291.1h0M99.0 292.8h0M99.4 292.5h0M99.8 293.0h0M100.3 294.0h0M100.7 293.2h0M101.2 293.3h0M101.6 292.6h0M102.1 292.5h0M102.5 292.4h0M103.0 291.5h0M103.4 293.4h0M103.9 292.2h0M104.3 293.8h0M104.8 292.0h0M105.2 292.8h0M105.7 292.3h0M106.1 293.2h0M106.5 294.2h0M107.0 291.5h0M107.4 291.3h0M107.9 293.6h0M108.3 294.1h0M108.8 293.7h0M109.2 291.4h0M109.7 293.7h0M110.1 292.5h0M110.6 292.2h0M111.0 293.6h0M111.5 292.8h0M111.9 293.2h0M112.4 292.5h0M112.8 291.6h0M113.2 291.5h0M113.7 294.4h0M114.1 293.3h0M114.6 293.2h0M115.0 293.5h0M115.5 292.4h0M115.9 293.4h0M116.4 293.8h0M116.8 293.6h0M117.3 293.6h0M117.7 291.7h0M118.2 293.2h0M118.6 292.3h0M119.1 291.4h0M119.5 294.7h0M119.9 292.6h0M120.4 292.9h0M120.8 293.8h0M121.3 294.1h0M121.7 291.7h0M122.2 292.6h0M122.6 294.5h0M123.1 291.8h0M123.5 294.0h0M124.0 293.4h0M124.4 294.3h0M124.9 292.4h0M125.3 291.8h0M125.8 293.6h0M126.2 292.8h0M126.6 293.2h0M127.1 292.8h0M127.5 293.6h0M128.0 293.4h0M128.4 292.3h0M128.9 293.8h0M129.3 293.5h0M129.8 293.3h0M130.2 291.6h0M130.7 292.9h0M131.1 292.9h0M131.6 295.0h0M132.0 293.3h0M132.5 293.1h0M132.9 293.2h0M133.3 293.6h0M133.8 294.6h0M134.2 292.5h0M134.7 294.0h0M135.1 292.9h0M135.6 292.4h0M136.0 293.6h0M136.5 294.2h0M136.9 292.8h0M137.4 292.5h0M137.8 293.2h0M138.3 293.0h0M138.7 294.5h0M139.2 294.5h0M139.6 294.2h0M140.0 293.4h0M140.5 293.5h0M140.9 293.3h0M141.4 294.3h0M141.8 293.1h0M142.3 292.9h0M142.7 293.2h0M143.2 294.4h0M143.6 292.7h0M144.1 292.8h0M144.5 292.5h0M145.0 292.5h0M145.4 294.0h0M145.9 293.6h0M146.3 293.1h0M146.7 293.0h0M147.2 293.7h0M147.6 293.2h0M148.1 292.7h0M148.5 293.7h0M148.9 275.1h0M149.4 280.4h0M149.8 292.0h0M150.3 280.3h0M150.7 285.2h0M151.2 275.2h0M151.6 277.3h0M152.5 282.8h0M153.0 280.0h0M153.4 279.5h0M153.9 280.9h0M154.8 274.4h0M156.1 282.8h0M156.5 277.5h0M157.0 282.9h0M157.4 283.1h0M157.9 279.2h0M158.3 294.4h0M158.8 280.9h0M159.2 277.9h0M159.7 273.5h0M160.1 273.5h0M161.5 286.0h0M161.9 276.6h0M162.4 279.6h0M163.2 274.8h0M164.1 275.8h0M164.6 276.7h0M165.0 275.1h0M165.5 275.6h0M165.9 271.8h0M166.4 274.0h0M167.7 277.7h0M168.2 279.4h0M168.6 272.4h0M169.5 270.4h0M170.0 234.6h0M170.4 221.7h0M170.8 263.7h0M172.2 279.2h0M172.6 275.6h0M173.1 274.7h0M173.5 267.3h0M174.0 270.7h0M174.4 273.5h0M174.9 271.2h0M175.8 273.1h0M176.2 268.7h0M176.7 269.3h0M177.5 273.4h0M178.0 266.3h0M178.4 273.9h0M180.2 277.1h0M180.7 265.4h0M181.6 265.2h0M182.0 268.9h0M182.5 262.2h0M182.9 268.2h0M183.4 267.5h0M183.8 263.0h0M184.7 265.7h0M185.1 264.3h0M185.6 267.8h0M186.0 263.9h0M186.5 265.4h0M186.9 259.2h0M187.4 262.7h0M187.8 264.9h0M188.3 258.4h0M189.2 261.4h0M189.6 258.4h0M190.1 260.2h0M190.5 261.2h0M191.0 258.2h0M191.9 255.5h0M192.3 258.5h0M192.7 260.0h0M195.0 257.9h0M195.4 260.8h0M196.3 256.2h0M196.8 277.2h0M197.2 265.8h0M197.7 258.0h0M198.1 262.1h0M198.6 262.6h0M199.0 258.8h0M199.5 266.3h0M199.9 262.0h0M200.8 249.4h0M201.7 261.8h0M202.1 255.7h0M202.6 255.6h0M204.4 272.5h0M204.8 268.4h0M205.3 265.6h0M205.7 268.8h0M206.2 272.6h0M207.1 264.3h0M207.5 270.8h0M207.9 259.7h0M208.4 264.1h0M208.8 266.6h0M209.7 275.1h0M210.2 271.2h0M210.6 263.7h0M211.1 268.4h0M212.0 278.5h0M212.4 273.8h0M213.3 267.7h0M214.2 274.6h0M215.5 267.7h0M216.0 284.1h0M216.4 276.3h0M216.9 283.4h0M217.3 272.5h0M218.2 280.8h0M218.7 270.8h0M219.1 278.2h0M219.6 282.8h0M220.0 288.1h0M220.5 281.5h0M220.9 279.0h0M221.4 281.6h0M221.8 262.4h0M222.3 281.8h0M222.7 275.4h0M223.6 285.3h0M224.0 289.5h0M224.5 280.8h0M224.9 280.4h0M225.8 274.8h0M226.7 278.2h0M227.2 285.9h0M227.6 281.5h0M228.1 278.2h0M228.5 296.0h0M229.0 285.1h0M229.4 284.8h0M229.8 274.3h0M230.3 287.9h0M230.7 290.4h0M231.2 274.3h0M231.6 285.2h0M232.5 285.8h0M233.0 282.6h0M233.4 281.9h0M233.9 282.9h0M234.3 279.8h0M234.8 287.0h0M235.2 273.3h0M236.1 284.1h0M237.4 286.7h0M237.9 285.8h0M238.8 277.4h0M239.2 291.8h0M239.7 283.9h0M240.1 289.0h0M240.6 285.5h0M241.0 289.9h0M241.5 288.5h0M241.9 284.0h0M242.4 289.5h0M242.8 283.9h0M243.3 283.6h0M243.7 275.6h0M244.6 286.4h0M245.0 230.2h0M245.5 285.3h0M245.9 283.8h0M246.4 284.1h0M246.8 279.3h0M247.3 280.9h0M247.7 289.7h0M248.6 284.2h0M249.5 287.6h0M250.0 285.0h0M250.4 283.2h0M251.3 297.5h0M251.8 277.2h0M252.2 288.8h0M253.5 284.8h0M254.0 289.3h0M254.9 280.5h0M255.3 281.9h0M255.8 282.6h0M257.1 281.9h0M258.0 261.9h0M258.5 272.6h0M258.9 280.5h0M263.4 269.0h0M263.8 259.7h0M264.3 266.8h0M264.7 253.7h0M265.2 266.1h0M265.6 258.9h0M266.5 252.1h0M267.0 244.9h0"/>
</g>
<rect x="26.6" y="195.5" width="242.1" height="161.9" fill="none" stroke="#5a5a5a" stroke-width="0.9"/>
<path d="M26.60,357.4v-2.8M26.60,195.5v2.8M40.19,357.4v-2.8M40.19,195.5v2.8M53.79,357.4v-2.8M53.79,195.5v2.8M67.38,357.4v-2.8M67.38,195.5v2.8M80.97,357.4v-2.8M80.97,195.5v2.8M94.57,357.4v-2.8M94.57,195.5v2.8M108.16,357.4v-2.8M108.16,195.5v2.8M121.75,357.4v-2.8M121.75,195.5v2.8M135.35,357.4v-2.8M135.35,195.5v2.8M148.94,357.4v-2.8M148.94,195.5v2.8M162.53,357.4v-2.8M162.53,195.5v2.8M176.13,357.4v-2.8M176.13,195.5v2.8M189.72,357.4v-2.8M189.72,195.5v2.8M203.32,357.4v-2.8M203.32,195.5v2.8M216.91,357.4v-2.8M216.91,195.5v2.8M230.50,357.4v-2.8M230.50,195.5v2.8M244.10,357.4v-2.8M244.10,195.5v2.8M257.69,357.4v-2.8M257.69,195.5v2.8M26.6,195.50h2.8M268.7,195.50h-2.8M26.6,215.74h2.8M268.7,215.74h-2.8M26.6,235.97h2.8M268.7,235.97h-2.8M26.6,256.21h2.8M268.7,256.21h-2.8M26.6,276.45h2.8M268.7,276.45h-2.8M26.6,296.69h2.8M268.7,296.69h-2.8M26.6,316.92h2.8M268.7,316.92h-2.8M26.6,337.16h2.8M268.7,337.16h-2.8M26.6,357.40h2.8M268.7,357.40h-2.8" stroke="#5a5a5a" stroke-width="0.9" fill="none"/>
<g font-size="9.5" font-weight="bold" fill="#000"><text x="23.6" y="199.2" text-anchor="end">6</text><text x="23.6" y="219.4" text-anchor="end">5</text><text x="23.6" y="239.7" text-anchor="end">4</text><text x="23.6" y="259.9" text-anchor="end">3</text><text x="23.6" y="280.1" text-anchor="end">2</text><text x="23.6" y="300.4" text-anchor="end">1</text><text x="23.6" y="320.6" text-anchor="end">0</text><text x="23.6" y="340.9" text-anchor="end">−1</text><text x="23.6" y="361.1" text-anchor="end">−2</text><text x="26.6" y="370.1" text-anchor="middle">1</text><text x="40.2" y="370.1" text-anchor="middle">2</text><text x="53.8" y="370.1" text-anchor="middle">3</text><text x="67.4" y="370.1" text-anchor="middle">4</text><text x="81.0" y="370.1" text-anchor="middle">5</text><text x="94.6" y="370.1" text-anchor="middle">6</text><text x="108.2" y="370.1" text-anchor="middle">7</text><text x="121.8" y="370.1" text-anchor="middle">8</text><text x="135.3" y="370.1" text-anchor="middle">9</text><text x="148.9" y="370.1" text-anchor="middle">1</text><text x="162.5" y="370.1" text-anchor="middle">2</text><text x="176.1" y="370.1" text-anchor="middle">3</text><text x="189.7" y="370.1" text-anchor="middle">4</text><text x="203.3" y="370.1" text-anchor="middle">5</text><text x="216.9" y="370.1" text-anchor="middle">6</text><text x="230.5" y="370.1" text-anchor="middle">7</text><text x="244.1" y="370.1" text-anchor="middle">8</text><text x="257.7" y="370.1" text-anchor="middle">9</text></g>
<text x="150.3" y="379.0" text-anchor="middle" font-size="9.6" font-weight="bold">month</text>
<text x="305.6" y="353.4" font-size="10.8">2020</text>
<text x="428.2" y="353.4" font-size="10.8">2022</text>
<line x1="425.8" y1="195.5" x2="425.8" y2="357.4" stroke="#ff3040" stroke-opacity="0.7" stroke-width="1" stroke-dasharray="4,2.6"/>
<clipPath id="c4"><rect x="303.4" y="195.5" width="242.3" height="161.9"/></clipPath>
<g clip-path="url(#c4)" fill="none" stroke-linecap="round" stroke-width="3.3">
<path stroke="#ff0000" d="M303.4 233.5h0M303.8 240.3h0M304.3 235.6h0M304.7 231.5h0M305.2 240.5h0M305.6 241.7h0M306.1 233.8h0M306.5 238.6h0M307.0 238.4h0M307.4 234.0h0M307.9 235.1h0M308.3 238.3h0M308.8 237.2h0M309.2 240.9h0M309.7 238.0h0M310.1 236.4h0M310.6 234.4h0M311.0 234.3h0M311.4 230.5h0M311.9 236.4h0M312.3 233.0h0M312.8 235.3h0M313.2 239.4h0M313.7 235.2h0M314.1 235.1h0M314.6 234.1h0M315.0 234.7h0M315.5 235.9h0M315.9 239.2h0M316.4 237.3h0M316.8 235.4h0M317.3 234.2h0M317.7 233.7h0M318.2 235.2h0M318.6 234.3h0M319.0 231.7h0M319.5 235.7h0M319.9 238.1h0M320.4 241.0h0M320.8 236.3h0M321.3 234.4h0M321.7 237.7h0M322.2 231.7h0M322.6 239.3h0M323.1 237.7h0M323.5 236.7h0M324.0 240.6h0M324.4 233.3h0M324.9 239.0h0M325.3 240.4h0M325.8 242.6h0M326.2 233.7h0M326.6 232.5h0M327.1 240.0h0M327.5 241.3h0M328.0 238.2h0M328.4 236.8h0M328.9 238.5h0M329.3 235.2h0M329.8 240.2h0M330.2 230.1h0M330.7 235.6h0M331.1 233.5h0M331.6 238.1h0M332.0 233.7h0M332.5 231.4h0M332.9 239.2h0M333.3 236.4h0M333.8 233.6h0M334.2 235.5h0M334.7 239.6h0M335.1 238.4h0M335.6 235.0h0M336.0 235.8h0M336.5 239.0h0M336.9 235.8h0M337.4 244.1h0M337.8 236.7h0M338.3 233.8h0M338.7 233.9h0M339.2 238.4h0M339.6 236.2h0M340.1 236.3h0M340.5 237.4h0M340.9 239.7h0M341.4 241.7h0M341.8 239.1h0M342.3 241.2h0M342.7 244.2h0M343.2 233.5h0M343.6 242.2h0M344.1 239.7h0M344.5 239.8h0M345.0 243.4h0M345.4 236.8h0M345.9 243.4h0M346.3 232.2h0M346.8 242.5h0M347.2 240.6h0M347.7 238.6h0M348.1 238.5h0M348.5 238.1h0M349.0 234.5h0M349.4 233.6h0M349.9 230.1h0M350.3 241.2h0M350.8 233.8h0M351.2 235.0h0M351.7 238.1h0M352.1 241.4h0M352.6 229.2h0M353.0 233.1h0M353.5 242.9h0M353.9 232.3h0M354.4 235.8h0M354.8 236.6h0M355.3 234.9h0M355.7 239.6h0M356.1 238.2h0M356.6 234.7h0M357.0 241.8h0M357.5 242.6h0M357.9 243.7h0M358.4 235.9h0M358.8 241.9h0M359.3 239.7h0M359.7 240.3h0M360.2 236.9h0M360.6 237.8h0M361.1 241.7h0M361.5 234.6h0M362.0 237.9h0M362.4 238.2h0M362.9 240.9h0M363.3 240.7h0M363.7 240.5h0M364.2 239.8h0M364.6 238.5h0M365.1 238.7h0M365.5 241.0h0M366.0 240.8h0M366.4 238.2h0M366.9 236.7h0M367.3 236.7h0M367.8 241.0h0M368.2 245.2h0M368.7 240.6h0M369.1 240.7h0M369.6 241.1h0M370.0 239.9h0M370.5 243.3h0M370.9 241.4h0M371.3 249.5h0M371.8 236.3h0M372.2 242.1h0M372.7 243.4h0M373.1 240.8h0M373.6 243.4h0M374.0 245.1h0M374.5 240.2h0M374.9 242.8h0M375.4 245.4h0M375.8 241.1h0M376.3 242.0h0M376.7 242.3h0M377.2 244.7h0M377.6 240.3h0M378.1 246.9h0M378.5 241.4h0M378.9 239.2h0M379.4 247.3h0M379.8 243.6h0M380.3 250.3h0M380.7 244.4h0M381.2 250.2h0M381.6 249.1h0M382.1 244.2h0M382.5 241.4h0M383.0 243.4h0M383.4 245.8h0M383.9 247.8h0M384.3 245.2h0M384.8 237.5h0M385.2 240.8h0M385.7 249.9h0M386.1 248.0h0M386.5 250.4h0M387.0 244.0h0M387.4 246.9h0M387.9 251.0h0M388.3 246.7h0M388.8 247.8h0M389.2 249.8h0M389.7 247.5h0M390.1 243.6h0M390.6 249.6h0M391.0 247.8h0M391.5 251.4h0M391.9 248.1h0M392.4 242.0h0M392.8 244.3h0M393.2 248.1h0M393.7 247.5h0M394.1 241.1h0M394.6 245.3h0M395.0 246.2h0M395.5 240.5h0M395.9 245.2h0M396.4 245.9h0M396.8 241.9h0M397.3 247.1h0M397.7 244.0h0M398.2 244.8h0M398.6 241.4h0M399.1 241.9h0M399.5 235.3h0M400.0 238.7h0M400.4 240.5h0M400.8 238.4h0M401.3 240.7h0M401.7 238.8h0M402.2 237.4h0M402.6 237.5h0M403.1 234.1h0M403.5 236.5h0M404.0 240.4h0M404.4 236.9h0M404.9 241.1h0M405.3 230.5h0M405.8 243.1h0M406.2 237.3h0M406.7 235.2h0M407.1 239.8h0M407.6 238.0h0M408.0 233.2h0M408.4 240.4h0M408.9 233.4h0M409.3 237.1h0M409.8 237.4h0M410.2 229.7h0M410.7 233.5h0M411.1 234.7h0M411.6 236.7h0M412.0 235.2h0M412.5 236.2h0M412.9 229.6h0M413.4 234.8h0M413.8 237.8h0M414.3 236.9h0M414.7 233.9h0M415.2 238.7h0M415.6 237.5h0M416.0 240.2h0M416.5 242.4h0M416.9 227.3h0M417.4 235.3h0M417.8 228.7h0M418.3 232.6h0M418.7 233.4h0M419.2 237.8h0M419.6 234.3h0M420.1 233.5h0M420.5 236.9h0M421.0 231.5h0M421.4 229.7h0M421.9 232.1h0M422.3 232.9h0M422.8 239.0h0M423.2 224.3h0M423.6 230.8h0M424.1 237.0h0M424.5 236.9h0M425.0 235.2h0M425.4 236.2h0M425.8 226.2h0M426.3 228.6h0M426.7 226.0h0M427.2 227.5h0M427.6 227.1h0M428.1 229.6h0M428.5 225.9h0M429.0 225.6h0M429.4 228.6h0M429.9 230.9h0M430.3 226.2h0M430.8 231.3h0M431.2 228.6h0M431.7 225.2h0M432.1 223.1h0M432.6 227.3h0M433.0 225.6h0M433.4 223.0h0M433.9 229.4h0M434.3 227.7h0M434.8 225.8h0M435.2 223.0h0M435.7 229.8h0M436.1 229.9h0M436.6 224.0h0M437.0 223.4h0M437.5 228.4h0M437.9 226.5h0M438.4 224.1h0M438.8 227.3h0M439.3 231.9h0M439.7 226.2h0M440.2 224.2h0M440.6 230.2h0M441.1 223.2h0M441.5 227.7h0M441.9 231.7h0M442.4 226.3h0M442.8 231.0h0M443.3 223.1h0M443.7 225.6h0M444.2 222.0h0M444.6 231.5h0M445.1 226.6h0M445.5 223.0h0M446.0 223.7h0M446.4 225.2h0M446.9 225.9h0M447.3 225.2h0M447.8 224.2h0M448.2 222.1h0M448.7 231.8h0M449.1 229.8h0M449.6 228.6h0M450.0 226.5h0M450.4 226.0h0M450.9 228.0h0M451.3 227.3h0M451.8 225.0h0M452.2 223.8h0M452.7 229.3h0M453.1 227.8h0M453.6 227.0h0M454.0 220.3h0M454.5 229.0h0M454.9 226.3h0M455.4 227.0h0M455.8 228.3h0M456.3 224.6h0M456.7 227.4h0M457.2 228.6h0M457.6 227.1h0M458.1 226.5h0M458.5 229.0h0M458.9 229.3h0M459.4 224.2h0M459.8 228.9h0M460.3 224.8h0M460.7 227.8h0M461.2 229.7h0M461.6 230.5h0M462.1 232.1h0M462.5 225.6h0M463.0 225.7h0M463.4 228.7h0M463.9 230.5h0M464.3 229.1h0M464.8 227.2h0M465.2 224.2h0M465.7 229.4h0M466.1 232.3h0M466.6 227.1h0M467.0 228.7h0M467.4 230.0h0M467.9 232.8h0M468.3 226.2h0M468.8 223.9h0M469.2 230.6h0M469.7 231.9h0M470.1 229.4h0M470.6 228.7h0M471.0 226.5h0M471.5 227.7h0M471.9 232.6h0M472.4 227.2h0M472.8 227.2h0M473.3 229.5h0M473.7 227.2h0M474.2 231.8h0M474.6 229.0h0M475.1 231.8h0M475.5 228.1h0M475.9 226.0h0M476.4 233.5h0M476.8 228.0h0M477.3 226.1h0M477.7 227.5h0M478.2 223.7h0M478.6 228.3h0M479.1 222.2h0M479.5 227.9h0M480.0 231.4h0M480.4 228.5h0M480.9 230.0h0M481.3 224.8h0M481.8 223.7h0M482.2 223.5h0M482.7 226.0h0M483.1 228.5h0M483.6 229.7h0M484.0 231.2h0M484.4 226.3h0M484.9 231.5h0M485.3 228.8h0M485.8 227.5h0M486.2 226.9h0M486.7 231.9h0M487.1 231.6h0M487.6 231.4h0M488.0 225.8h0M488.5 231.3h0M488.9 230.7h0M489.4 226.6h0M489.8 225.7h0M490.3 223.0h0M490.7 228.2h0M491.2 225.6h0M491.6 233.0h0M492.1 226.5h0M492.5 225.8h0M492.9 225.5h0M493.4 229.4h0M493.8 224.3h0M494.3 223.7h0M494.7 228.1h0M495.2 228.0h0M495.6 229.0h0M496.1 229.0h0M496.5 228.2h0M497.0 231.7h0M497.4 231.9h0M497.9 229.0h0M498.3 229.6h0M498.8 225.6h0M499.2 228.8h0M499.7 230.9h0M500.1 233.1h0M500.6 229.2h0M501.0 231.2h0M501.4 233.2h0M501.9 223.1h0M502.3 233.6h0M502.8 223.8h0M503.2 219.9h0M503.7 228.0h0M504.1 229.5h0M504.6 226.4h0M505.0 230.8h0M505.5 227.8h0M505.9 226.2h0M506.4 231.8h0M506.8 224.1h0M507.3 228.1h0M507.7 227.5h0M508.2 224.7h0M508.6 232.2h0M509.1 231.8h0M509.5 227.6h0M509.9 227.3h0M510.4 229.0h0M510.8 228.7h0M511.3 229.1h0M511.7 231.0h0M512.2 232.0h0M512.6 230.5h0M513.1 228.1h0M513.5 227.3h0M514.0 231.9h0M514.4 223.8h0M514.9 222.1h0M515.3 228.0h0M515.8 230.7h0M516.2 229.1h0M516.7 226.4h0M517.1 228.8h0M517.6 223.4h0M518.0 229.4h0M518.4 226.0h0M518.9 227.3h0M519.3 222.5h0M519.8 227.5h0M520.2 227.3h0M520.7 231.0h0M521.1 269.0h0M521.6 232.3h0M522.0 219.9h0M522.5 228.5h0M522.9 229.2h0M523.4 228.6h0M523.8 227.6h0M524.3 227.2h0M524.7 233.6h0M525.2 225.2h0M525.6 228.5h0M526.1 228.9h0M526.5 223.8h0M526.9 228.0h0M527.4 230.9h0M527.8 231.1h0M528.3 226.6h0M528.7 228.6h0M529.2 228.4h0M529.6 232.3h0M530.1 228.4h0M530.5 230.7h0M531.0 231.0h0M531.4 225.3h0M531.9 228.1h0M532.3 229.6h0M532.8 226.2h0M533.2 223.8h0M533.7 233.0h0M534.1 226.3h0M534.6 228.2h0M535.0 229.1h0M535.4 225.1h0M535.9 226.6h0M536.3 230.2h0M536.8 225.5h0M537.2 229.5h0M537.7 229.0h0M538.1 232.6h0M538.6 228.9h0M539.0 227.4h0M539.5 229.9h0M539.9 229.0h0M540.4 225.6h0M540.8 229.5h0M541.3 230.8h0M541.7 224.4h0M542.2 231.0h0M542.6 235.6h0M543.1 232.6h0M543.5 229.8h0M543.9 232.5h0M544.4 232.3h0M544.8 230.5h0M545.3 229.7h0"/>
<path stroke="#00ff00" d="M303.4 232.8h0M303.8 231.2h0M304.3 233.5h0M304.7 231.0h0M305.2 227.8h0M305.6 229.8h0M306.1 229.4h0M306.5 231.7h0M307.0 232.3h0M307.4 230.5h0M307.9 231.4h0M308.3 232.1h0M308.8 230.3h0M309.2 229.4h0M309.7 227.6h0M310.1 230.9h0M310.6 230.4h0M311.0 234.5h0M311.4 233.3h0M311.9 232.4h0M312.3 235.4h0M312.8 231.3h0M313.2 234.3h0M313.7 232.8h0M314.1 229.1h0M314.6 231.3h0M315.0 231.2h0M315.5 229.6h0M315.9 230.9h0M316.4 230.1h0M316.8 230.2h0M317.3 231.3h0M317.7 232.8h0M318.2 229.0h0M318.6 232.3h0M319.0 232.0h0M319.5 229.0h0M319.9 231.1h0M320.4 231.8h0M320.8 231.3h0M321.3 232.0h0M321.7 233.4h0M322.2 231.2h0M322.6 233.6h0M323.1 231.6h0M323.5 228.4h0M324.0 230.1h0M324.4 233.2h0M324.9 231.2h0M325.3 229.5h0M325.8 233.3h0M326.2 229.3h0M326.6 231.1h0M327.1 232.1h0M327.5 233.3h0M328.0 231.1h0M328.4 231.1h0M328.9 231.4h0M329.3 230.8h0M329.8 232.6h0M330.2 228.9h0M330.7 231.0h0M331.1 230.6h0M331.6 232.5h0M332.0 231.6h0M332.5 229.0h0M332.9 231.4h0M333.3 231.9h0M333.8 232.2h0M334.2 232.1h0M334.7 232.3h0M335.1 232.0h0M335.6 232.7h0M336.0 232.3h0M336.5 233.0h0M336.9 229.2h0M337.4 232.5h0M337.8 231.0h0M338.3 231.8h0M338.7 230.7h0M339.2 233.4h0M339.6 231.1h0M340.1 229.3h0M340.5 231.6h0M340.9 233.3h0M341.4 228.2h0M341.8 232.1h0M342.3 232.3h0M342.7 230.2h0M343.2 232.1h0M343.6 235.6h0M344.1 230.7h0M344.5 230.9h0M345.0 232.1h0M345.4 232.5h0M345.9 233.0h0M346.3 235.6h0M346.8 233.1h0M347.2 235.3h0M347.7 232.1h0M348.1 233.9h0M348.5 236.5h0M349.0 235.0h0M349.4 234.4h0M349.9 237.7h0M350.3 237.2h0M350.8 235.9h0M351.2 235.7h0M351.7 236.0h0M352.1 239.0h0M352.6 235.5h0M353.0 233.8h0M353.5 232.9h0M353.9 238.3h0M354.4 236.4h0M354.8 238.6h0M355.3 238.6h0M355.7 236.8h0M356.1 234.8h0M356.6 240.6h0M357.0 238.6h0M357.5 241.2h0M357.9 239.8h0M358.4 242.8h0M358.8 243.2h0M359.3 238.3h0M359.7 240.8h0M360.2 241.3h0M360.6 245.3h0M361.1 239.3h0M361.5 243.1h0M362.0 244.1h0M362.4 238.6h0M362.9 244.4h0M363.3 242.3h0M363.7 239.1h0M364.2 245.9h0M364.6 241.2h0M365.1 247.6h0M365.5 247.5h0M366.0 240.4h0M366.4 246.2h0M366.9 249.6h0M367.3 248.1h0M367.8 243.7h0M368.2 246.0h0M368.7 249.1h0M369.1 245.3h0M369.6 246.2h0M370.0 252.1h0M370.5 249.3h0M370.9 246.3h0M371.3 246.1h0M371.8 245.2h0M372.2 245.0h0M372.7 243.4h0M373.1 248.9h0M373.6 251.6h0M374.0 248.8h0M374.5 247.1h0M374.9 247.8h0M375.4 250.9h0M375.8 251.4h0M376.3 249.3h0M376.7 246.6h0M377.2 247.9h0M377.6 247.1h0M378.1 251.9h0M378.5 249.3h0M378.9 251.8h0M379.4 248.2h0M379.8 247.7h0M380.3 254.4h0M380.7 247.0h0M381.2 251.5h0M381.6 247.4h0M382.1 248.0h0M382.5 249.4h0M383.0 252.8h0M383.4 251.7h0M383.9 248.4h0M384.3 253.1h0M384.8 253.0h0M385.2 246.7h0M385.7 248.0h0M386.1 250.2h0M386.5 250.6h0M387.0 249.4h0M387.4 247.1h0M387.9 247.6h0M388.3 250.4h0M388.8 252.6h0M389.2 249.5h0M389.7 249.0h0M390.1 247.7h0M390.6 246.7h0M391.0 253.9h0M391.5 250.3h0M391.9 251.6h0M392.4 249.5h0M392.8 252.2h0M393.2 250.7h0M393.7 244.5h0M394.1 247.2h0M394.6 248.4h0M395.0 250.5h0M395.5 244.6h0M395.9 247.7h0M396.4 244.5h0M396.8 246.1h0M397.3 243.7h0M397.7 248.2h0M398.2 247.7h0M398.6 241.3h0M399.1 239.0h0M399.5 243.6h0M400.0 242.0h0M400.4 245.5h0M400.8 244.9h0M401.3 244.0h0M401.7 240.3h0M402.2 241.7h0M402.6 241.8h0M403.1 241.2h0M403.5 234.0h0M404.0 235.4h0M404.4 239.6h0M404.9 238.2h0M405.3 239.0h0M405.8 239.9h0M406.2 237.2h0M406.7 238.0h0M407.1 237.9h0M407.6 243.2h0M408.0 238.3h0M408.4 236.3h0M408.9 236.5h0M409.3 239.2h0M409.8 235.0h0M410.2 233.8h0M410.7 235.0h0M411.1 238.4h0M411.6 235.2h0M412.0 235.2h0M412.5 236.1h0M412.9 233.0h0M413.4 239.7h0M413.8 235.5h0M414.3 235.3h0M414.7 240.0h0M415.2 235.9h0M415.6 231.1h0M416.0 238.1h0M416.5 232.3h0M416.9 238.6h0M417.4 234.1h0M417.8 240.1h0M418.3 236.8h0M418.7 235.9h0M419.2 238.4h0M419.6 232.4h0M420.1 233.2h0M420.5 231.3h0M421.0 232.5h0M421.4 233.5h0M421.9 234.7h0M422.3 235.3h0M422.8 235.3h0M423.2 234.7h0M423.6 233.2h0M424.1 231.4h0M424.5 232.0h0M425.0 237.6h0M425.4 233.0h0M425.8 221.8h0M426.3 221.4h0M426.7 220.3h0M427.2 222.4h0M427.6 222.0h0M428.1 219.8h0M428.5 222.6h0M429.0 221.4h0M429.4 220.7h0M429.9 221.8h0M430.3 220.6h0M430.8 218.3h0M431.2 218.6h0M431.7 219.0h0M432.1 226.3h0M432.6 219.6h0M433.0 220.6h0M433.4 224.5h0M433.9 221.6h0M434.3 226.4h0M434.8 221.7h0M435.2 218.2h0M435.7 223.2h0M436.1 220.1h0M436.6 222.8h0M437.0 222.6h0M437.5 219.6h0M437.9 221.5h0M438.4 222.3h0M438.8 220.9h0M439.3 218.8h0M439.7 221.8h0M440.2 221.1h0M440.6 223.9h0M441.1 221.3h0M441.5 223.1h0M441.9 222.8h0M442.4 220.6h0M442.8 222.7h0M443.3 224.0h0M443.7 220.3h0M444.2 219.5h0M444.6 219.9h0M445.1 221.2h0M445.5 223.5h0M446.0 222.3h0M446.4 220.7h0M446.9 219.6h0M447.3 220.7h0M447.8 226.1h0M448.2 221.4h0M448.7 219.0h0M449.1 222.8h0M449.6 220.9h0M450.0 219.9h0M450.4 221.4h0M450.9 222.7h0M451.3 220.4h0M451.8 220.6h0M452.2 222.2h0M452.7 219.6h0M453.1 222.5h0M453.6 218.8h0M454.0 219.0h0M454.5 219.7h0M454.9 220.5h0M455.4 222.8h0M455.8 220.4h0M456.3 220.9h0M456.7 223.3h0M457.2 220.6h0M457.6 219.9h0M458.1 219.8h0M458.5 221.0h0M458.9 222.2h0M459.4 220.4h0M459.8 225.9h0M460.3 226.2h0M460.7 222.2h0M461.2 223.3h0M461.6 221.3h0M462.1 222.8h0M462.5 220.3h0M463.0 220.6h0M463.4 219.4h0M463.9 219.0h0M464.3 220.3h0M464.8 222.1h0M465.2 226.3h0M465.7 224.7h0M466.1 222.4h0M466.6 222.5h0M467.0 222.5h0M467.4 222.1h0M467.9 220.2h0M468.3 220.4h0M468.8 223.0h0M469.2 219.0h0M469.7 221.6h0M470.1 221.6h0M470.6 222.9h0M471.0 220.2h0M471.5 220.8h0M471.9 221.7h0M472.4 223.9h0M472.8 219.1h0M473.3 221.9h0M473.7 220.7h0M474.2 220.9h0M474.6 221.6h0M475.1 220.8h0M475.5 221.7h0M475.9 219.8h0M476.4 217.2h0M476.8 221.7h0M477.3 218.9h0M477.7 222.6h0M478.2 219.4h0M478.6 221.3h0M479.1 223.6h0M479.5 221.5h0M480.0 220.8h0M480.4 223.5h0M480.9 220.7h0M481.3 220.3h0M481.8 219.8h0M482.2 222.8h0M482.7 223.3h0M483.1 219.8h0M483.6 222.3h0M484.0 221.5h0M484.4 219.0h0M484.9 222.8h0M485.3 219.8h0M485.8 221.8h0M486.2 221.9h0M486.7 223.3h0M487.1 218.9h0M487.6 220.2h0M488.0 222.1h0M488.5 219.3h0M488.9 222.0h0M489.4 220.4h0M489.8 218.4h0M490.3 220.2h0M490.7 222.5h0M491.2 219.7h0M491.6 223.1h0M492.1 221.8h0M492.5 221.6h0M492.9 220.1h0M493.4 219.0h0M493.8 221.5h0M494.3 222.9h0M494.7 224.6h0M495.2 221.9h0M495.6 220.1h0M496.1 223.2h0M496.5 219.4h0M497.0 221.3h0M497.4 219.5h0M497.9 223.3h0M498.3 219.6h0M498.8 222.9h0M499.2 223.0h0M499.7 218.3h0M500.1 219.4h0M500.6 223.0h0M501.0 221.7h0M501.4 218.1h0M501.9 219.5h0M502.3 223.8h0M502.8 220.1h0M503.2 223.8h0M503.7 222.4h0M504.1 222.1h0M504.6 222.2h0M505.0 222.4h0M505.5 220.8h0M505.9 221.0h0M506.4 222.3h0M506.8 225.8h0M507.3 222.1h0M507.7 220.2h0M508.2 218.4h0M508.6 221.3h0M509.1 224.3h0M509.5 219.4h0M509.9 219.8h0M510.4 221.9h0M510.8 219.5h0M511.3 221.3h0M511.7 219.2h0M512.2 225.0h0M512.6 219.7h0M513.1 220.4h0M513.5 224.7h0M514.0 219.2h0M514.4 218.6h0M514.9 223.6h0M515.3 223.9h0M515.8 223.0h0M516.2 223.6h0M516.7 219.9h0M517.1 222.4h0M517.6 221.4h0M518.0 222.0h0M518.4 223.0h0M518.9 222.0h0M519.3 222.2h0M519.8 223.2h0M520.2 220.7h0M520.7 223.6h0M521.1 219.1h0M521.6 220.5h0M522.0 221.3h0M522.5 221.9h0M522.9 221.3h0M523.4 222.8h0M523.8 222.7h0M524.3 222.5h0M524.7 222.7h0M525.2 220.7h0M525.6 221.7h0M526.1 222.1h0M526.5 220.8h0M526.9 222.9h0M527.4 221.1h0M527.8 220.4h0M528.3 222.7h0M528.7 221.0h0M529.2 222.0h0M529.6 221.1h0M530.1 225.6h0M530.5 224.3h0M531.0 221.4h0M531.4 219.6h0M531.9 220.8h0M532.3 222.8h0M532.8 221.3h0M533.2 222.4h0M533.7 222.6h0M534.1 223.4h0M534.6 221.9h0M535.0 219.4h0M535.4 224.3h0M535.9 219.8h0M536.3 220.9h0M536.8 220.5h0M537.2 223.5h0M537.7 221.5h0M538.1 218.1h0M538.6 222.6h0M539.0 221.6h0M539.5 224.0h0M539.9 223.3h0M540.4 222.7h0M540.8 218.5h0M541.3 222.1h0M541.7 222.5h0M542.2 221.9h0M542.6 219.9h0M543.1 222.2h0M543.5 224.6h0M543.9 220.8h0M544.4 225.2h0M544.8 221.8h0M545.3 221.5h0"/>
<path stroke="#0000ff" d="M303.4 277.2h0M303.8 267.3h0M304.3 272.6h0M304.7 277.9h0M305.2 288.7h0M305.6 292.0h0M306.1 268.1h0M306.5 284.9h0M307.0 276.2h0M307.4 275.1h0M307.9 270.4h0M308.3 272.0h0M308.8 273.4h0M309.2 281.0h0M309.7 269.3h0M310.1 259.9h0M310.6 265.2h0M311.0 257.3h0M311.4 269.5h0M311.9 266.4h0M312.3 255.8h0M312.8 278.4h0M313.2 277.5h0M313.7 270.4h0M314.1 273.8h0M314.6 255.7h0M315.0 285.2h0M315.5 273.8h0M315.9 278.5h0M316.4 273.3h0M316.8 269.2h0M317.3 251.7h0M317.7 274.2h0M318.2 265.7h0M318.6 259.0h0M319.0 256.1h0M319.5 265.2h0M319.9 267.5h0M320.4 266.2h0M320.8 264.9h0M321.3 250.8h0M321.7 259.1h0M322.2 265.6h0M322.6 262.6h0M323.1 263.1h0M323.5 264.2h0M324.0 261.8h0M324.4 257.5h0M324.9 260.2h0M325.3 264.0h0M325.8 259.6h0M326.2 258.0h0M326.6 262.3h0M327.1 261.3h0M327.5 261.0h0M328.0 265.2h0M328.4 261.3h0M328.9 262.2h0M329.3 257.6h0M329.8 254.2h0M330.2 261.5h0M330.7 258.7h0M331.1 255.7h0M331.6 255.6h0M332.0 262.9h0M332.5 260.6h0M332.9 264.4h0M333.3 258.2h0M333.8 261.0h0M334.2 256.6h0M334.7 261.1h0M335.1 258.9h0M335.6 263.2h0M336.0 265.4h0M336.5 257.6h0M336.9 256.3h0M337.4 259.8h0M337.8 258.1h0M338.3 264.0h0M338.7 264.9h0M339.2 258.1h0M339.6 257.8h0M340.1 258.8h0M340.5 262.9h0M340.9 262.7h0M341.4 261.4h0M341.8 263.6h0M342.3 254.5h0M342.7 260.4h0M343.2 259.2h0M343.6 252.2h0M344.1 264.2h0M344.5 253.2h0M345.0 259.9h0M345.4 255.4h0M345.9 254.3h0M346.3 260.3h0M346.8 264.7h0M347.2 263.7h0M347.7 256.1h0M348.1 266.8h0M348.5 269.3h0M349.0 265.2h0M349.4 261.5h0M349.9 265.2h0M350.3 258.7h0M350.8 263.7h0M351.2 257.3h0M351.7 264.7h0M352.1 266.8h0M352.6 262.9h0M353.0 262.6h0M353.5 261.7h0M353.9 268.0h0M354.4 263.4h0M354.8 261.5h0M355.3 262.8h0M355.7 266.1h0M356.1 264.3h0M356.6 254.7h0M357.0 266.1h0M357.5 260.6h0M357.9 262.0h0M358.4 260.2h0M358.8 265.7h0M359.3 266.3h0M359.7 260.3h0M360.2 266.9h0M360.6 260.9h0M361.1 265.4h0M361.5 265.4h0M362.0 261.7h0M362.4 259.2h0M362.9 262.5h0M363.3 267.7h0M363.7 265.5h0M364.2 262.8h0M364.6 265.3h0M365.1 266.2h0M365.5 261.5h0M366.0 263.3h0M366.4 268.4h0M366.9 268.9h0M367.3 267.8h0M367.8 266.8h0M368.2 261.7h0M368.7 279.8h0M369.1 273.3h0M369.6 268.2h0M370.0 274.0h0M370.5 274.8h0M370.9 273.1h0M371.3 276.9h0M371.8 260.6h0M372.2 275.5h0M372.7 274.6h0M373.1 272.2h0M373.6 260.0h0M374.0 282.6h0M374.5 271.4h0M374.9 270.4h0M375.4 265.8h0M375.8 261.9h0M376.3 267.1h0M376.7 272.5h0M377.2 272.0h0M377.6 272.5h0M378.1 265.6h0M378.5 268.1h0M378.9 276.0h0M379.4 271.3h0M379.8 270.7h0M380.3 274.8h0M380.7 266.3h0M381.2 265.3h0M381.6 267.6h0M382.1 269.0h0M382.5 258.9h0M383.0 257.9h0M383.4 259.3h0M383.9 269.9h0M384.3 271.4h0M384.8 275.6h0M385.2 262.0h0M385.7 271.8h0M386.1 272.3h0M386.5 268.0h0M387.0 269.2h0M387.4 259.9h0M387.9 263.5h0M388.3 269.1h0M388.8 269.1h0M389.2 267.7h0M389.7 262.7h0M390.1 268.1h0M390.6 273.5h0M391.0 278.2h0M391.5 269.7h0M391.9 264.6h0M392.4 270.8h0M392.8 259.8h0M393.2 266.7h0M393.7 259.3h0M394.1 274.3h0M394.6 270.3h0M395.0 263.4h0M395.5 272.6h0M395.9 271.2h0M396.4 251.4h0M396.8 265.8h0M397.3 260.3h0M397.7 260.9h0M398.2 267.5h0M398.6 273.9h0M399.1 274.7h0M399.5 263.2h0M400.0 272.0h0M400.4 271.4h0M400.8 271.0h0M401.3 262.9h0M401.7 256.7h0M402.2 257.5h0M402.6 262.4h0M403.1 258.6h0M403.5 263.1h0M404.0 262.8h0M404.4 251.5h0M404.9 265.3h0M405.3 280.4h0M405.8 268.1h0M406.2 279.7h0M406.7 262.9h0M407.1 276.5h0M407.6 271.4h0M408.0 261.0h0M408.4 270.5h0M408.9 280.4h0M409.3 273.6h0M409.8 260.1h0M410.2 262.8h0M410.7 280.0h0M411.1 266.2h0M411.6 276.4h0M412.0 270.6h0M412.5 257.1h0M412.9 258.9h0M413.4 258.5h0M413.8 260.2h0M414.3 258.4h0M414.7 256.0h0M415.2 251.5h0M415.6 269.3h0M416.0 268.9h0M416.5 257.2h0M416.9 263.8h0M417.4 263.0h0M417.8 250.0h0M418.3 270.7h0M418.7 266.5h0M419.2 267.5h0M419.6 269.0h0M420.1 261.5h0M420.5 267.1h0M421.0 252.2h0M421.4 269.4h0M421.9 269.3h0M422.3 261.2h0M422.8 264.8h0M423.2 264.9h0M423.6 263.8h0M424.1 278.2h0M424.5 249.7h0M425.0 262.0h0M425.4 268.0h0M425.8 248.3h0M426.3 255.0h0M426.7 244.0h0M427.2 251.7h0M427.6 245.7h0M428.1 245.7h0M428.5 245.8h0M429.0 247.5h0M429.4 244.7h0M429.9 240.8h0M430.3 246.9h0M430.8 251.7h0M431.2 244.6h0M431.7 245.5h0M432.1 245.3h0M432.6 242.7h0M433.0 251.7h0M433.4 241.4h0M433.9 250.0h0M434.3 245.5h0M434.8 248.5h0M435.2 245.4h0M435.7 249.0h0M436.1 244.8h0M436.6 247.9h0M437.0 250.2h0M437.5 247.6h0M437.9 252.0h0M438.4 252.2h0M438.8 245.3h0M439.3 253.1h0M439.7 244.9h0M440.2 249.6h0M440.6 250.5h0M441.1 244.2h0M441.5 251.9h0M441.9 245.1h0M442.4 245.8h0M442.8 251.4h0M443.3 248.1h0M443.7 248.0h0M444.2 245.9h0M444.6 242.5h0M445.1 250.1h0M445.5 244.2h0M446.0 246.8h0M446.4 249.3h0M446.9 242.7h0M447.3 248.4h0M447.8 247.1h0M448.2 245.3h0M448.7 251.7h0M449.1 248.0h0M449.6 243.6h0M450.0 245.3h0M450.4 243.1h0M450.9 246.8h0M451.3 245.5h0M451.8 245.7h0M452.2 252.4h0M452.7 247.2h0M453.1 248.9h0M453.6 246.9h0M454.0 244.5h0M454.5 245.6h0M454.9 245.5h0M455.4 245.5h0M455.8 249.7h0M456.3 246.9h0M456.7 246.8h0M457.2 245.9h0M457.6 244.9h0M458.1 242.5h0M458.5 243.6h0M458.9 251.8h0M459.4 250.9h0M459.8 247.0h0M460.3 250.7h0M460.7 245.0h0M461.2 254.4h0M461.6 241.6h0M462.1 244.0h0M462.5 246.3h0M463.0 247.1h0M463.4 252.0h0M463.9 245.9h0M464.3 247.6h0M464.8 241.8h0M465.2 248.5h0M465.7 241.6h0M466.1 248.2h0M466.6 251.7h0M467.0 245.7h0M467.4 249.0h0M467.9 240.7h0M468.3 252.3h0M468.8 246.2h0M469.2 246.2h0M469.7 252.9h0M470.1 247.6h0M470.6 245.9h0M471.0 246.0h0M471.5 247.7h0M471.9 250.8h0M472.4 243.5h0M472.8 244.4h0M473.3 243.3h0M473.7 245.9h0M474.2 248.5h0M474.6 250.4h0M475.1 249.9h0M475.5 248.8h0M475.9 246.8h0M476.4 247.1h0M476.8 245.7h0M477.3 246.6h0M477.7 244.6h0M478.2 243.8h0M478.6 246.5h0M479.1 244.8h0M479.5 249.0h0M480.0 253.4h0M480.4 243.1h0M480.9 247.0h0M481.3 252.1h0M481.8 246.0h0M482.2 249.2h0M482.7 256.3h0M483.1 239.6h0M483.6 241.4h0M484.0 249.5h0M484.4 245.9h0M484.9 246.5h0M485.3 246.8h0M485.8 247.5h0M486.2 243.6h0M486.7 248.9h0M487.1 254.8h0M487.6 259.0h0M488.0 256.1h0M488.5 244.9h0M488.9 250.0h0M489.4 250.5h0M489.8 250.0h0M490.3 250.2h0M490.7 250.9h0M491.2 250.0h0M491.6 250.3h0M492.1 252.4h0M492.5 245.8h0M492.9 250.7h0M493.4 236.4h0M493.8 248.0h0M494.3 252.7h0M494.7 244.3h0M495.2 248.8h0M495.6 253.7h0M496.1 241.7h0M496.5 242.8h0M497.0 253.5h0M497.4 244.1h0M497.9 247.1h0M498.3 251.1h0M498.8 256.7h0M499.2 252.6h0M499.7 249.5h0M500.1 256.6h0M500.6 253.2h0M501.0 251.5h0M501.4 248.4h0M501.9 253.5h0M502.3 267.8h0M502.8 245.9h0M503.2 247.7h0M503.7 252.6h0M504.1 251.7h0M504.6 251.0h0M505.0 253.1h0M505.5 264.1h0M505.9 251.0h0M506.4 247.0h0M506.8 248.6h0M507.3 250.4h0M507.7 258.4h0M508.2 253.4h0M508.6 261.1h0M509.1 257.0h0M509.5 246.1h0M509.9 250.0h0M510.4 256.5h0M510.8 245.3h0M511.3 259.2h0M511.7 256.3h0M512.2 250.9h0M512.6 261.5h0M513.1 262.7h0M513.5 248.1h0M514.0 253.8h0M514.4 250.9h0M514.9 259.9h0M515.3 253.8h0M515.8 261.1h0M516.2 245.5h0M516.7 257.7h0M517.1 255.7h0M517.6 256.7h0M518.0 250.4h0M518.4 246.0h0M518.9 247.3h0M519.3 255.8h0M519.8 252.1h0M520.2 245.8h0M520.7 250.9h0M521.1 253.2h0M521.6 247.2h0M522.0 253.8h0M522.5 255.1h0M522.9 254.3h0M523.4 256.1h0M523.8 253.1h0M524.3 251.0h0M524.7 251.2h0M525.2 262.1h0M525.6 245.2h0M526.1 254.0h0M526.5 272.4h0M526.9 248.1h0M527.4 251.1h0M527.8 254.3h0M528.3 257.3h0M528.7 262.0h0M529.2 255.9h0M529.6 255.1h0M530.1 250.4h0M530.5 247.9h0M531.0 257.4h0M531.4 244.9h0M531.9 255.2h0M532.3 249.3h0M532.8 246.5h0M533.2 252.2h0M533.7 250.4h0M534.1 240.3h0M534.6 243.2h0M535.0 253.0h0M535.4 265.3h0M535.9 250.7h0M536.3 250.3h0M536.8 252.9h0M537.2 254.8h0M537.7 257.3h0M538.1 256.6h0M538.6 255.8h0M539.0 250.0h0M539.5 256.1h0M539.9 258.2h0M540.4 246.9h0M540.8 259.6h0M541.3 249.8h0M541.7 262.8h0M542.2 260.8h0M542.6 258.1h0M543.1 263.5h0M543.5 255.6h0M543.9 252.3h0M544.4 255.8h0M544.8 257.2h0M545.3 257.8h0"/>
<path stroke="#00ffff" d="M303.4 244.5h0M303.8 246.6h0M304.3 247.1h0M304.7 250.3h0M305.2 247.5h0M305.6 241.1h0M306.1 241.9h0M306.5 246.6h0M307.0 241.0h0M307.4 242.5h0M307.9 245.1h0M308.3 247.0h0M308.8 246.5h0M309.2 245.6h0M309.7 243.8h0M310.1 245.5h0M310.6 242.2h0M311.0 243.0h0M311.4 239.2h0M311.9 248.4h0M312.3 244.0h0M312.8 245.8h0M313.2 246.3h0M313.7 245.8h0M314.1 243.2h0M314.6 248.7h0M315.0 248.0h0M315.5 244.6h0M315.9 243.5h0M316.4 249.1h0M316.8 246.9h0M317.3 248.1h0M317.7 247.8h0M318.2 248.6h0M318.6 244.4h0M319.0 243.6h0M319.5 245.1h0M319.9 249.6h0M320.4 247.8h0M320.8 239.5h0M321.3 245.5h0M321.7 245.4h0M322.2 241.7h0M322.6 245.1h0M323.1 246.0h0M323.5 247.3h0M324.0 243.1h0M324.4 244.3h0M324.9 246.2h0M325.3 246.0h0M325.8 247.7h0M326.2 244.7h0M326.6 247.8h0M327.1 247.6h0M327.5 242.2h0M328.0 244.3h0M328.4 248.0h0M328.9 249.2h0M329.3 247.9h0M329.8 245.5h0M330.2 248.4h0M330.7 243.9h0M331.1 245.0h0M331.6 245.9h0M332.0 241.7h0M332.5 244.9h0M332.9 246.4h0M333.3 243.3h0M333.8 239.8h0M334.2 243.3h0M334.7 245.8h0M335.1 245.0h0M335.6 252.8h0M336.0 242.6h0M336.5 245.6h0M336.9 245.5h0M337.4 248.0h0M337.8 248.6h0M338.3 246.5h0M338.7 243.7h0M339.2 249.7h0M339.6 250.2h0M340.1 244.7h0M340.5 245.3h0M340.9 246.6h0M341.4 248.7h0M341.8 242.9h0M342.3 243.2h0M342.7 249.0h0M343.2 246.5h0M343.6 248.9h0M344.1 246.9h0M344.5 244.8h0M345.0 242.3h0M345.4 248.4h0M345.9 246.3h0M346.3 247.1h0M346.8 245.8h0M347.2 247.1h0M347.7 249.7h0M348.1 245.7h0M348.5 244.1h0M349.0 244.3h0M349.4 253.5h0M349.9 249.4h0M350.3 248.8h0M350.8 253.8h0M351.2 248.6h0M351.7 249.0h0M352.1 252.5h0M352.6 253.6h0M353.0 251.5h0M353.5 253.7h0M353.9 253.4h0M354.4 255.1h0M354.8 251.5h0M355.3 254.6h0M355.7 259.6h0M356.1 258.3h0M356.6 253.5h0M357.0 258.3h0M357.5 256.4h0M357.9 253.0h0M358.4 259.9h0M358.8 253.8h0M359.3 253.3h0M359.7 257.5h0M360.2 258.4h0M360.6 259.0h0M361.1 254.7h0M361.5 256.4h0M362.0 257.1h0M362.4 259.5h0M362.9 256.8h0M363.3 260.2h0M363.7 257.0h0M364.2 262.9h0M364.6 260.3h0M365.1 260.0h0M365.5 263.2h0M366.0 261.1h0M366.4 259.3h0M366.9 260.9h0M367.3 259.4h0M367.8 263.3h0M368.2 261.2h0M368.7 263.9h0M369.1 267.7h0M369.6 265.5h0M370.0 266.4h0M370.5 264.8h0M370.9 261.8h0M371.3 262.8h0M371.8 265.2h0M372.2 260.6h0M372.7 263.4h0M373.1 262.7h0M373.6 262.6h0M374.0 266.7h0M374.5 271.0h0M374.9 263.8h0M375.4 267.6h0M375.8 257.3h0M376.3 263.5h0M376.7 264.4h0M377.2 266.5h0M377.6 266.1h0M378.1 267.5h0M378.5 267.3h0M378.9 266.8h0M379.4 264.3h0M379.8 263.6h0M380.3 262.6h0M380.7 262.6h0M381.2 268.5h0M381.6 271.8h0M382.1 264.9h0M382.5 264.9h0M383.0 268.1h0M383.4 269.1h0M383.9 267.9h0M384.3 268.1h0M384.8 265.5h0M385.2 268.7h0M385.7 267.2h0M386.1 266.6h0M386.5 269.5h0M387.0 268.8h0M387.4 265.8h0M387.9 267.4h0M388.3 273.1h0M388.8 266.7h0M389.2 267.0h0M389.7 265.1h0M390.1 269.4h0M390.6 265.5h0M391.0 269.5h0M391.5 270.2h0M391.9 270.7h0M392.4 265.4h0M392.8 268.3h0M393.2 268.2h0M393.7 265.5h0M394.1 265.4h0M394.6 264.8h0M395.0 266.9h0M395.5 261.3h0M395.9 260.6h0M396.4 271.9h0M396.8 266.3h0M397.3 264.2h0M397.7 265.5h0M398.2 267.0h0M398.6 265.1h0M399.1 267.8h0M399.5 264.4h0M400.0 257.5h0M400.4 265.1h0M400.8 267.0h0M401.3 260.6h0M401.7 262.5h0M402.2 258.5h0M402.6 260.5h0M403.1 262.6h0M403.5 261.3h0M404.0 255.1h0M404.4 258.9h0M404.9 260.0h0M405.3 254.1h0M405.8 252.6h0M406.2 254.4h0M406.7 253.3h0M407.1 253.8h0M407.6 260.5h0M408.0 249.8h0M408.4 252.7h0M408.9 254.4h0M409.3 251.1h0M409.8 254.6h0M410.2 256.1h0M410.7 248.5h0M411.1 255.2h0M411.6 250.5h0M412.0 253.0h0M412.5 250.1h0M412.9 251.7h0M413.4 250.2h0M413.8 248.2h0M414.3 251.6h0M414.7 249.6h0M415.2 249.0h0M415.6 247.0h0M416.0 246.1h0M416.5 249.7h0M416.9 248.5h0M417.4 254.9h0M417.8 245.1h0M418.3 246.1h0M418.7 248.2h0M419.2 244.8h0M419.6 241.5h0M420.1 244.4h0M420.5 249.9h0M421.0 248.6h0M421.4 242.6h0M421.9 244.4h0M422.3 250.8h0M422.8 245.3h0M423.2 242.9h0M423.6 244.7h0M424.1 242.6h0M424.5 247.4h0M425.0 244.5h0M425.4 249.6h0M425.8 229.6h0M426.3 226.4h0M426.7 232.0h0M427.2 230.4h0M427.6 230.0h0M428.1 232.0h0M428.5 231.4h0M429.0 231.6h0M429.4 232.5h0M429.9 231.0h0M430.3 232.7h0M430.8 231.2h0M431.2 233.2h0M431.7 228.4h0M432.1 232.6h0M432.6 231.9h0M433.0 230.9h0M433.4 235.2h0M433.9 229.7h0M434.3 230.2h0M434.8 228.8h0M435.2 230.1h0M435.7 230.9h0M436.1 230.7h0M436.6 232.3h0M437.0 228.9h0M437.5 232.0h0M437.9 228.5h0M438.4 232.3h0M438.8 229.2h0M439.3 229.1h0M439.7 232.2h0M440.2 229.4h0M440.6 230.7h0M441.1 230.1h0M441.5 229.9h0M441.9 232.5h0M442.4 232.2h0M442.8 230.6h0M443.3 228.0h0M443.7 229.3h0M444.2 232.8h0M444.6 230.9h0M445.1 228.6h0M445.5 235.3h0M446.0 232.2h0M446.4 227.3h0M446.9 231.4h0M447.3 232.8h0M447.8 228.2h0M448.2 227.4h0M448.7 234.2h0M449.1 234.9h0M449.6 230.2h0M450.0 229.3h0M450.4 233.9h0M450.9 232.1h0M451.3 227.4h0M451.8 233.5h0M452.2 229.5h0M452.7 231.0h0M453.1 228.9h0M453.6 231.8h0M454.0 231.5h0M454.5 232.7h0M454.9 230.3h0M455.4 233.1h0M455.8 228.9h0M456.3 231.7h0M456.7 229.6h0M457.2 234.4h0M457.6 235.0h0M458.1 232.2h0M458.5 236.3h0M458.9 228.4h0M459.4 227.7h0M459.8 233.5h0M460.3 228.8h0M460.7 237.7h0M461.2 230.7h0M461.6 232.0h0M462.1 231.7h0M462.5 230.8h0M463.0 232.8h0M463.4 227.5h0M463.9 232.9h0M464.3 230.9h0M464.8 228.9h0M465.2 230.1h0M465.7 234.9h0M466.1 232.1h0M466.6 234.1h0M467.0 230.7h0M467.4 233.1h0M467.9 229.0h0M468.3 232.7h0M468.8 236.4h0M469.2 236.0h0M469.7 232.7h0M470.1 234.3h0M470.6 233.5h0M471.0 236.6h0M471.5 232.7h0M471.9 233.4h0M472.4 234.7h0M472.8 236.0h0M473.3 234.7h0M473.7 237.2h0M474.2 233.6h0M474.6 235.9h0M475.1 234.5h0M475.5 232.1h0M475.9 233.7h0M476.4 232.9h0M476.8 237.2h0M477.3 234.3h0M477.7 237.9h0M478.2 235.3h0M478.6 237.7h0M479.1 239.5h0M479.5 237.7h0M480.0 235.0h0M480.4 237.1h0M480.9 239.0h0M481.3 241.0h0M481.8 239.6h0M482.2 237.9h0M482.7 238.2h0M483.1 235.7h0M483.6 237.3h0M484.0 238.4h0M484.4 231.9h0M484.9 234.6h0M485.3 235.9h0M485.8 233.8h0M486.2 237.5h0M486.7 236.8h0M487.1 239.2h0M487.6 233.3h0M488.0 237.8h0M488.5 232.3h0M488.9 237.9h0M489.4 233.2h0M489.8 237.5h0M490.3 236.5h0M490.7 236.7h0M491.2 235.8h0M491.6 233.6h0M492.1 232.8h0M492.5 232.2h0M492.9 234.8h0M493.4 235.0h0M493.8 232.6h0M494.3 231.6h0M494.7 235.3h0M495.2 235.1h0M495.6 233.4h0M496.1 235.6h0M496.5 235.3h0M497.0 233.5h0M497.4 229.2h0M497.9 232.3h0M498.3 234.4h0M498.8 236.1h0M499.2 236.7h0M499.7 233.2h0M500.1 237.8h0M500.6 233.8h0M501.0 238.1h0M501.4 233.0h0M501.9 231.2h0M502.3 234.4h0M502.8 231.7h0M503.2 234.6h0M503.7 234.3h0M504.1 232.1h0M504.6 231.4h0M505.0 235.6h0M505.5 236.3h0M505.9 234.1h0M506.4 237.2h0M506.8 235.6h0M507.3 238.4h0M507.7 234.7h0M508.2 234.9h0M508.6 236.7h0M509.1 236.1h0M509.5 232.8h0M509.9 238.2h0M510.4 229.4h0M510.8 235.1h0M511.3 238.6h0M511.7 236.8h0M512.2 237.6h0M512.6 237.4h0M513.1 232.1h0M513.5 231.3h0M514.0 237.1h0M514.4 236.2h0M514.9 235.3h0M515.3 234.3h0M515.8 230.3h0M516.2 237.9h0M516.7 234.9h0M517.1 234.4h0M517.6 235.9h0M518.0 236.5h0M518.4 233.5h0M518.9 239.3h0M519.3 235.7h0M519.8 232.1h0M520.2 237.4h0M520.7 236.6h0M521.1 233.2h0M521.6 233.9h0M522.0 234.9h0M522.5 239.0h0M522.9 230.8h0M523.4 235.8h0M523.8 232.4h0M524.3 232.2h0M524.7 231.6h0M525.2 231.4h0M525.6 236.4h0M526.1 236.4h0M526.5 235.7h0M526.9 234.7h0M527.4 233.5h0M527.8 234.4h0M528.3 232.0h0M528.7 234.1h0M529.2 238.6h0M529.6 236.6h0M530.1 235.2h0M530.5 234.9h0M531.0 232.4h0M531.4 232.7h0M531.9 231.9h0M532.3 229.0h0M532.8 238.2h0M533.2 237.6h0M533.7 237.2h0M534.1 233.2h0M534.6 235.2h0M535.0 236.2h0M535.4 236.8h0M535.9 234.2h0M536.3 232.5h0M536.8 234.5h0M537.2 233.3h0M537.7 233.8h0M538.1 234.4h0M538.6 232.4h0M539.0 235.3h0M539.5 232.7h0M539.9 231.1h0M540.4 235.1h0M540.8 232.8h0M541.3 230.2h0M541.7 236.0h0M542.2 234.0h0M542.6 233.9h0M543.1 232.7h0M543.5 234.9h0M543.9 230.6h0M544.4 229.5h0M544.8 235.4h0M545.3 234.8h0"/>
<path stroke="#ff00ff" d="M303.4 243.7h0M303.8 257.7h0M304.3 254.5h0M304.7 249.4h0M305.2 259.0h0M305.6 240.7h0M306.1 255.2h0M306.5 245.6h0M307.0 255.7h0M307.4 254.8h0M307.9 250.6h0M308.3 250.2h0M308.8 245.5h0M309.2 259.1h0M309.7 255.3h0M310.1 251.4h0M310.6 246.1h0M311.0 245.5h0M311.4 249.3h0M311.9 243.4h0M312.3 256.2h0M312.8 247.1h0M313.2 238.6h0M313.7 259.0h0M314.1 243.8h0M314.6 258.4h0M315.0 255.0h0M315.5 240.0h0M315.9 253.5h0M316.4 256.7h0M316.8 249.9h0M317.3 255.9h0M317.7 252.4h0M318.2 246.6h0M318.6 248.9h0M319.0 247.7h0M319.5 252.7h0M319.9 251.7h0M320.4 242.3h0M320.8 255.5h0M321.3 246.6h0M321.7 245.8h0M322.2 253.5h0M322.6 246.7h0M323.1 249.3h0M323.5 241.7h0M324.0 251.3h0M324.4 251.8h0M324.9 251.2h0M325.3 242.9h0M325.8 250.2h0M326.2 247.1h0M326.6 250.4h0M327.1 256.6h0M327.5 239.6h0M328.0 270.7h0M328.4 242.0h0M328.9 260.0h0M329.3 244.1h0M329.8 257.2h0M330.2 244.9h0M330.7 243.7h0M331.1 253.2h0M331.6 250.3h0M332.0 249.5h0M332.5 261.1h0M332.9 267.3h0M333.3 260.1h0M333.8 250.2h0M334.2 243.6h0M334.7 256.5h0M335.1 259.0h0M335.6 249.1h0M336.0 258.0h0M336.5 233.2h0M336.9 260.9h0M337.4 249.1h0M337.8 245.7h0M338.3 259.4h0M338.7 256.1h0M339.2 257.9h0M339.6 258.5h0M340.1 253.1h0M340.5 242.7h0M340.9 257.3h0M341.4 255.5h0M341.8 270.6h0M342.3 251.6h0M342.7 257.8h0M343.2 259.7h0M343.6 260.9h0M344.1 266.1h0M344.5 236.0h0M345.0 263.4h0M345.4 251.2h0M345.9 256.7h0M346.3 256.3h0M346.8 251.2h0M347.2 253.0h0M347.7 260.4h0M348.1 262.5h0M348.5 255.5h0M349.0 264.9h0M349.4 257.6h0M349.9 258.9h0M350.3 255.4h0M350.8 254.1h0M351.2 260.5h0M351.7 258.6h0M352.1 253.6h0M352.6 265.4h0M353.0 253.7h0M353.5 265.3h0M353.9 253.2h0M354.4 258.7h0M354.8 249.1h0M355.3 254.4h0M355.7 257.8h0M356.1 242.4h0M356.6 250.0h0M357.0 258.4h0M357.5 258.7h0M357.9 264.3h0M358.4 266.7h0M358.8 249.5h0M359.3 254.9h0M359.7 272.1h0M360.2 258.6h0M360.6 252.0h0M361.1 256.9h0M361.5 258.2h0M362.0 264.8h0M362.4 264.3h0M362.9 257.3h0M363.3 264.7h0M363.7 256.4h0M364.2 264.6h0M364.6 255.8h0M365.1 263.4h0M365.5 261.8h0M366.0 269.2h0M366.4 282.1h0M366.9 261.7h0M367.3 265.5h0M367.8 263.0h0M368.2 259.3h0M368.7 273.2h0M369.1 283.7h0M369.6 267.8h0M370.0 266.6h0M370.5 270.1h0M370.9 267.6h0M371.3 273.0h0M371.8 266.8h0M372.2 278.4h0M372.7 270.0h0M373.1 275.0h0M373.6 266.5h0M374.0 274.3h0M374.5 267.7h0M374.9 274.4h0M375.4 284.6h0M375.8 271.4h0M376.3 275.8h0M376.7 270.6h0M377.2 286.0h0M377.6 271.5h0M378.1 279.0h0M378.5 282.0h0M378.9 276.6h0M379.4 275.6h0M379.8 284.9h0M380.3 275.7h0M380.7 267.9h0M381.2 278.9h0M381.6 271.9h0M382.1 279.0h0M382.5 277.6h0M383.0 287.3h0M383.4 284.9h0M383.9 286.8h0M384.3 292.3h0M384.8 288.0h0M385.2 286.5h0M385.7 288.8h0M386.1 280.6h0M386.5 279.5h0M387.0 282.5h0M387.4 279.2h0M387.9 283.5h0M388.3 280.8h0M388.8 282.1h0M389.2 286.0h0M389.7 282.7h0M390.1 296.9h0M390.6 283.4h0M391.0 270.3h0M391.5 279.7h0M391.9 291.8h0M392.4 280.7h0M392.8 277.4h0M393.2 284.6h0M393.7 278.9h0M394.1 273.9h0M394.6 290.0h0M395.0 280.3h0M395.5 285.4h0M395.9 285.3h0M396.4 287.0h0M396.8 281.0h0M397.3 265.1h0M397.7 282.7h0M398.2 268.8h0M398.6 293.6h0M399.1 291.3h0M399.5 299.0h0M400.0 281.3h0M400.4 288.3h0M400.8 287.5h0M401.3 272.6h0M401.7 278.4h0M402.2 278.8h0M402.6 294.6h0M403.1 284.7h0M403.5 287.9h0M404.0 273.2h0M404.4 279.2h0M404.9 269.1h0M405.3 276.1h0M405.8 271.4h0M406.2 272.1h0M406.7 260.6h0M407.1 279.1h0M407.6 276.8h0M408.0 279.0h0M408.4 284.3h0M408.9 282.6h0M409.3 279.3h0M409.8 283.8h0M410.2 273.6h0M410.7 273.8h0M411.1 263.9h0M411.6 272.2h0M412.0 274.0h0M412.5 274.3h0M412.9 266.6h0M413.4 266.0h0M413.8 272.9h0M414.3 271.8h0M414.7 271.0h0M415.2 273.7h0M415.6 268.8h0M416.0 276.7h0M416.5 273.4h0M416.9 270.6h0M417.4 270.5h0M417.8 264.7h0M418.3 275.8h0M418.7 275.8h0M419.2 264.1h0M419.6 261.0h0M420.1 271.3h0M420.5 278.9h0M421.0 276.3h0M421.4 271.1h0M421.9 266.4h0M422.3 264.0h0M422.8 275.0h0M423.2 269.9h0M423.6 268.6h0M424.1 268.8h0M424.5 280.2h0M425.0 258.2h0M425.4 270.9h0M425.8 258.0h0M426.3 239.3h0M426.7 235.1h0M427.2 266.0h0M427.6 231.2h0M428.1 234.5h0M428.5 231.0h0M429.0 239.3h0M429.4 235.9h0M429.9 228.5h0M430.3 232.1h0M430.8 230.6h0M431.2 231.0h0M431.7 233.3h0M432.1 227.9h0M432.6 229.7h0M433.0 230.1h0M433.4 230.5h0M433.9 233.7h0M434.3 230.7h0M434.8 229.6h0M435.2 231.5h0M435.7 230.8h0M436.1 230.5h0M436.6 228.7h0M437.0 232.0h0M437.5 229.7h0M437.9 228.9h0M438.4 229.3h0M438.8 234.5h0M439.3 231.8h0M439.7 231.4h0M440.2 228.0h0M440.6 229.2h0M441.1 230.7h0M441.5 230.3h0M441.9 231.7h0M442.4 227.2h0M442.8 229.9h0M443.3 230.8h0M443.7 225.6h0M444.2 230.2h0M444.6 229.5h0M445.1 230.5h0M445.5 231.6h0M446.0 229.4h0M446.4 228.0h0M446.9 230.0h0M447.3 233.1h0M447.8 233.2h0M448.2 229.8h0M448.7 232.4h0M449.1 229.8h0M449.6 228.9h0M450.0 227.9h0M450.4 228.6h0M450.9 229.3h0M451.3 229.1h0M451.8 227.8h0M452.2 233.2h0M452.7 228.0h0M453.1 229.6h0M453.6 231.6h0M454.0 231.5h0M454.5 230.5h0M454.9 225.4h0M455.4 226.8h0M455.8 230.2h0M456.3 231.0h0M456.7 231.6h0M457.2 233.7h0M457.6 227.5h0M458.1 227.2h0M458.5 229.1h0M458.9 228.3h0M459.4 231.2h0M459.8 232.8h0M460.3 225.4h0M460.7 230.5h0M461.2 233.0h0M461.6 238.2h0M462.1 230.0h0M462.5 231.1h0M463.0 230.9h0M463.4 230.4h0M463.9 232.4h0M464.3 230.8h0M464.8 225.5h0M465.2 228.7h0M465.7 230.5h0M466.1 231.5h0M466.6 230.3h0M467.0 228.3h0M467.4 227.8h0M467.9 227.9h0M468.3 223.3h0M468.8 227.3h0M469.2 227.0h0M469.7 223.8h0M470.1 226.0h0M470.6 227.5h0M471.0 229.8h0M471.5 225.0h0M471.9 226.3h0M472.4 225.5h0M472.8 228.5h0M473.3 228.2h0M473.7 228.1h0M474.2 222.9h0M474.6 225.1h0M475.1 225.9h0M475.5 227.5h0M475.9 226.4h0M476.4 227.4h0M476.8 226.7h0M477.3 225.6h0M477.7 231.1h0M478.2 231.7h0M478.6 229.1h0M479.1 229.7h0M479.5 227.5h0M480.0 228.2h0M480.4 225.9h0M480.9 228.1h0M481.3 233.5h0M481.8 230.3h0M482.2 224.5h0M482.7 225.6h0M483.1 230.2h0M483.6 229.2h0M484.0 226.6h0M484.4 222.9h0M484.9 227.7h0M485.3 227.2h0M485.8 229.9h0M486.2 227.0h0M486.7 226.0h0M487.1 226.7h0M487.6 231.4h0M488.0 232.9h0M488.5 224.9h0M488.9 226.2h0M489.4 234.0h0M489.8 225.8h0M490.3 231.5h0M490.7 227.9h0M491.2 233.7h0M491.6 234.1h0M492.1 229.2h0M492.5 235.5h0M492.9 231.7h0M493.4 229.7h0M493.8 243.4h0M494.3 230.5h0M494.7 230.8h0M495.2 231.0h0M495.6 240.8h0M496.1 241.9h0M496.5 237.8h0M497.0 236.2h0M497.4 238.3h0M497.9 240.7h0M498.3 241.7h0M498.8 238.5h0M499.2 238.2h0M499.7 243.8h0M500.1 238.0h0M500.6 243.1h0M501.0 242.9h0M501.4 254.1h0M501.9 259.0h0M502.3 246.4h0M502.8 246.0h0M503.2 250.7h0M503.7 245.1h0M504.1 251.9h0M504.6 250.8h0M505.0 253.1h0M505.5 248.1h0M505.9 252.3h0M506.4 258.6h0M506.8 240.2h0M507.3 248.2h0M507.7 249.2h0M508.2 245.8h0M508.6 244.7h0M509.1 245.8h0M509.5 240.7h0M509.9 247.1h0M510.4 248.7h0M510.8 251.4h0M511.3 254.1h0M511.7 240.2h0M512.2 241.5h0M512.6 259.6h0M513.1 250.0h0M513.5 245.0h0M514.0 252.3h0M514.4 261.3h0M514.9 251.8h0M515.3 243.0h0M515.8 252.9h0M516.2 241.0h0M516.7 259.5h0M517.1 253.6h0M517.6 248.1h0M518.0 248.4h0M518.4 240.1h0M518.9 249.3h0M519.3 249.2h0M519.8 257.5h0M520.2 257.4h0M520.7 247.9h0M521.1 246.1h0M521.6 244.2h0M522.0 251.2h0M522.5 246.2h0M522.9 249.0h0M523.4 248.2h0M523.8 237.6h0M524.3 250.4h0M524.7 248.2h0M525.2 251.3h0M525.6 248.0h0M526.1 246.2h0M526.5 251.7h0M526.9 252.7h0M527.4 250.4h0M527.8 246.6h0M528.3 238.4h0M528.7 252.8h0M529.2 236.1h0M529.6 245.8h0M530.1 250.7h0M530.5 244.1h0M531.0 239.9h0M531.4 256.8h0M531.9 254.1h0M532.3 250.3h0M532.8 254.1h0M533.2 249.2h0M533.7 241.3h0M534.1 254.9h0M534.6 254.9h0M535.0 258.3h0M535.4 250.4h0M535.9 239.9h0M536.3 246.6h0M536.8 247.8h0M537.2 248.0h0M537.7 241.5h0M538.1 238.7h0M538.6 252.4h0M539.0 245.4h0M539.5 251.4h0M539.9 249.3h0M540.4 255.6h0M540.8 244.8h0M541.3 239.0h0M541.7 249.4h0M542.2 246.6h0M542.6 242.3h0M543.1 248.3h0M543.5 255.8h0M543.9 250.5h0M544.4 245.1h0M544.8 242.6h0M545.3 250.8h0"/>
<path stroke="#ffff00" d="M303.4 235.9h0M303.8 231.8h0M304.3 236.7h0M304.7 235.0h0M305.2 233.1h0M305.6 238.7h0M306.1 232.1h0M306.5 229.0h0M307.0 229.8h0M307.4 234.2h0M307.9 239.9h0M308.3 232.4h0M308.8 236.7h0M309.2 232.4h0M309.7 239.9h0M310.1 237.0h0M310.6 230.8h0M311.0 237.5h0M311.4 234.2h0M311.9 235.4h0M312.3 236.5h0M312.8 235.6h0M313.2 246.3h0M313.7 237.0h0M314.1 238.0h0M314.6 231.9h0M315.0 237.9h0M315.5 236.6h0M315.9 234.0h0M316.4 240.4h0M316.8 236.0h0M317.3 234.9h0M317.7 236.1h0M318.2 237.5h0M318.6 235.9h0M319.0 234.2h0M319.5 236.2h0M319.9 234.6h0M320.4 235.6h0M320.8 236.1h0M321.3 237.2h0M321.7 237.3h0M322.2 236.5h0M322.6 235.9h0M323.1 236.5h0M323.5 236.5h0M324.0 237.0h0M324.4 242.1h0M324.9 240.2h0M325.3 234.1h0M325.8 237.2h0M326.2 230.9h0M326.6 231.7h0M327.1 238.4h0M327.5 235.2h0M328.0 237.3h0M328.4 241.2h0M328.9 233.0h0M329.3 241.6h0M329.8 232.9h0M330.2 232.0h0M330.7 234.0h0M331.1 232.6h0M331.6 238.2h0M332.0 229.6h0M332.5 237.4h0M332.9 237.3h0M333.3 233.2h0M333.8 233.8h0M334.2 233.9h0M334.7 236.0h0M335.1 245.6h0M335.6 241.2h0M336.0 235.8h0M336.5 233.0h0M336.9 235.2h0M337.4 237.3h0M337.8 228.6h0M338.3 234.0h0M338.7 235.7h0M339.2 236.7h0M339.6 239.7h0M340.1 235.4h0M340.5 240.3h0M340.9 238.9h0M341.4 236.9h0M341.8 235.1h0M342.3 241.3h0M342.7 239.8h0M343.2 234.2h0M343.6 235.0h0M344.1 238.1h0M344.5 234.5h0M345.0 239.5h0M345.4 236.8h0M345.9 238.8h0M346.3 237.9h0M346.8 236.6h0M347.2 235.5h0M347.7 236.1h0M348.1 233.6h0M348.5 236.9h0M349.0 230.4h0M349.4 236.2h0M349.9 240.2h0M350.3 235.8h0M350.8 239.0h0M351.2 237.9h0M351.7 243.2h0M352.1 235.3h0M352.6 233.1h0M353.0 234.1h0M353.5 235.7h0M353.9 238.0h0M354.4 236.7h0M354.8 234.2h0M355.3 236.1h0M355.7 239.0h0M356.1 238.9h0M356.6 231.8h0M357.0 236.9h0M357.5 236.8h0M357.9 239.6h0M358.4 235.3h0M358.8 239.1h0M359.3 248.6h0M359.7 236.6h0M360.2 245.9h0M360.6 244.2h0M361.1 229.5h0M361.5 241.6h0M362.0 244.8h0M362.4 250.8h0M362.9 242.8h0M363.3 242.9h0M363.7 248.1h0M364.2 250.7h0M364.6 249.5h0M365.1 239.3h0M365.5 241.3h0M366.0 241.1h0M366.4 231.5h0M366.9 247.2h0M367.3 233.3h0M367.8 238.5h0M368.2 246.0h0M368.7 245.5h0M369.1 241.4h0M369.6 247.3h0M370.0 245.9h0M370.5 245.1h0M370.9 245.2h0M371.3 247.1h0M371.8 244.4h0M372.2 250.2h0M372.7 251.8h0M373.1 244.8h0M373.6 243.0h0M374.0 255.5h0M374.5 249.6h0M374.9 243.4h0M375.4 245.3h0M375.8 244.2h0M376.3 240.9h0M376.7 240.6h0M377.2 249.2h0M377.6 243.4h0M378.1 238.4h0M378.5 245.8h0M378.9 246.7h0M379.4 250.6h0M379.8 256.6h0M380.3 259.6h0M380.7 253.9h0M381.2 246.2h0M381.6 250.0h0M382.1 255.5h0M382.5 247.5h0M383.0 244.1h0M383.4 255.4h0M383.9 250.4h0M384.3 246.9h0M384.8 244.1h0M385.2 247.3h0M385.7 245.8h0M386.1 244.1h0M386.5 247.4h0M387.0 247.8h0M387.4 245.5h0M387.9 254.2h0M388.3 240.3h0M388.8 248.6h0M389.2 241.0h0M389.7 240.6h0M390.1 250.7h0M390.6 241.3h0M391.0 240.2h0M391.5 248.3h0M391.9 248.7h0M392.4 249.7h0M392.8 242.1h0M393.2 239.9h0M393.7 238.6h0M394.1 242.2h0M394.6 241.3h0M395.0 246.9h0M395.5 242.5h0M395.9 242.7h0M396.4 243.4h0M396.8 237.5h0M397.3 242.9h0M397.7 236.5h0M398.2 237.0h0M398.6 236.3h0M399.1 238.3h0M399.5 231.4h0M400.0 239.3h0M400.4 241.7h0M400.8 237.5h0M401.3 232.5h0M401.7 231.1h0M402.2 237.4h0M402.6 234.2h0M403.1 230.7h0M403.5 236.5h0M404.0 236.4h0M404.4 233.4h0M404.9 230.5h0M405.3 225.6h0M405.8 229.6h0M406.2 230.5h0M406.7 231.1h0M407.1 228.9h0M407.6 232.1h0M408.0 227.7h0M408.4 226.7h0M408.9 236.1h0M409.3 229.4h0M409.8 224.2h0M410.2 232.9h0M410.7 231.1h0M411.1 228.1h0M411.6 232.7h0M412.0 235.0h0M412.5 225.3h0M412.9 232.6h0M413.4 230.4h0M413.8 232.2h0M414.3 222.8h0M414.7 226.8h0M415.2 226.8h0M415.6 226.7h0M416.0 232.6h0M416.5 226.5h0M416.9 232.1h0M417.4 228.2h0M417.8 226.4h0M418.3 226.0h0M418.7 233.6h0M419.2 224.4h0M419.6 226.6h0M420.1 223.1h0M420.5 227.2h0M421.0 228.2h0M421.4 227.9h0M421.9 227.8h0M422.3 230.4h0M422.8 228.3h0M423.2 224.5h0M423.6 232.1h0M424.1 225.8h0M424.5 232.8h0M425.0 220.0h0M425.4 229.0h0M425.8 224.0h0M426.3 223.1h0M426.7 225.4h0M427.2 226.9h0M427.6 225.4h0M428.1 222.3h0M428.5 226.9h0M429.0 223.1h0M429.4 223.8h0M429.9 227.5h0M430.3 223.6h0M430.8 225.5h0M431.2 228.7h0M431.7 226.0h0M432.1 228.3h0M432.6 223.2h0M433.0 223.4h0M433.4 223.0h0M433.9 222.1h0M434.3 227.1h0M434.8 225.8h0M435.2 218.7h0M435.7 229.1h0M436.1 227.1h0M436.6 226.5h0M437.0 225.6h0M437.5 223.8h0M437.9 226.4h0M438.4 228.1h0M438.8 224.9h0M439.3 226.4h0M439.7 224.9h0M440.2 229.4h0M440.6 222.7h0M441.1 220.4h0M441.5 226.5h0M441.9 222.2h0M442.4 221.7h0M442.8 225.4h0M443.3 223.5h0M443.7 222.3h0M444.2 226.7h0M444.6 226.2h0M445.1 224.0h0M445.5 222.7h0M446.0 225.6h0M446.4 222.3h0M446.9 227.6h0M447.3 270.9h0M447.8 223.6h0M448.2 227.3h0M448.7 219.4h0M449.1 220.7h0M449.6 224.8h0M450.0 223.0h0M450.4 226.8h0M450.9 222.3h0M451.3 226.4h0M451.8 224.6h0M452.2 226.2h0M452.7 223.4h0M453.1 221.6h0M453.6 222.3h0M454.0 224.3h0M454.5 225.4h0M454.9 225.0h0M455.4 220.9h0M455.8 221.5h0M456.3 221.4h0M456.7 223.1h0M457.2 222.6h0M457.6 216.9h0M458.1 226.4h0M458.5 227.3h0M458.9 228.8h0M459.4 229.0h0M459.8 225.4h0M460.3 224.2h0M460.7 224.9h0M461.2 219.5h0M461.6 222.5h0M462.1 221.2h0M462.5 223.6h0M463.0 226.8h0M463.4 224.6h0M463.9 230.4h0M464.3 219.6h0M464.8 225.7h0M465.2 223.8h0M465.7 225.1h0M466.1 226.9h0M466.6 224.4h0M467.0 229.8h0M467.4 222.5h0M467.9 225.4h0M468.3 223.3h0M468.8 224.9h0M469.2 223.7h0M469.7 225.4h0M470.1 226.6h0M470.6 228.3h0M471.0 225.1h0M471.5 227.3h0M471.9 227.9h0M472.4 227.7h0M472.8 219.8h0M473.3 222.8h0M473.7 223.1h0M474.2 226.8h0M474.6 224.4h0M475.1 223.8h0M475.5 221.1h0M475.9 228.0h0M476.4 222.0h0M476.8 218.8h0M477.3 229.8h0M477.7 222.7h0M478.2 223.8h0M478.6 223.9h0M479.1 228.8h0M479.5 224.5h0M480.0 228.8h0M480.4 223.2h0M480.9 224.1h0M481.3 228.0h0M481.8 218.8h0M482.2 218.1h0M482.7 221.4h0M483.1 284.9h0M483.6 270.9h0M484.0 221.9h0M484.4 229.9h0M484.9 224.6h0M485.3 224.3h0M485.8 225.8h0M486.2 223.6h0M486.7 221.2h0M487.1 227.1h0M487.6 224.9h0M488.0 221.4h0M488.5 227.5h0M488.9 227.8h0M489.4 227.5h0M489.8 225.2h0M490.3 228.2h0M490.7 229.8h0M491.2 230.4h0M491.6 228.9h0M492.1 220.7h0M492.5 221.9h0M492.9 232.0h0M493.4 225.2h0M493.8 227.3h0M494.3 224.7h0M494.7 221.8h0M495.2 223.4h0M495.6 224.4h0M496.1 229.6h0M496.5 225.1h0M497.0 228.6h0M497.4 226.3h0M497.9 224.6h0M498.3 226.5h0M498.8 220.5h0M499.2 224.3h0M499.7 224.8h0M500.1 225.0h0M500.6 220.3h0M501.0 225.0h0M501.4 227.5h0M501.9 224.3h0M502.3 228.5h0M502.8 227.8h0M503.2 225.5h0M503.7 223.3h0M504.1 228.8h0M504.6 224.4h0M505.0 227.1h0M505.5 330.4h0M505.9 316.4h0M506.4 227.8h0M506.8 232.7h0M507.3 226.7h0M507.7 223.8h0M508.2 222.7h0M508.6 224.7h0M509.1 230.8h0M509.5 233.5h0M509.9 227.2h0M510.4 224.4h0M510.8 221.3h0M511.3 223.9h0M511.7 223.3h0M512.2 220.7h0M512.6 224.2h0M513.1 229.5h0M513.5 225.0h0M514.0 221.1h0M514.4 229.1h0M514.9 228.5h0M515.3 224.0h0M515.8 223.1h0M516.2 227.1h0M516.7 226.4h0M517.1 224.0h0M517.6 226.5h0M518.0 226.9h0M518.4 227.2h0M518.9 223.8h0M519.3 223.7h0M519.8 227.9h0M520.2 224.7h0M520.7 278.7h0M521.1 222.1h0M521.6 225.3h0M522.0 222.7h0M522.5 225.0h0M522.9 229.1h0M523.4 220.8h0M523.8 225.7h0M524.3 228.7h0M524.7 230.2h0M525.2 229.4h0M525.6 216.9h0M526.1 224.6h0M526.5 221.7h0M526.9 222.6h0M527.4 225.4h0M527.8 223.7h0M528.3 227.6h0M528.7 226.5h0M529.2 222.9h0M529.6 228.3h0M530.1 228.6h0M530.5 225.8h0M531.0 225.8h0M531.4 273.5h0M531.9 227.9h0M532.3 224.3h0M532.8 223.6h0M533.2 225.4h0M533.7 231.0h0M534.1 222.8h0M534.6 227.1h0M535.0 222.8h0M535.4 225.9h0M535.9 222.9h0M536.3 227.1h0M536.8 228.2h0M537.2 227.9h0M537.7 227.2h0M538.1 225.2h0M538.6 226.1h0M539.0 223.9h0M539.5 219.4h0M539.9 224.2h0M540.4 226.7h0M540.8 225.5h0M541.3 229.6h0M541.7 224.7h0M542.2 224.3h0M542.6 223.7h0M543.1 219.4h0M543.5 223.1h0M543.9 227.4h0M544.4 225.3h0M544.8 226.9h0M545.3 224.1h0"/>
<path stroke="#000000" d="M303.4 242.0h0M303.8 236.1h0M304.3 241.7h0M304.7 242.4h0M305.2 241.1h0M305.6 241.6h0M306.1 240.2h0M306.5 240.2h0M307.0 240.0h0M307.4 242.7h0M307.9 238.7h0M308.3 238.2h0M308.8 241.1h0M309.2 242.9h0M309.7 238.8h0M310.1 236.8h0M310.6 239.1h0M311.0 239.1h0M311.4 242.1h0M311.9 238.1h0M312.3 239.7h0M312.8 237.2h0M313.2 240.2h0M313.7 240.1h0M314.1 237.5h0M314.6 240.1h0M315.0 243.9h0M315.5 238.3h0M315.9 237.4h0M316.4 239.8h0M316.8 238.8h0M317.3 240.9h0M317.7 239.4h0M318.2 236.8h0M318.6 243.5h0M319.0 240.1h0M319.5 240.6h0M319.9 242.1h0M320.4 237.5h0M320.8 240.4h0M321.3 238.9h0M321.7 236.2h0M322.2 239.6h0M322.6 238.6h0M323.1 240.9h0M323.5 240.6h0M324.0 241.8h0M324.4 238.5h0M324.9 240.3h0M325.3 239.3h0M325.8 238.0h0M326.2 237.6h0M326.6 239.3h0M327.1 240.7h0M327.5 243.3h0M328.0 237.8h0M328.4 243.9h0M328.9 241.2h0M329.3 243.1h0M329.8 244.7h0M330.2 241.7h0M330.7 240.6h0M331.1 242.7h0M331.6 238.2h0M332.0 236.4h0M332.5 237.6h0M332.9 240.4h0M333.3 238.8h0M333.8 237.2h0M334.2 238.9h0M334.7 241.4h0M335.1 238.3h0M335.6 239.6h0M336.0 239.2h0M336.5 241.9h0M336.9 240.9h0M337.4 241.0h0M337.8 242.1h0M338.3 239.3h0M338.7 239.6h0M339.2 242.6h0M339.6 237.9h0M340.1 238.9h0M340.5 237.5h0M340.9 243.7h0M341.4 244.5h0M341.8 242.0h0M342.3 240.8h0M342.7 240.9h0M343.2 241.4h0M343.6 238.8h0M344.1 240.4h0M344.5 241.0h0M345.0 242.3h0M345.4 243.8h0M345.9 244.6h0M346.3 241.7h0M346.8 245.0h0M347.2 242.6h0M347.7 247.2h0M348.1 245.4h0M348.5 243.3h0M349.0 239.4h0M349.4 244.2h0M349.9 244.1h0M350.3 247.8h0M350.8 248.9h0M351.2 245.6h0M351.7 246.5h0M352.1 241.6h0M352.6 252.7h0M353.0 252.2h0M353.5 240.9h0M353.9 249.9h0M354.4 246.4h0M354.8 243.7h0M355.3 253.2h0M355.7 246.7h0M356.1 251.0h0M356.6 250.7h0M357.0 247.1h0M357.5 247.7h0M357.9 253.7h0M358.4 253.9h0M358.8 253.2h0M359.3 248.2h0M359.7 251.6h0M360.2 251.5h0M360.6 250.3h0M361.1 253.4h0M361.5 253.7h0M362.0 253.5h0M362.4 256.2h0M362.9 254.4h0M363.3 253.6h0M363.7 257.1h0M364.2 253.0h0M364.6 249.6h0M365.1 254.2h0M365.5 258.5h0M366.0 258.4h0M366.4 259.4h0M366.9 255.5h0M367.3 257.7h0M367.8 251.4h0M368.2 256.0h0M368.7 254.1h0M369.1 259.1h0M369.6 261.5h0M370.0 260.4h0M370.5 259.8h0M370.9 260.1h0M371.3 258.2h0M371.8 261.9h0M372.2 258.7h0M372.7 257.4h0M373.1 261.5h0M373.6 261.7h0M374.0 255.9h0M374.5 258.5h0M374.9 257.5h0M375.4 264.9h0M375.8 257.4h0M376.3 260.5h0M376.7 262.7h0M377.2 255.9h0M377.6 252.8h0M378.1 264.9h0M378.5 262.0h0M378.9 260.5h0M379.4 265.3h0M379.8 267.1h0M380.3 261.0h0M380.7 259.2h0M381.2 259.7h0M381.6 265.5h0M382.1 263.9h0M382.5 263.0h0M383.0 263.8h0M383.4 268.9h0M383.9 257.0h0M384.3 260.7h0M384.8 264.4h0M385.2 266.5h0M385.7 262.7h0M386.1 266.2h0M386.5 261.5h0M387.0 266.9h0M387.4 259.6h0M387.9 258.9h0M388.3 264.8h0M388.8 261.6h0M389.2 265.0h0M389.7 267.6h0M390.1 256.1h0M390.6 261.4h0M391.0 263.6h0M391.5 261.3h0M391.9 263.8h0M392.4 262.5h0M392.8 261.3h0M393.2 262.2h0M393.7 262.0h0M394.1 264.1h0M394.6 260.3h0M395.0 256.4h0M395.5 258.7h0M395.9 263.8h0M396.4 258.8h0M396.8 260.9h0M397.3 257.9h0M397.7 267.1h0M398.2 260.4h0M398.6 260.2h0M399.1 259.1h0M399.5 258.9h0M400.0 255.8h0M400.4 255.4h0M400.8 258.5h0M401.3 256.5h0M401.7 241.5h0M402.2 252.6h0M402.6 256.7h0M403.1 254.3h0M403.5 252.9h0M404.0 250.1h0M404.4 255.0h0M404.9 256.6h0M405.3 253.4h0M405.8 249.0h0M406.2 254.4h0M406.7 247.3h0M407.1 246.4h0M407.6 250.7h0M408.0 247.3h0M408.4 246.3h0M408.9 244.7h0M409.3 249.1h0M409.8 244.3h0M410.2 248.4h0M410.7 243.6h0M411.1 241.8h0M411.6 252.8h0M412.0 244.8h0M412.5 247.0h0M412.9 247.0h0M413.4 241.2h0M413.8 240.9h0M414.3 239.9h0M414.7 240.8h0M415.2 243.0h0M415.6 243.1h0M416.0 238.2h0M416.5 239.7h0M416.9 235.9h0M417.4 235.7h0M417.8 239.8h0M418.3 236.9h0M418.7 232.5h0M419.2 233.6h0M419.6 236.2h0M420.1 242.3h0M420.5 233.5h0M421.0 236.6h0M421.4 239.2h0M421.9 231.5h0M422.3 238.4h0M422.8 236.6h0M423.2 239.4h0M423.6 236.7h0M424.1 238.6h0M424.5 238.8h0M425.0 235.3h0M425.4 237.6h0M425.8 228.5h0M426.3 231.9h0M426.7 229.4h0M427.2 229.4h0M427.6 231.4h0M428.1 228.2h0M428.5 228.7h0M429.0 229.2h0M429.4 228.2h0M429.9 229.0h0M430.3 226.8h0M430.8 230.6h0M431.2 232.3h0M431.7 226.5h0M432.1 226.8h0M432.6 228.5h0M433.0 226.8h0M433.4 231.6h0M433.9 228.1h0M434.3 233.6h0M434.8 229.4h0M435.2 228.8h0M435.7 232.0h0M436.1 228.9h0M436.6 231.7h0M437.0 227.7h0M437.5 232.5h0M437.9 226.8h0M438.4 230.0h0M438.8 229.9h0M439.3 232.0h0M439.7 234.0h0M440.2 231.3h0M440.6 232.0h0M441.1 232.9h0M441.5 226.9h0M441.9 224.9h0M442.4 230.8h0M442.8 229.1h0M443.3 231.6h0M443.7 228.9h0M444.2 229.3h0M444.6 230.5h0M445.1 232.2h0M445.5 230.5h0M446.0 232.3h0M446.4 232.1h0M446.9 231.6h0M447.3 231.9h0M447.8 229.3h0M448.2 231.2h0M448.7 229.9h0M449.1 233.6h0M449.6 228.4h0M450.0 235.2h0M450.4 232.0h0M450.9 227.9h0M451.3 230.2h0M451.8 233.0h0M452.2 234.6h0M452.7 229.9h0M453.1 229.5h0M453.6 232.5h0M454.0 229.0h0M454.5 226.1h0M454.9 228.0h0M455.4 231.0h0M455.8 226.0h0M456.3 222.8h0M456.7 227.2h0M457.2 229.7h0M457.6 228.9h0M458.1 230.4h0M458.5 230.2h0M458.9 232.8h0M459.4 233.7h0M459.8 231.5h0M460.3 228.0h0M460.7 224.5h0M461.2 227.0h0M461.6 229.7h0M462.1 230.3h0M462.5 227.9h0M463.0 233.5h0M463.4 234.0h0M463.9 231.2h0M464.3 229.9h0M464.8 231.3h0M465.2 232.6h0M465.7 233.3h0M466.1 229.8h0M466.6 227.5h0M467.0 231.1h0M467.4 230.3h0M467.9 228.4h0M468.3 234.1h0M468.8 226.7h0M469.2 232.7h0M469.7 230.2h0M470.1 235.1h0M470.6 229.2h0M471.0 229.0h0M471.5 237.8h0M471.9 230.1h0M472.4 227.0h0M472.8 233.7h0M473.3 229.6h0M473.7 232.3h0M474.2 230.6h0M474.6 229.4h0M475.1 226.0h0M475.5 229.6h0M475.9 230.9h0M476.4 230.6h0M476.8 234.4h0M477.3 228.2h0M477.7 235.2h0M478.2 232.8h0M478.6 232.6h0M479.1 231.0h0M479.5 233.2h0M480.0 224.8h0M480.4 231.0h0M480.9 227.1h0M481.3 233.3h0M481.8 229.4h0M482.2 227.4h0M482.7 232.8h0M483.1 230.5h0M483.6 229.8h0M484.0 226.9h0M484.4 232.7h0M484.9 232.2h0M485.3 234.8h0M485.8 234.7h0M486.2 232.0h0M486.7 231.3h0M487.1 234.7h0M487.6 228.2h0M488.0 228.2h0M488.5 233.8h0M488.9 234.6h0M489.4 226.6h0M489.8 229.8h0M490.3 231.6h0M490.7 230.9h0M491.2 231.0h0M491.6 232.3h0M492.1 231.3h0M492.5 233.8h0M492.9 229.7h0M493.4 233.2h0M493.8 228.7h0M494.3 233.2h0M494.7 230.2h0M495.2 231.7h0M495.6 233.8h0M496.1 232.2h0M496.5 233.7h0M497.0 233.4h0M497.4 230.6h0M497.9 229.1h0M498.3 235.7h0M498.8 231.5h0M499.2 235.6h0M499.7 226.5h0M500.1 233.1h0M500.6 231.9h0M501.0 232.0h0M501.4 231.8h0M501.9 236.6h0M502.3 232.4h0M502.8 229.8h0M503.2 232.7h0M503.7 234.3h0M504.1 227.0h0M504.6 229.7h0M505.0 232.8h0M505.5 231.1h0M505.9 229.8h0M506.4 236.0h0M506.8 231.5h0M507.3 230.0h0M507.7 228.1h0M508.2 228.9h0M508.6 234.9h0M509.1 234.7h0M509.5 232.7h0M509.9 232.4h0M510.4 231.1h0M510.8 235.8h0M511.3 233.0h0M511.7 232.5h0M512.2 233.1h0M512.6 226.7h0M513.1 230.8h0M513.5 232.7h0M514.0 230.8h0M514.4 231.3h0M514.9 233.1h0M515.3 232.9h0M515.8 237.9h0M516.2 228.4h0M516.7 235.1h0M517.1 234.5h0M517.6 232.0h0M518.0 229.0h0M518.4 232.8h0M518.9 235.0h0M519.3 232.4h0M519.8 235.3h0M520.2 235.1h0M520.7 231.0h0M521.1 234.8h0M521.6 230.6h0M522.0 230.2h0M522.5 232.5h0M522.9 233.7h0M523.4 230.7h0M523.8 235.3h0M524.3 231.2h0M524.7 229.5h0M525.2 232.0h0M525.6 231.9h0M526.1 234.3h0M526.5 235.1h0M526.9 231.7h0M527.4 235.2h0M527.8 236.4h0M528.3 234.1h0M528.7 232.9h0M529.2 230.4h0M529.6 232.9h0M530.1 234.3h0M530.5 231.8h0M531.0 232.9h0M531.4 231.1h0M531.9 234.1h0M532.3 233.2h0M532.8 231.0h0M533.2 232.7h0M533.7 236.6h0M534.1 235.3h0M534.6 230.5h0M535.0 232.7h0M535.4 230.9h0M535.9 233.4h0M536.3 233.0h0M536.8 228.8h0M537.2 228.7h0M537.7 233.0h0M538.1 231.5h0M538.6 230.5h0M539.0 231.5h0M539.5 228.2h0M539.9 226.8h0M540.4 231.7h0M540.8 233.4h0M541.3 231.9h0M541.7 232.2h0M542.2 231.8h0M542.6 230.3h0M543.1 232.2h0M543.5 231.7h0M543.9 233.4h0M544.4 232.8h0M544.8 230.3h0M545.3 229.6h0"/>
</g>
<rect x="303.4" y="195.5" width="242.3" height="161.9" fill="none" stroke="#5a5a5a" stroke-width="0.9"/>
<path d="M303.40,357.4v-2.8M303.40,195.5v2.8M317.00,357.4v-2.8M317.00,195.5v2.8M330.61,357.4v-2.8M330.61,195.5v2.8M344.21,357.4v-2.8M344.21,195.5v2.8M357.82,357.4v-2.8M357.82,195.5v2.8M371.42,357.4v-2.8M371.42,195.5v2.8M385.03,357.4v-2.8M385.03,195.5v2.8M398.63,357.4v-2.8M398.63,195.5v2.8M412.24,357.4v-2.8M412.24,195.5v2.8M425.84,357.4v-2.8M425.84,195.5v2.8M439.45,357.4v-2.8M439.45,195.5v2.8M453.05,357.4v-2.8M453.05,195.5v2.8M466.66,357.4v-2.8M466.66,195.5v2.8M480.26,357.4v-2.8M480.26,195.5v2.8M493.87,357.4v-2.8M493.87,195.5v2.8M507.47,357.4v-2.8M507.47,195.5v2.8M521.08,357.4v-2.8M521.08,195.5v2.8M534.68,357.4v-2.8M534.68,195.5v2.8M303.4,195.50h2.8M545.7,195.50h-2.8M303.4,222.48h2.8M545.7,222.48h-2.8M303.4,249.47h2.8M545.7,249.47h-2.8M303.4,276.45h2.8M545.7,276.45h-2.8M303.4,303.43h2.8M545.7,303.43h-2.8M303.4,330.42h2.8M545.7,330.42h-2.8M303.4,357.40h2.8M545.7,357.40h-2.8" stroke="#5a5a5a" stroke-width="0.9" fill="none"/>
<g font-size="9.5" font-weight="bold" fill="#000"><text x="300.4" y="199.2" text-anchor="end">1</text><text x="300.4" y="226.2" text-anchor="end">0.9</text><text x="300.4" y="253.2" text-anchor="end">0.8</text><text x="300.4" y="280.1" text-anchor="end">0.7</text><text x="300.4" y="307.1" text-anchor="end">0.6</text><text x="300.4" y="334.1" text-anchor="end">0.5</text><text x="300.4" y="361.1" text-anchor="end">0.4</text><text x="303.4" y="370.1" text-anchor="middle">1</text><text x="317.0" y="370.1" text-anchor="middle">2</text><text x="330.6" y="370.1" text-anchor="middle">3</text><text x="344.2" y="370.1" text-anchor="middle">4</text><text x="357.8" y="370.1" text-anchor="middle">5</text><text x="371.4" y="370.1" text-anchor="middle">6</text><text x="385.0" y="370.1" text-anchor="middle">7</text><text x="398.6" y="370.1" text-anchor="middle">8</text><text x="412.2" y="370.1" text-anchor="middle">9</text><text x="425.8" y="370.1" text-anchor="middle">1</text><text x="439.4" y="370.1" text-anchor="middle">2</text><text x="453.1" y="370.1" text-anchor="middle">3</text><text x="466.7" y="370.1" text-anchor="middle">4</text><text x="480.3" y="370.1" text-anchor="middle">5</text><text x="493.9" y="370.1" text-anchor="middle">6</text><text x="507.5" y="370.1" text-anchor="middle">7</text><text x="521.1" y="370.1" text-anchor="middle">8</text><text x="534.7" y="370.1" text-anchor="middle">9</text></g>
<text x="427.2" y="379.0" text-anchor="middle" font-size="9.6" font-weight="bold">month</text>
<text transform="translate(11.2,91.4) rotate(-90)" text-anchor="middle" font-size="9.8" font-weight="bold">STD/TECU</text>
<text transform="translate(285.0,92.3) rotate(-90)" text-anchor="middle" font-size="9.8" font-weight="bold">BIAS/TECU</text>
<text transform="translate(11.2,289.3) rotate(-90)" text-anchor="middle" font-size="9.8" font-weight="bold">RMS/TECU</text>
<text transform="translate(285.3,287.6) rotate(-90)" text-anchor="middle" font-size="9.8" font-weight="bold">PER/TECU</text>
<rect x="71.3" y="384" width="452.2" height="12.2" fill="#fff" stroke="#5a5a5a" stroke-width="0.9"/>
<circle cx="84.8" cy="390.3" r="1.5" fill="#ff0000"/>
<text x="97.8" y="393.4" font-size="9" font-weight="bold">CAS-IGS</text>
<circle cx="148.6" cy="390.3" r="1.5" fill="#00ff00"/>
<text x="161.6" y="393.4" font-size="9" font-weight="bold">COD-IGS</text>
<circle cx="214.3" cy="390.3" r="1.5" fill="#0000ff"/>
<text x="227.3" y="393.4" font-size="9" font-weight="bold">EMR-IGS</text>
<circle cx="280.5" cy="390.3" r="1.5" fill="#00ffff"/>
<text x="293.5" y="393.4" font-size="9" font-weight="bold">ESA-IGS</text>
<circle cx="343.7" cy="390.3" r="1.5" fill="#ff00ff"/>
<text x="356.7" y="393.4" font-size="9" font-weight="bold">JPL-IGS</text>
<circle cx="405.7" cy="390.3" r="1.5" fill="#ffff00"/>
<text x="418.7" y="393.4" font-size="9" font-weight="bold">UPC-IGS</text>
<circle cx="469.6" cy="390.3" r="1.5" fill="#000000"/>
<text x="482.6" y="393.4" font-size="9" font-weight="bold">WHU-IGS</text>
</svg></body></html>
